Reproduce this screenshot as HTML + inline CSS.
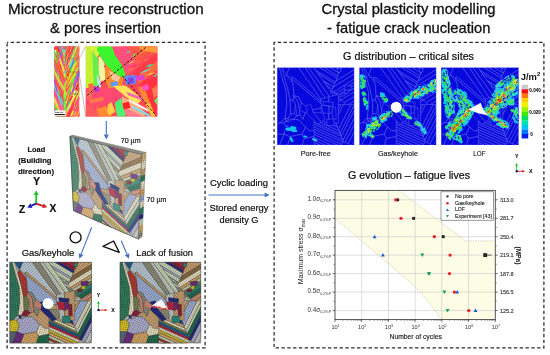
<!DOCTYPE html>
<html lang="en">
<head>
<meta charset="utf-8">
<title>Microstructure reconstruction and crystal plasticity modelling</title>
<style>
html,body{margin:0;padding:0;background:#fff;}
body{width:550px;height:355px;overflow:hidden;}
svg{display:block;font-family:"Liberation Sans", sans-serif;}
</style>
</head>
<body>
<svg width="550" height="355" viewBox="0 0 550 355">
<rect x="0" y="0" width="550" height="355" fill="#ffffff"/>
<text x="8" y="14" font-size="14.3" text-anchor="start" font-weight="normal" fill="#111" stroke="#111" stroke-width="0.31" textLength="195.6" lengthAdjust="spacingAndGlyphs" >Microstructure reconstruction</text>
<text x="50" y="33" font-size="14.3" text-anchor="start" font-weight="normal" fill="#111" stroke="#111" stroke-width="0.31" textLength="111" lengthAdjust="spacingAndGlyphs" >&amp; pores insertion</text>
<text x="321.6" y="14" font-size="14.3" text-anchor="start" font-weight="normal" fill="#111" stroke="#111" stroke-width="0.31" textLength="174" lengthAdjust="spacingAndGlyphs" >Crystal plasticity modelling</text>
<text x="327" y="33" font-size="14.3" text-anchor="start" font-weight="normal" fill="#111" stroke="#111" stroke-width="0.31" textLength="163.4" lengthAdjust="spacingAndGlyphs" >- fatigue crack nucleation</text>
<rect x="7.1" y="42.3" width="198" height="305.6" fill="none" stroke="#2a2a2a" stroke-width="1.25" stroke-dasharray="3.4 2.41" stroke-dashoffset="2.2"/>
<rect x="274.1" y="42.3" width="269.8" height="305.6" fill="none" stroke="#2a2a2a" stroke-width="1.25" stroke-dasharray="3.4 2.41" stroke-dashoffset="2.2"/>
<text x="239" y="185.5" font-size="9.4" text-anchor="middle" font-weight="normal" fill="#111" stroke="#111" stroke-width="0.21" textLength="58" lengthAdjust="spacingAndGlyphs" >Cyclic loading</text>
<text x="239" y="210.5" font-size="9.39" text-anchor="middle" font-weight="normal" fill="#111" stroke="#111" stroke-width="0.21" textLength="59" lengthAdjust="spacingAndGlyphs" >Stored energy</text>
<text x="239" y="223" font-size="9.23" text-anchor="middle" font-weight="normal" fill="#111" stroke="#111" stroke-width="0.20" textLength="39" lengthAdjust="spacingAndGlyphs" >density G</text>
<line x1="208.5" y1="195" x2="266" y2="195" stroke="#4472C4" stroke-width="1.1"/>
<path d="M269.6 195 L264.6 192.4 L264.6 197.6 Z" fill="#4472C4"/>
<defs>
<pattern id="m-63" width="2.1" height="2.1" patternUnits="userSpaceOnUse" patternTransform="rotate(-63)"><path d="M0 0.2 H2.1 M0.2 0 V2.1" stroke="#1a1a1a" stroke-opacity="0.55" stroke-width="0.36" fill="none"/></pattern>
<pattern id="b-63" width="2.1" height="2.1" patternUnits="userSpaceOnUse" patternTransform="matrix(0.839,0.294,0.009,0.974,0,0) rotate(-63)"><path d="M0 0.2 H2.1 M0.2 0 V2.1" stroke="#1a1a1a" stroke-opacity="0.5" stroke-width="0.34" fill="none"/></pattern>
<pattern id="m-40" width="2.1" height="2.1" patternUnits="userSpaceOnUse" patternTransform="rotate(-40)"><path d="M0 0.2 H2.1 M0.2 0 V2.1" stroke="#1a1a1a" stroke-opacity="0.55" stroke-width="0.36" fill="none"/></pattern>
<pattern id="b-40" width="2.1" height="2.1" patternUnits="userSpaceOnUse" patternTransform="matrix(0.839,0.294,0.009,0.974,0,0) rotate(-40)"><path d="M0 0.2 H2.1 M0.2 0 V2.1" stroke="#1a1a1a" stroke-opacity="0.5" stroke-width="0.34" fill="none"/></pattern>
<pattern id="m-32" width="2.1" height="2.1" patternUnits="userSpaceOnUse" patternTransform="rotate(-32)"><path d="M0 0.2 H2.1 M0.2 0 V2.1" stroke="#1a1a1a" stroke-opacity="0.55" stroke-width="0.36" fill="none"/></pattern>
<pattern id="b-32" width="2.1" height="2.1" patternUnits="userSpaceOnUse" patternTransform="matrix(0.839,0.294,0.009,0.974,0,0) rotate(-32)"><path d="M0 0.2 H2.1 M0.2 0 V2.1" stroke="#1a1a1a" stroke-opacity="0.5" stroke-width="0.34" fill="none"/></pattern>
<pattern id="m0" width="2.1" height="2.1" patternUnits="userSpaceOnUse" patternTransform="rotate(0)"><path d="M0 0.2 H2.1 M0.2 0 V2.1" stroke="#1a1a1a" stroke-opacity="0.55" stroke-width="0.36" fill="none"/></pattern>
<pattern id="b0" width="2.1" height="2.1" patternUnits="userSpaceOnUse" patternTransform="matrix(0.839,0.294,0.009,0.974,0,0) rotate(0)"><path d="M0 0.2 H2.1 M0.2 0 V2.1" stroke="#1a1a1a" stroke-opacity="0.5" stroke-width="0.34" fill="none"/></pattern>
<pattern id="m10" width="2.1" height="2.1" patternUnits="userSpaceOnUse" patternTransform="rotate(10)"><path d="M0 0.2 H2.1 M0.2 0 V2.1" stroke="#1a1a1a" stroke-opacity="0.55" stroke-width="0.36" fill="none"/></pattern>
<pattern id="b10" width="2.1" height="2.1" patternUnits="userSpaceOnUse" patternTransform="matrix(0.839,0.294,0.009,0.974,0,0) rotate(10)"><path d="M0 0.2 H2.1 M0.2 0 V2.1" stroke="#1a1a1a" stroke-opacity="0.5" stroke-width="0.34" fill="none"/></pattern>
<pattern id="m15" width="2.1" height="2.1" patternUnits="userSpaceOnUse" patternTransform="rotate(15)"><path d="M0 0.2 H2.1 M0.2 0 V2.1" stroke="#1a1a1a" stroke-opacity="0.55" stroke-width="0.36" fill="none"/></pattern>
<pattern id="b15" width="2.1" height="2.1" patternUnits="userSpaceOnUse" patternTransform="matrix(0.839,0.294,0.009,0.974,0,0) rotate(15)"><path d="M0 0.2 H2.1 M0.2 0 V2.1" stroke="#1a1a1a" stroke-opacity="0.5" stroke-width="0.34" fill="none"/></pattern>
<pattern id="m20" width="2.1" height="2.1" patternUnits="userSpaceOnUse" patternTransform="rotate(20)"><path d="M0 0.2 H2.1 M0.2 0 V2.1" stroke="#1a1a1a" stroke-opacity="0.55" stroke-width="0.36" fill="none"/></pattern>
<pattern id="b20" width="2.1" height="2.1" patternUnits="userSpaceOnUse" patternTransform="matrix(0.839,0.294,0.009,0.974,0,0) rotate(20)"><path d="M0 0.2 H2.1 M0.2 0 V2.1" stroke="#1a1a1a" stroke-opacity="0.5" stroke-width="0.34" fill="none"/></pattern>
<pattern id="m24" width="2.1" height="2.1" patternUnits="userSpaceOnUse" patternTransform="rotate(24)"><path d="M0 0.2 H2.1 M0.2 0 V2.1" stroke="#1a1a1a" stroke-opacity="0.55" stroke-width="0.36" fill="none"/></pattern>
<pattern id="b24" width="2.1" height="2.1" patternUnits="userSpaceOnUse" patternTransform="matrix(0.839,0.294,0.009,0.974,0,0) rotate(24)"><path d="M0 0.2 H2.1 M0.2 0 V2.1" stroke="#1a1a1a" stroke-opacity="0.5" stroke-width="0.34" fill="none"/></pattern>
<pattern id="m25" width="2.1" height="2.1" patternUnits="userSpaceOnUse" patternTransform="rotate(25)"><path d="M0 0.2 H2.1 M0.2 0 V2.1" stroke="#1a1a1a" stroke-opacity="0.55" stroke-width="0.36" fill="none"/></pattern>
<pattern id="b25" width="2.1" height="2.1" patternUnits="userSpaceOnUse" patternTransform="matrix(0.839,0.294,0.009,0.974,0,0) rotate(25)"><path d="M0 0.2 H2.1 M0.2 0 V2.1" stroke="#1a1a1a" stroke-opacity="0.5" stroke-width="0.34" fill="none"/></pattern>
<pattern id="m30" width="2.1" height="2.1" patternUnits="userSpaceOnUse" patternTransform="rotate(30)"><path d="M0 0.2 H2.1 M0.2 0 V2.1" stroke="#1a1a1a" stroke-opacity="0.55" stroke-width="0.36" fill="none"/></pattern>
<pattern id="b30" width="2.1" height="2.1" patternUnits="userSpaceOnUse" patternTransform="matrix(0.839,0.294,0.009,0.974,0,0) rotate(30)"><path d="M0 0.2 H2.1 M0.2 0 V2.1" stroke="#1a1a1a" stroke-opacity="0.5" stroke-width="0.34" fill="none"/></pattern>
<pattern id="m31" width="2.1" height="2.1" patternUnits="userSpaceOnUse" patternTransform="rotate(31)"><path d="M0 0.2 H2.1 M0.2 0 V2.1" stroke="#1a1a1a" stroke-opacity="0.55" stroke-width="0.36" fill="none"/></pattern>
<pattern id="b31" width="2.1" height="2.1" patternUnits="userSpaceOnUse" patternTransform="matrix(0.839,0.294,0.009,0.974,0,0) rotate(31)"><path d="M0 0.2 H2.1 M0.2 0 V2.1" stroke="#1a1a1a" stroke-opacity="0.5" stroke-width="0.34" fill="none"/></pattern>
<pattern id="m40" width="2.1" height="2.1" patternUnits="userSpaceOnUse" patternTransform="rotate(40)"><path d="M0 0.2 H2.1 M0.2 0 V2.1" stroke="#1a1a1a" stroke-opacity="0.55" stroke-width="0.36" fill="none"/></pattern>
<pattern id="b40" width="2.1" height="2.1" patternUnits="userSpaceOnUse" patternTransform="matrix(0.839,0.294,0.009,0.974,0,0) rotate(40)"><path d="M0 0.2 H2.1 M0.2 0 V2.1" stroke="#1a1a1a" stroke-opacity="0.5" stroke-width="0.34" fill="none"/></pattern>
<pattern id="m50" width="2.1" height="2.1" patternUnits="userSpaceOnUse" patternTransform="rotate(50)"><path d="M0 0.2 H2.1 M0.2 0 V2.1" stroke="#1a1a1a" stroke-opacity="0.55" stroke-width="0.36" fill="none"/></pattern>
<pattern id="b50" width="2.1" height="2.1" patternUnits="userSpaceOnUse" patternTransform="matrix(0.839,0.294,0.009,0.974,0,0) rotate(50)"><path d="M0 0.2 H2.1 M0.2 0 V2.1" stroke="#1a1a1a" stroke-opacity="0.5" stroke-width="0.34" fill="none"/></pattern>
<pattern id="m52" width="2.1" height="2.1" patternUnits="userSpaceOnUse" patternTransform="rotate(52)"><path d="M0 0.2 H2.1 M0.2 0 V2.1" stroke="#1a1a1a" stroke-opacity="0.55" stroke-width="0.36" fill="none"/></pattern>
<pattern id="b52" width="2.1" height="2.1" patternUnits="userSpaceOnUse" patternTransform="matrix(0.839,0.294,0.009,0.974,0,0) rotate(52)"><path d="M0 0.2 H2.1 M0.2 0 V2.1" stroke="#1a1a1a" stroke-opacity="0.5" stroke-width="0.34" fill="none"/></pattern>
<pattern id="m55" width="2.1" height="2.1" patternUnits="userSpaceOnUse" patternTransform="rotate(55)"><path d="M0 0.2 H2.1 M0.2 0 V2.1" stroke="#1a1a1a" stroke-opacity="0.55" stroke-width="0.36" fill="none"/></pattern>
<pattern id="b55" width="2.1" height="2.1" patternUnits="userSpaceOnUse" patternTransform="matrix(0.839,0.294,0.009,0.974,0,0) rotate(55)"><path d="M0 0.2 H2.1 M0.2 0 V2.1" stroke="#1a1a1a" stroke-opacity="0.5" stroke-width="0.34" fill="none"/></pattern>
<pattern id="m60" width="2.1" height="2.1" patternUnits="userSpaceOnUse" patternTransform="rotate(60)"><path d="M0 0.2 H2.1 M0.2 0 V2.1" stroke="#1a1a1a" stroke-opacity="0.55" stroke-width="0.36" fill="none"/></pattern>
<pattern id="b60" width="2.1" height="2.1" patternUnits="userSpaceOnUse" patternTransform="matrix(0.839,0.294,0.009,0.974,0,0) rotate(60)"><path d="M0 0.2 H2.1 M0.2 0 V2.1" stroke="#1a1a1a" stroke-opacity="0.5" stroke-width="0.34" fill="none"/></pattern>
<pattern id="m65" width="2.1" height="2.1" patternUnits="userSpaceOnUse" patternTransform="rotate(65)"><path d="M0 0.2 H2.1 M0.2 0 V2.1" stroke="#1a1a1a" stroke-opacity="0.55" stroke-width="0.36" fill="none"/></pattern>
<pattern id="b65" width="2.1" height="2.1" patternUnits="userSpaceOnUse" patternTransform="matrix(0.839,0.294,0.009,0.974,0,0) rotate(65)"><path d="M0 0.2 H2.1 M0.2 0 V2.1" stroke="#1a1a1a" stroke-opacity="0.5" stroke-width="0.34" fill="none"/></pattern>
<pattern id="m70" width="2.1" height="2.1" patternUnits="userSpaceOnUse" patternTransform="rotate(70)"><path d="M0 0.2 H2.1 M0.2 0 V2.1" stroke="#1a1a1a" stroke-opacity="0.55" stroke-width="0.36" fill="none"/></pattern>
<pattern id="b70" width="2.1" height="2.1" patternUnits="userSpaceOnUse" patternTransform="matrix(0.839,0.294,0.009,0.974,0,0) rotate(70)"><path d="M0 0.2 H2.1 M0.2 0 V2.1" stroke="#1a1a1a" stroke-opacity="0.5" stroke-width="0.34" fill="none"/></pattern>
<pattern id="m78" width="2.1" height="2.1" patternUnits="userSpaceOnUse" patternTransform="rotate(78)"><path d="M0 0.2 H2.1 M0.2 0 V2.1" stroke="#1a1a1a" stroke-opacity="0.55" stroke-width="0.36" fill="none"/></pattern>
<pattern id="b78" width="2.1" height="2.1" patternUnits="userSpaceOnUse" patternTransform="matrix(0.839,0.294,0.009,0.974,0,0) rotate(78)"><path d="M0 0.2 H2.1 M0.2 0 V2.1" stroke="#1a1a1a" stroke-opacity="0.5" stroke-width="0.34" fill="none"/></pattern>
<pattern id="m80" width="2.1" height="2.1" patternUnits="userSpaceOnUse" patternTransform="rotate(80)"><path d="M0 0.2 H2.1 M0.2 0 V2.1" stroke="#1a1a1a" stroke-opacity="0.55" stroke-width="0.36" fill="none"/></pattern>
<pattern id="b80" width="2.1" height="2.1" patternUnits="userSpaceOnUse" patternTransform="matrix(0.839,0.294,0.009,0.974,0,0) rotate(80)"><path d="M0 0.2 H2.1 M0.2 0 V2.1" stroke="#1a1a1a" stroke-opacity="0.5" stroke-width="0.34" fill="none"/></pattern>
<pattern id="m85" width="2.1" height="2.1" patternUnits="userSpaceOnUse" patternTransform="rotate(85)"><path d="M0 0.2 H2.1 M0.2 0 V2.1" stroke="#1a1a1a" stroke-opacity="0.55" stroke-width="0.36" fill="none"/></pattern>
<pattern id="b85" width="2.1" height="2.1" patternUnits="userSpaceOnUse" patternTransform="matrix(0.839,0.294,0.009,0.974,0,0) rotate(85)"><path d="M0 0.2 H2.1 M0.2 0 V2.1" stroke="#1a1a1a" stroke-opacity="0.5" stroke-width="0.34" fill="none"/></pattern>
<clipPath id="panel"><rect x="0" y="0" width="81" height="81"/></clipPath>
<filter id="soft" x="-5%" y="-5%" width="110%" height="110%"><feGaussianBlur stdDeviation="0.3"/></filter>
<filter id="soft2" x="-5%" y="-5%" width="110%" height="110%"><feGaussianBlur stdDeviation="0.55"/></filter>
<g id="micro">
<polygon points="0.0,81.0 81.0,81.0 81.0,0.0 0.0,0.0" fill="#b0b3aa" stroke="#2a2a2a" stroke-width="0.32"/>
<polygon points="0.0,81.0 81.0,81.0 81.0,0.0 0.0,0.0" fill="url(#m0)"/>
<polygon points="0.0,58.8 3.6,57.6 8.3,52.9 10.1,38.9 9.5,24.7 5.9,12.9 2.4,0.0 0.0,0.0" fill="#2f7a5c" stroke="#2a2a2a" stroke-width="0.32"/>
<polygon points="0.0,58.8 3.6,57.6 8.3,52.9 10.1,38.9 9.5,24.7 5.9,12.9 2.4,0.0 0.0,0.0" fill="url(#m85)"/>
<polygon points="5.9,12.9 9.5,24.7 10.1,38.9 8.3,52.9 11.2,53.7 14.2,48.4 13.6,34.2 11.2,22.4 7.7,10.5 4.7,0.0 2.4,0.0" fill="#e6dfc0" stroke="#2a2a2a" stroke-width="0.32"/>
<polygon points="5.9,12.9 9.5,24.7 10.1,38.9 8.3,52.9 11.2,53.7 14.2,48.4 13.6,34.2 11.2,22.4 7.7,10.5 4.7,0.0 2.4,0.0" fill="url(#m78)"/>
<polygon points="9.7,7.6 13.0,0.0 4.7,0.0" fill="#1d5c8c" stroke="#2a2a2a" stroke-width="0.32"/>
<polygon points="9.7,7.6 13.0,0.0 4.7,0.0" fill="url(#m60)"/>
<polygon points="11.2,22.4 13.6,34.2 16.6,34.2 17.8,29.5 16.6,16.4 9.7,7.6 7.7,10.5" fill="#b23a32" stroke="#2a2a2a" stroke-width="0.32"/>
<polygon points="11.2,22.4 13.6,34.2 16.6,34.2 17.8,29.5 16.6,16.4 9.7,7.6 7.7,10.5" fill="url(#m70)"/>
<polygon points="9.7,7.6 14.8,11.1 16.6,9.9 42.8,32.4 48.5,36.6 42.8,28.3 22.5,0.0 13.0,0.0" fill="#bccad6" stroke="#2a2a2a" stroke-width="0.32"/>
<polygon points="9.7,7.6 14.8,11.1 16.6,9.9 42.8,32.4 48.5,36.6 42.8,28.3 22.5,0.0 13.0,0.0" fill="url(#m52)"/>
<polygon points="42.8,28.3 50.9,39.5 54.4,37.8 29.6,0.0 22.5,0.0" fill="#8f8d78" stroke="#2a2a2a" stroke-width="0.32"/>
<polygon points="42.8,28.3 50.9,39.5 54.4,37.8 29.6,0.0 22.5,0.0" fill="url(#m55)"/>
<polygon points="54.4,37.8 58.0,34.2 33.1,0.0 29.6,0.0" fill="#c4cac2" stroke="#2a2a2a" stroke-width="0.32"/>
<polygon points="54.4,37.8 58.0,34.2 33.1,0.0 29.6,0.0" fill="url(#m55)"/>
<polygon points="58.0,34.2 61.5,30.7 38.5,0.0 33.1,0.0" fill="#c9d6b8" stroke="#2a2a2a" stroke-width="0.32"/>
<polygon points="58.0,34.2 61.5,30.7 38.5,0.0 33.1,0.0" fill="url(#m55)"/>
<polygon points="17.8,29.5 22.5,30.7 29.8,46.0 34.3,44.9 50.9,41.3 42.8,34.8 14.8,11.1 16.6,16.4" fill="#9dafd6" stroke="#2a2a2a" stroke-width="0.32"/>
<polygon points="17.8,29.5 22.5,30.7 29.8,46.0 34.3,44.9 50.9,41.3 42.8,34.8 14.8,11.1 16.6,16.4" fill="url(#m50)"/>
<polygon points="42.8,34.8 50.9,41.3 48.5,37.8 42.8,32.4 16.6,9.9 14.8,11.1" fill="#d6a565" stroke="#2a2a2a" stroke-width="0.32"/>
<polygon points="42.8,34.8 50.9,41.3 48.5,37.8 42.8,32.4 16.6,9.9 14.8,11.1" fill="url(#m40)"/>
<polygon points="14.2,48.4 18.3,48.4 19.2,37.8 16.6,34.2 13.6,34.2" fill="#74824e" stroke="#2a2a2a" stroke-width="0.32"/>
<polygon points="14.2,48.4 18.3,48.4 19.2,37.8 16.6,34.2 13.6,34.2" fill="url(#m80)"/>
<polygon points="19.2,37.8 20.7,50.8 23.9,49.6 22.5,36.6 17.8,29.5 16.6,34.2" fill="#d08a72" stroke="#2a2a2a" stroke-width="0.32"/>
<polygon points="19.2,37.8 20.7,50.8 23.9,49.6 22.5,36.6 17.8,29.5 16.6,34.2" fill="url(#m70)"/>
<polygon points="22.5,36.6 23.9,49.6 27.2,54.3 29.8,46.0 22.5,30.7 17.8,29.5" fill="#8f8d78" stroke="#2a2a2a" stroke-width="0.32"/>
<polygon points="22.5,36.6 23.9,49.6 27.2,54.3 29.8,46.0 22.5,30.7 17.8,29.5" fill="url(#m65)"/>
<polygon points="11.2,53.7 16.6,54.3 20.7,50.8 18.3,48.4 14.2,48.4" fill="#8c1f3c" stroke="#2a2a2a" stroke-width="0.32"/>
<polygon points="11.2,53.7 16.6,54.3 20.7,50.8 18.3,48.4 14.2,48.4" fill="url(#m60)"/>
<polygon points="8.9,55.5 11.8,56.7 11.2,53.7 8.3,52.9" fill="#1f2a7c" stroke="#2a2a2a" stroke-width="0.32"/>
<polygon points="8.9,55.5 11.8,56.7 11.2,53.7 8.3,52.9" fill="url(#m30)"/>
<polygon points="22.5,54.7 29.8,62.4 34.3,66.2 50.9,66.5 50.9,41.3 34.3,44.9 29.8,46.0 27.2,54.3 23.9,49.6 20.7,50.8 16.6,54.3" fill="#c9a070" stroke="#2a2a2a" stroke-width="0.32"/>
<polygon points="22.5,54.7 29.8,62.4 34.3,66.2 50.9,66.5 50.9,41.3 34.3,44.9 29.8,46.0 27.2,54.3 23.9,49.6 20.7,50.8 16.6,54.3" fill="url(#m30)"/>
<polygon points="7.1,58.2 8.3,56.4 11.8,56.7 8.9,55.5 8.3,52.9 3.6,57.6" fill="#c4cac2" stroke="#2a2a2a" stroke-width="0.32"/>
<polygon points="7.1,58.2 8.3,56.4 11.8,56.7 8.9,55.5 8.3,52.9 3.6,57.6" fill="url(#m20)"/>
<polygon points="0.0,69.7 7.1,69.7 9.5,62.4 7.1,58.2 3.6,57.6 0.0,58.8" fill="#d9c224" stroke="#2a2a2a" stroke-width="0.32"/>
<polygon points="0.0,69.7 7.1,69.7 9.5,62.4 7.1,58.2 3.6,57.6 0.0,58.8" fill="url(#m10)"/>
<polygon points="9.5,62.4 7.1,69.7 13.0,72.1 26.3,69.7 29.8,62.4 22.5,54.7 16.6,54.3 11.8,56.7 8.3,56.4 7.1,58.2" fill="#aeaed0" stroke="#2a2a2a" stroke-width="0.32"/>
<polygon points="9.5,62.4 7.1,69.7 13.0,72.1 26.3,69.7 29.8,62.4 22.5,54.7 16.6,54.3 11.8,56.7 8.3,56.4 7.1,58.2" fill="url(#m25)"/>
<polygon points="0.0,81.0 2.6,81.0 5.9,73.3 7.1,69.7 0.0,69.7" fill="#5d6a78" stroke="#2a2a2a" stroke-width="0.32"/>
<polygon points="0.0,81.0 2.6,81.0 5.9,73.3 7.1,69.7 0.0,69.7" fill="url(#m30)"/>
<polygon points="2.6,81.0 10.9,81.0 14.2,72.1 13.0,72.1 7.1,69.7 5.9,73.3" fill="#6c2c80" stroke="#2a2a2a" stroke-width="0.32"/>
<polygon points="2.6,81.0 10.9,81.0 14.2,72.1 13.0,72.1 7.1,69.7 5.9,73.3" fill="url(#m60)"/>
<polygon points="10.9,81.0 26.4,81.0 28.6,74.2 26.3,69.7 14.2,72.1" fill="#d6a565" stroke="#2a2a2a" stroke-width="0.32"/>
<polygon points="10.9,81.0 26.4,81.0 28.6,74.2 26.3,69.7 14.2,72.1" fill="url(#m20)"/>
<polygon points="28.6,74.2 50.9,69.7 50.9,66.5 34.3,66.2 29.8,62.4 26.3,69.7" fill="#e6dfc0" stroke="#2a2a2a" stroke-width="0.32"/>
<polygon points="28.6,74.2 50.9,69.7 50.9,66.5 34.3,66.2 29.8,62.4 26.3,69.7" fill="url(#m15)"/>
<polygon points="26.4,81.0 50.9,81.0 50.9,69.7 28.6,74.2" fill="#1f6a4c" stroke="#2a2a2a" stroke-width="0.32"/>
<polygon points="26.4,81.0 50.9,81.0 50.9,69.7 28.6,74.2" fill="url(#m15)"/>
<polygon points="61.2,0.0 66.4,3.1 67.8,0.0" fill="#b23a32" stroke="#2a2a2a" stroke-width="0.32"/>
<polygon points="61.2,0.0 66.4,3.1 67.8,0.0" fill="url(#m31)"/>
<polygon points="61.2,0.0 55.4,0.0 65.1,5.8 66.4,3.1" fill="#c0203c" stroke="#2a2a2a" stroke-width="0.32"/>
<polygon points="61.2,0.0 55.4,0.0 65.1,5.8 66.4,3.1" fill="url(#m31)"/>
<polygon points="55.4,0.0 49.2,0.0 63.8,8.8 64.3,7.6 65.1,5.8" fill="#8c1f3c" stroke="#2a2a2a" stroke-width="0.32"/>
<polygon points="55.4,0.0 49.2,0.0 63.8,8.8 64.3,7.6 65.1,5.8" fill="url(#m31)"/>
<polygon points="49.2,0.0 44.5,0.0 63.0,11.1 63.8,8.8" fill="#1f2a7c" stroke="#2a2a2a" stroke-width="0.32"/>
<polygon points="49.2,0.0 44.5,0.0 63.0,11.1 63.8,8.8" fill="url(#m31)"/>
<polygon points="44.5,0.0 38.5,0.0 40.6,3.0 61.3,15.4 61.9,14.1 63.0,11.1" fill="#c9d6b8" stroke="#2a2a2a" stroke-width="0.32"/>
<polygon points="44.5,0.0 38.5,0.0 40.6,3.0 61.3,15.4 61.9,14.1 63.0,11.1" fill="url(#m31)"/>
<polygon points="40.6,3.0 43.1,6.5 60.5,17.0 61.3,15.4" fill="#aeaed0" stroke="#2a2a2a" stroke-width="0.32"/>
<polygon points="40.6,3.0 43.1,6.5 60.5,17.0 61.3,15.4" fill="url(#m31)"/>
<polygon points="43.1,6.5 48.4,13.9 59.0,20.3 60.5,17.0" fill="#c9d6b8" stroke="#2a2a2a" stroke-width="0.32"/>
<polygon points="43.1,6.5 48.4,13.9 59.0,20.3 60.5,17.0" fill="url(#m31)"/>
<polygon points="48.4,13.9 48.5,14.1 52.5,19.6 57.8,22.8 59.0,20.3" fill="#8f8d78" stroke="#2a2a2a" stroke-width="0.32"/>
<polygon points="48.4,13.9 48.5,14.1 52.5,19.6 57.8,22.8 59.0,20.3" fill="url(#m31)"/>
<polygon points="52.5,19.6 55.4,23.7 55.9,24.4 63.5,29.0 57.8,23.0 57.8,22.8" fill="#c4cac2" stroke="#2a2a2a" stroke-width="0.32"/>
<polygon points="52.5,19.6 55.4,23.7 55.9,24.4 63.5,29.0 57.8,23.0 57.8,22.8" fill="url(#m31)"/>
<polygon points="55.9,24.4 58.9,29.5 58.9,29.5 67.3,34.5 68.4,34.2 63.5,29.0" fill="#8f8d78" stroke="#2a2a2a" stroke-width="0.32"/>
<polygon points="55.9,24.4 58.9,29.5 58.9,29.5 67.3,34.5 68.4,34.2 63.5,29.0" fill="url(#m31)"/>
<polygon points="58.9,29.5 58.1,32.5 63.4,35.7 67.3,34.5" fill="#d08a72" stroke="#2a2a2a" stroke-width="0.32"/>
<polygon points="58.9,29.5 58.1,32.5 63.4,35.7 67.3,34.5" fill="url(#m31)"/>
<polygon points="58.1,32.5 56.8,37.0 57.5,37.5 63.4,35.7" fill="#9dafd6" stroke="#2a2a2a" stroke-width="0.32"/>
<polygon points="58.1,32.5 56.8,37.0 57.5,37.5 63.4,35.7" fill="url(#m31)"/>
<polygon points="56.8,37.0 56.6,37.8 57.5,37.5" fill="#bccad6" stroke="#2a2a2a" stroke-width="0.32"/>
<polygon points="56.8,37.0 56.6,37.8 57.5,37.5" fill="url(#m31)"/>
<polygon points="67.8,0.0 67.5,0.6 68.5,0.0" fill="#b23a32" stroke="#2a2a2a" stroke-width="0.32"/>
<polygon points="67.8,0.0 67.5,0.6 68.5,0.0" fill="url(#m-32)"/>
<polygon points="81.0,0.0 68.5,0.0 67.5,0.6 64.3,7.6 61.9,14.1 61.9,14.1 81.0,2.2" fill="#c9a070" stroke="#2a2a2a" stroke-width="0.32"/>
<polygon points="81.0,0.0 68.5,0.0 67.5,0.6 64.3,7.6 61.9,14.1 61.9,14.1 81.0,2.2" fill="url(#m-32)"/>
<polygon points="81.0,2.2 61.9,14.1 58.9,20.5 81.0,6.7" fill="#8a6a40" stroke="#2a2a2a" stroke-width="0.32"/>
<polygon points="81.0,2.2 61.9,14.1 58.9,20.5 81.0,6.7" fill="url(#m-32)"/>
<polygon points="81.0,6.7 58.9,20.5 57.8,23.0 59.9,25.3 81.0,12.1" fill="#e6dfc0" stroke="#2a2a2a" stroke-width="0.32"/>
<polygon points="81.0,6.7 58.9,20.5 57.8,23.0 59.9,25.3 81.0,12.1" fill="url(#m-32)"/>
<polygon points="81.0,12.1 59.9,25.3 61.9,27.3 81.0,15.4" fill="#d6a565" stroke="#2a2a2a" stroke-width="0.32"/>
<polygon points="81.0,12.1 59.9,25.3 61.9,27.3 81.0,15.4" fill="url(#m-32)"/>
<polygon points="81.0,15.4 61.9,27.3 63.7,29.3 81.0,18.5" fill="#c9d6b8" stroke="#2a2a2a" stroke-width="0.32"/>
<polygon points="81.0,15.4 61.9,27.3 63.7,29.3 81.0,18.5" fill="url(#m-32)"/>
<polygon points="81.0,18.5 63.7,29.3 65.5,31.2 81.0,21.5" fill="#74824e" stroke="#2a2a2a" stroke-width="0.32"/>
<polygon points="81.0,18.5 63.7,29.3 65.5,31.2 81.0,21.5" fill="url(#m-32)"/>
<polygon points="81.0,21.5 65.5,31.2 67.9,33.7 81.0,25.5" fill="#2a8a7a" stroke="#2a2a2a" stroke-width="0.32"/>
<polygon points="81.0,21.5 65.5,31.2 67.9,33.7 81.0,25.5" fill="url(#m-32)"/>
<polygon points="81.0,25.5 67.9,33.7 68.4,34.2 70.6,36.8 81.0,30.3" fill="#1f6a4c" stroke="#2a2a2a" stroke-width="0.32"/>
<polygon points="81.0,25.5 67.9,33.7 68.4,34.2 70.6,36.8 81.0,30.3" fill="url(#m-32)"/>
<polygon points="81.0,30.3 70.6,36.8 73.1,39.9 81.0,35.0" fill="#d08a72" stroke="#2a2a2a" stroke-width="0.32"/>
<polygon points="81.0,30.3 70.6,36.8 73.1,39.9 81.0,35.0" fill="url(#m-32)"/>
<polygon points="81.0,35.0 73.1,39.9 74.3,41.3 78.4,41.3 81.0,39.7" fill="#d6a565" stroke="#2a2a2a" stroke-width="0.32"/>
<polygon points="81.0,35.0 73.1,39.9 74.3,41.3 78.4,41.3 81.0,39.7" fill="url(#m-32)"/>
<polygon points="62.1,38.7 61.3,38.7 60.9,41.1" fill="#c0203c" stroke="#2a2a2a" stroke-width="0.32"/>
<polygon points="62.1,38.7 61.3,38.7 60.9,41.1" fill="url(#m-63)"/>
<polygon points="60.9,41.1 59.5,48.6 64.5,38.7 62.1,38.7" fill="#8c1f3c" stroke="#2a2a2a" stroke-width="0.32"/>
<polygon points="60.9,41.1 59.5,48.6 64.5,38.7 62.1,38.7" fill="url(#m-63)"/>
<polygon points="59.5,48.6 58.9,51.7 59.7,53.5 67.2,38.7 64.5,38.7" fill="#e6dfc0" stroke="#2a2a2a" stroke-width="0.32"/>
<polygon points="59.5,48.6 58.9,51.7 59.7,53.5 67.2,38.7 64.5,38.7" fill="url(#m-63)"/>
<polygon points="59.7,53.5 60.9,56.4 69.9,38.7 67.2,38.7" fill="#d6a565" stroke="#2a2a2a" stroke-width="0.32"/>
<polygon points="59.7,53.5 60.9,56.4 69.9,38.7 67.2,38.7" fill="url(#m-63)"/>
<polygon points="60.9,56.4 64.3,64.1 64.5,64.8 77.8,38.7 69.9,38.7" fill="#9dafd6" stroke="#2a2a2a" stroke-width="0.32"/>
<polygon points="60.9,56.4 64.3,64.1 64.5,64.8 77.8,38.7 69.9,38.7" fill="url(#m-63)"/>
<polygon points="81.0,38.7 77.8,38.7 64.5,64.8 66.1,68.8 81.0,39.4" fill="#e6dfc0" stroke="#2a2a2a" stroke-width="0.32"/>
<polygon points="81.0,38.7 77.8,38.7 64.5,64.8 66.1,68.8 81.0,39.4" fill="url(#m-63)"/>
<polygon points="81.0,39.4 66.1,68.8 67.3,72.0 81.0,45.2" fill="#c9d6b8" stroke="#2a2a2a" stroke-width="0.32"/>
<polygon points="81.0,39.4 66.1,68.8 67.3,72.0 81.0,45.2" fill="url(#m-63)"/>
<polygon points="81.0,45.2 67.3,72.0 69.1,76.5 81.0,53.1" fill="#1f6a4c" stroke="#2a2a2a" stroke-width="0.32"/>
<polygon points="81.0,45.2 67.3,72.0 69.1,76.5 81.0,53.1" fill="url(#m-63)"/>
<polygon points="81.0,53.1 69.1,76.5 69.6,77.8 71.4,78.5 81.0,59.7" fill="#1f2a7c" stroke="#2a2a2a" stroke-width="0.32"/>
<polygon points="81.0,53.1 69.1,76.5 69.6,77.8 71.4,78.5 81.0,59.7" fill="url(#m-63)"/>
<polygon points="81.0,59.7 71.4,78.5 74.6,79.9 81.0,67.4" fill="#aeaed0" stroke="#2a2a2a" stroke-width="0.32"/>
<polygon points="81.0,59.7 71.4,78.5 74.6,79.9 81.0,67.4" fill="url(#m-63)"/>
<polygon points="81.0,67.4 74.6,79.9 77.2,81.0 78.2,81.0 79.0,80.2 81.0,76.2" fill="#c4cac2" stroke="#2a2a2a" stroke-width="0.32"/>
<polygon points="81.0,67.4 74.6,79.9 77.2,81.0 78.2,81.0 79.0,80.2 81.0,76.2" fill="url(#m-63)"/>
<polygon points="38.8,47.6 38.8,51.3 63.5,62.3 61.5,57.7" fill="#1f2a7c" stroke="#2a2a2a" stroke-width="0.32"/>
<polygon points="38.8,47.6 38.8,51.3 63.5,62.3 61.5,57.7" fill="url(#m24)"/>
<polygon points="38.8,51.3 38.8,54.6 65.1,66.3 64.3,64.1 63.5,62.3" fill="#c9a070" stroke="#2a2a2a" stroke-width="0.32"/>
<polygon points="38.8,51.3 38.8,54.6 65.1,66.3 64.3,64.1 63.5,62.3" fill="url(#m24)"/>
<polygon points="38.8,54.6 38.8,57.2 66.3,69.5 65.1,66.3" fill="#e6dfc0" stroke="#2a2a2a" stroke-width="0.32"/>
<polygon points="38.8,54.6 38.8,57.2 66.3,69.5 65.1,66.3" fill="url(#m24)"/>
<polygon points="38.8,57.2 38.8,59.4 67.4,72.1 66.3,69.5" fill="#74824e" stroke="#2a2a2a" stroke-width="0.32"/>
<polygon points="38.8,57.2 38.8,59.4 67.4,72.1 66.3,69.5" fill="url(#m24)"/>
<polygon points="38.8,59.4 38.8,62.2 68.7,75.6 67.4,72.1" fill="#1d5c8c" stroke="#2a2a2a" stroke-width="0.32"/>
<polygon points="38.8,59.4 38.8,62.2 68.7,75.6 67.4,72.1" fill="url(#m24)"/>
<polygon points="38.8,62.2 38.8,64.7 69.3,78.2 69.6,77.8 68.7,75.6" fill="#c0203c" stroke="#2a2a2a" stroke-width="0.32"/>
<polygon points="38.8,62.2 38.8,64.7 69.3,78.2 69.6,77.8 68.7,75.6" fill="url(#m24)"/>
<polygon points="38.8,64.7 38.8,67.5 67.8,80.4 69.3,78.2" fill="#e6dfc0" stroke="#2a2a2a" stroke-width="0.32"/>
<polygon points="38.8,64.7 38.8,67.5 67.8,80.4 69.3,78.2" fill="url(#m24)"/>
<polygon points="67.4,81.0 67.8,80.4 38.8,67.5 38.8,70.1 63.2,81.0" fill="#d9c224" stroke="#2a2a2a" stroke-width="0.32"/>
<polygon points="67.4,81.0 67.8,80.4 38.8,67.5 38.8,70.1 63.2,81.0" fill="url(#m24)"/>
<polygon points="63.2,81.0 38.8,70.1 38.8,73.2 56.4,81.0" fill="#d6a565" stroke="#2a2a2a" stroke-width="0.32"/>
<polygon points="63.2,81.0 38.8,70.1 38.8,73.2 56.4,81.0" fill="url(#m24)"/>
<polygon points="56.4,81.0 38.8,73.2 38.8,76.0 50.0,81.0" fill="#c9d6b8" stroke="#2a2a2a" stroke-width="0.32"/>
<polygon points="56.4,81.0 38.8,73.2 38.8,76.0 50.0,81.0" fill="url(#m24)"/>
<polygon points="50.0,81.0 38.8,76.0 38.8,78.4 44.6,81.0" fill="#b23a32" stroke="#2a2a2a" stroke-width="0.32"/>
<polygon points="50.0,81.0 38.8,76.0 38.8,78.4 44.6,81.0" fill="url(#m24)"/>
<polygon points="44.6,81.0 38.8,78.4 38.8,81.0" fill="#e6dfc0" stroke="#2a2a2a" stroke-width="0.32"/>
<polygon points="44.6,81.0 38.8,78.4 38.8,81.0" fill="url(#m24)"/>
<polygon points="46.3,48.3 49.8,57.8 54.3,57.8 54.3,30.5 46.3,32.9" fill="#c4cac2" stroke="#2a2a2a" stroke-width="0.32"/>
<polygon points="46.3,48.3 49.8,57.8 54.3,57.8 54.3,30.5 46.3,32.9" fill="url(#m-40)"/>
<polygon points="54.3,57.8 64.4,58.3 64.4,28.2 54.3,30.5" fill="#c9a070" stroke="#2a2a2a" stroke-width="0.32"/>
<polygon points="54.3,57.8 64.4,58.3 64.4,28.2 54.3,30.5" fill="url(#m-40)"/>
<polygon points="52.5,60.8 60.2,60.4 59.6,53.7 51.9,54.2" fill="#2a8a7a" stroke="#2a2a2a" stroke-width="0.32"/>
<polygon points="52.5,60.8 60.2,60.4 59.6,53.7 51.9,54.2" fill="url(#m-40)"/>
<polygon points="30.6,47.7 42.5,59.2 46.6,57.2 37.7,46.5 35.4,38.6 29.5,40.0" fill="#1f2a7c" stroke="#2a2a2a" stroke-width="0.32"/>
<polygon points="30.6,47.7 42.5,59.2 46.6,57.2 37.7,46.5 35.4,38.6 29.5,40.0" fill="url(#m50)"/>
<polygon points="46.6,57.2 49.8,54.2 48.4,47.7 37.7,46.5" fill="#8f8d78" stroke="#2a2a2a" stroke-width="0.32"/>
<polygon points="46.6,57.2 49.8,54.2 48.4,47.7 37.7,46.5" fill="url(#m50)"/>
<polygon points="49.0,39.4 58.4,40.6 59.0,36.5 48.4,35.3" fill="#1f2a7c" stroke="#2a2a2a" stroke-width="0.32"/>
<polygon points="49.0,39.4 58.4,40.6 59.0,36.5 48.4,35.3" fill="url(#m10)"/>
<polygon points="48.4,47.1 54.9,48.3 54.3,40.6 46.6,39.4" fill="#c0203c" stroke="#2a2a2a" stroke-width="0.32"/>
<polygon points="48.4,47.1 54.9,48.3 54.3,40.6 46.6,39.4" fill="url(#m60)"/>
<polygon points="54.9,48.3 58.1,46.5 58.4,40.6 54.3,40.6" fill="#6c2c80" stroke="#2a2a2a" stroke-width="0.32"/>
<polygon points="54.9,48.3 58.1,46.5 58.4,40.6 54.3,40.6" fill="url(#m60)"/>
<polygon points="58.4,53.0 62.0,54.2 61.6,41.8 57.9,42.4" fill="#8c1f3c" stroke="#2a2a2a" stroke-width="0.32"/>
<polygon points="58.4,53.0 62.0,54.2 61.6,41.8 57.9,42.4" fill="url(#m80)"/>
<polygon points="23.5,44.1 30.6,47.7 31.8,42.4 25.9,36.5" fill="#d08a72" stroke="#2a2a2a" stroke-width="0.32"/>
<polygon points="23.5,44.1 30.6,47.7 31.8,42.4 25.9,36.5" fill="url(#m50)"/>
<polygon points="71.0,26.9 74.3,27.1 75.7,23.0 70.8,23.8" fill="#d9c224" stroke="#2a2a2a" stroke-width="0.32"/>
<polygon points="71.0,26.9 74.3,27.1 75.7,23.0 70.8,23.8" fill="url(#m20)"/>
<polygon points="71.0,23.6 77.3,23.0 77.9,18.8 70.5,19.4" fill="#6c2c80" stroke="#2a2a2a" stroke-width="0.32"/>
<polygon points="71.0,23.6 77.3,23.0 77.9,18.8 70.5,19.4" fill="url(#m20)"/>
<polygon points="67.5,29.7 71.5,29.7 72.0,26.9 67.0,27.1" fill="#8c1f3c" stroke="#2a2a2a" stroke-width="0.32"/>
<polygon points="67.5,29.7 71.5,29.7 72.0,26.9 67.0,27.1" fill="url(#m20)"/>
<polygon points="63.9,5.2 67.0,4.0 66.6,0.5 63.1,1.1" fill="#2a8a7a" stroke="#2a2a2a" stroke-width="0.32"/>
<polygon points="63.9,5.2 67.0,4.0 66.6,0.5 63.1,1.1" fill="url(#m20)"/>
</g>
<g id="block">
<polygon points="73.5,210.6 138.5,239.2 141.8,154.4 69.9,136.3" fill="#b0b3aa" stroke="#2a2a2a" stroke-width="0.3"/>
<polygon points="73.5,210.6 138.5,239.2 141.8,154.4 69.9,136.3" fill="url(#b0)"/>
<polygon points="72.6,191.6 75.0,191.5 78.3,188.6 79.1,176.3 78.1,162.7 74.9,150.4 71.7,136.7 69.9,136.3" fill="#2f7a5c" stroke="#2a2a2a" stroke-width="0.3"/>
<polygon points="72.6,191.6 75.0,191.5 78.3,188.6 79.1,176.3 78.1,162.7 74.9,150.4 71.7,136.7 69.9,136.3" fill="url(#b85)"/>
<polygon points="74.9,150.4 78.1,162.7 79.1,176.3 78.3,188.6 80.5,190.2 82.5,186.2 81.6,172.8 79.4,160.8 76.2,148.4 73.5,137.2 71.7,136.7" fill="#e6dfc0" stroke="#2a2a2a" stroke-width="0.3"/>
<polygon points="74.9,150.4 78.1,162.7 79.1,176.3 78.3,188.6 80.5,190.2 82.5,186.2 81.6,172.8 79.4,160.8 76.2,148.4 73.5,137.2 71.7,136.7" fill="url(#b78)"/>
<polygon points="77.6,145.8 79.9,138.8 73.5,137.2" fill="#1d5c8c" stroke="#2a2a2a" stroke-width="0.3"/>
<polygon points="77.6,145.8 79.9,138.8 73.5,137.2" fill="url(#b60)"/>
<polygon points="79.4,160.8 81.6,172.8 83.8,173.5 84.6,169.3 83.3,156.2 77.6,145.8 76.2,148.4" fill="#b23a32" stroke="#2a2a2a" stroke-width="0.3"/>
<polygon points="79.4,160.8 81.6,172.8 83.8,173.5 84.6,169.3 83.3,156.2 77.6,145.8 76.2,148.4" fill="url(#b70)"/>
<polygon points="77.6,145.8 81.7,150.5 83.0,149.7 105.1,178.9 110.0,184.7 105.1,174.7 87.5,140.7 79.9,138.8" fill="#bccad6" stroke="#2a2a2a" stroke-width="0.3"/>
<polygon points="77.6,145.8 81.7,150.5 83.0,149.7 105.1,178.9 110.0,184.7 105.1,174.7 87.5,140.7 79.9,138.8" fill="url(#b52)"/>
<polygon points="105.1,174.7 112.0,188.3 115.2,187.7 93.4,142.2 87.5,140.7" fill="#8f8d78" stroke="#2a2a2a" stroke-width="0.3"/>
<polygon points="105.1,174.7 112.0,188.3 115.2,187.7 93.4,142.2 87.5,140.7" fill="url(#b55)"/>
<polygon points="115.2,187.7 118.4,185.1 96.4,143.0 93.4,142.2" fill="#c4cac2" stroke="#2a2a2a" stroke-width="0.3"/>
<polygon points="115.2,187.7 118.4,185.1 96.4,143.0 93.4,142.2" fill="url(#b55)"/>
<polygon points="118.4,185.1 121.7,182.6 101.0,144.1 96.4,143.0" fill="#c9d6b8" stroke="#2a2a2a" stroke-width="0.3"/>
<polygon points="118.4,185.1 121.7,182.6 101.0,144.1 96.4,143.0" fill="url(#b55)"/>
<polygon points="84.6,169.3 88.3,171.6 94.5,188.4 98.1,188.6 112.0,190.1 105.1,181.3 81.7,150.5 83.3,156.2" fill="#9dafd6" stroke="#2a2a2a" stroke-width="0.3"/>
<polygon points="84.6,169.3 88.3,171.6 94.5,188.4 98.1,188.6 112.0,190.1 105.1,181.3 81.7,150.5 83.3,156.2" fill="url(#b50)"/>
<polygon points="105.1,181.3 112.0,190.1 110.0,185.9 105.1,178.9 83.0,149.7 81.7,150.5" fill="#d6a565" stroke="#2a2a2a" stroke-width="0.3"/>
<polygon points="105.1,181.3 112.0,190.1 110.0,185.9 105.1,178.9 83.0,149.7 81.7,150.5" fill="url(#b40)"/>
<polygon points="82.5,186.2 85.6,187.3 86.0,177.6 83.8,173.5 81.6,172.8" fill="#74824e" stroke="#2a2a2a" stroke-width="0.3"/>
<polygon points="82.5,186.2 85.6,187.3 86.0,177.6 83.8,173.5 81.6,172.8" fill="url(#b80)"/>
<polygon points="86.0,177.6 87.5,190.2 89.9,190.0 88.5,177.3 84.6,169.3 83.8,173.5" fill="#d08a72" stroke="#2a2a2a" stroke-width="0.3"/>
<polygon points="86.0,177.6 87.5,190.2 89.9,190.0 88.5,177.3 84.6,169.3 83.8,173.5" fill="url(#b70)"/>
<polygon points="88.5,177.3 89.9,190.0 92.6,195.4 94.5,188.4 88.3,171.6 84.6,169.3" fill="#8f8d78" stroke="#2a2a2a" stroke-width="0.3"/>
<polygon points="88.5,177.3 89.9,190.0 92.6,195.4 94.5,188.4 88.3,171.6 84.6,169.3" fill="url(#b65)"/>
<polygon points="80.5,190.2 84.5,192.3 87.5,190.2 85.6,187.3 82.5,186.2" fill="#8c1f3c" stroke="#2a2a2a" stroke-width="0.3"/>
<polygon points="80.5,190.2 84.5,192.3 87.5,190.2 85.6,187.3 82.5,186.2" fill="url(#b60)"/>
<polygon points="78.8,191.1 81.0,193.0 80.5,190.2 78.3,188.6" fill="#1f2a7c" stroke="#2a2a2a" stroke-width="0.3"/>
<polygon points="78.8,191.1 81.0,193.0 80.5,190.2 78.3,188.6" fill="url(#b30)"/>
<polygon points="89.0,194.3 94.8,203.5 98.4,208.4 112.0,214.3 112.0,190.1 98.1,188.6 94.5,188.4 92.6,195.4 89.9,190.0 87.5,190.2 84.5,192.3" fill="#c9a070" stroke="#2a2a2a" stroke-width="0.3"/>
<polygon points="89.0,194.3 94.8,203.5 98.4,208.4 112.0,214.3 112.0,190.1 98.1,188.6 94.5,188.4 92.6,195.4 89.9,190.0 87.5,190.2 84.5,192.3" fill="url(#b30)"/>
<polygon points="77.6,193.1 78.4,191.8 81.0,193.0 78.8,191.1 78.3,188.6 75.0,191.5" fill="#c4cac2" stroke="#2a2a2a" stroke-width="0.3"/>
<polygon points="77.6,193.1 78.4,191.8 81.0,193.0 78.8,191.1 78.3,188.6 75.0,191.5" fill="url(#b20)"/>
<polygon points="73.0,201.0 78.0,203.1 79.5,197.4 77.6,193.1 75.0,191.5 72.6,191.6" fill="#d9c224" stroke="#2a2a2a" stroke-width="0.3"/>
<polygon points="73.0,201.0 78.0,203.1 79.5,197.4 77.6,193.1 75.0,191.5 72.6,191.6" fill="url(#b10)"/>
<polygon points="79.5,197.4 78.0,203.1 82.4,207.0 92.2,209.0 94.8,203.5 89.0,194.3 84.5,192.3 81.0,193.0 78.4,191.8 77.6,193.1" fill="#aeaed0" stroke="#2a2a2a" stroke-width="0.3"/>
<polygon points="79.5,197.4 78.0,203.1 82.4,207.0 92.2,209.0 94.8,203.5 89.0,194.3 84.5,192.3 81.0,193.0 78.4,191.8 77.6,193.1" fill="url(#b25)"/>
<polygon points="73.5,210.6 75.3,211.4 77.3,205.8 78.0,203.1 73.0,201.0" fill="#5d6a78" stroke="#2a2a2a" stroke-width="0.3"/>
<polygon points="73.5,210.6 75.3,211.4 77.3,205.8 78.0,203.1 73.0,201.0" fill="url(#b30)"/>
<polygon points="75.3,211.4 81.1,213.9 83.2,207.3 82.4,207.0 78.0,203.1 77.3,205.8" fill="#6c2c80" stroke="#2a2a2a" stroke-width="0.3"/>
<polygon points="75.3,211.4 81.1,213.9 83.2,207.3 82.4,207.0 78.0,203.1 77.3,205.8" fill="url(#b60)"/>
<polygon points="81.1,213.9 92.6,219.0 94.1,213.8 92.2,209.0 83.2,207.3" fill="#d6a565" stroke="#2a2a2a" stroke-width="0.3"/>
<polygon points="81.1,213.9 92.6,219.0 94.1,213.8 92.2,209.0 83.2,207.3" fill="url(#b20)"/>
<polygon points="94.1,213.8 112.0,217.2 112.0,214.3 98.4,208.4 94.8,203.5 92.2,209.0" fill="#e6dfc0" stroke="#2a2a2a" stroke-width="0.3"/>
<polygon points="94.1,213.8 112.0,217.2 112.0,214.3 98.4,208.4 94.8,203.5 92.2,209.0" fill="url(#b15)"/>
<polygon points="92.6,219.0 112.0,227.5 112.0,217.2 94.1,213.8" fill="#1f6a4c" stroke="#2a2a2a" stroke-width="0.3"/>
<polygon points="92.6,219.0 112.0,227.5 112.0,217.2 94.1,213.8" fill="url(#b15)"/>
<polygon points="121.9,149.4 126.8,154.1 128.3,151.0" fill="#b23a32" stroke="#2a2a2a" stroke-width="0.3"/>
<polygon points="121.9,149.4 126.8,154.1 128.3,151.0" fill="url(#b31)"/>
<polygon points="121.9,149.4 116.3,148.0 125.5,156.9 126.8,154.1" fill="#c0203c" stroke="#2a2a2a" stroke-width="0.3"/>
<polygon points="121.9,149.4 116.3,148.0 125.5,156.9 126.8,154.1" fill="url(#b31)"/>
<polygon points="116.3,148.0 110.6,146.5 124.2,159.8 124.7,158.6 125.5,156.9" fill="#8c1f3c" stroke="#2a2a2a" stroke-width="0.3"/>
<polygon points="116.3,148.0 110.6,146.5 124.2,159.8 124.7,158.6 125.5,156.9" fill="url(#b31)"/>
<polygon points="110.6,146.5 106.4,145.5 123.4,162.1 124.2,159.8" fill="#1f2a7c" stroke="#2a2a2a" stroke-width="0.3"/>
<polygon points="110.6,146.5 106.4,145.5 123.4,162.1 124.2,159.8" fill="url(#b31)"/>
<polygon points="106.4,145.5 101.0,144.1 102.9,147.9 121.7,166.4 122.3,165.1 123.4,162.1" fill="#c9d6b8" stroke="#2a2a2a" stroke-width="0.3"/>
<polygon points="106.4,145.5 101.0,144.1 102.9,147.9 121.7,166.4 122.3,165.1 123.4,162.1" fill="url(#b31)"/>
<polygon points="102.9,147.9 105.1,152.2 121.0,167.9 121.7,166.4" fill="#aeaed0" stroke="#2a2a2a" stroke-width="0.3"/>
<polygon points="102.9,147.9 105.1,152.2 121.0,167.9 121.7,166.4" fill="url(#b31)"/>
<polygon points="105.1,152.2 109.8,161.3 119.5,170.9 121.0,167.9" fill="#c9d6b8" stroke="#2a2a2a" stroke-width="0.3"/>
<polygon points="105.1,152.2 109.8,161.3 119.5,170.9 121.0,167.9" fill="url(#b31)"/>
<polygon points="109.8,161.3 110.0,161.6 113.5,168.4 118.4,173.3 119.5,170.9" fill="#8f8d78" stroke="#2a2a2a" stroke-width="0.3"/>
<polygon points="109.8,161.3 110.0,161.6 113.5,168.4 118.4,173.3 119.5,170.9" fill="url(#b31)"/>
<polygon points="113.5,168.4 116.1,173.5 116.6,174.4 123.5,181.5 118.3,173.4 118.4,173.3" fill="#c4cac2" stroke="#2a2a2a" stroke-width="0.3"/>
<polygon points="113.5,168.4 116.1,173.5 116.6,174.4 123.5,181.5 118.3,173.4 118.4,173.3" fill="url(#b31)"/>
<polygon points="116.6,174.4 119.3,180.6 119.3,180.6 127.0,188.4 128.1,188.4 123.5,181.5" fill="#8f8d78" stroke="#2a2a2a" stroke-width="0.3"/>
<polygon points="116.6,174.4 119.3,180.6 119.3,180.6 127.0,188.4 128.1,188.4 123.5,181.5" fill="url(#b31)"/>
<polygon points="119.3,180.6 118.5,183.4 123.3,188.3 127.0,188.4" fill="#d08a72" stroke="#2a2a2a" stroke-width="0.3"/>
<polygon points="119.3,180.6 118.5,183.4 123.3,188.3 127.0,188.4" fill="url(#b31)"/>
<polygon points="118.5,183.4 117.3,187.6 118.0,188.3 123.3,188.3" fill="#9dafd6" stroke="#2a2a2a" stroke-width="0.3"/>
<polygon points="118.5,183.4 117.3,187.6 118.0,188.3 123.3,188.3" fill="url(#b31)"/>
<polygon points="117.3,187.6 117.1,188.3 118.0,188.3" fill="#bccad6" stroke="#2a2a2a" stroke-width="0.3"/>
<polygon points="117.3,187.6 117.1,188.3 118.0,188.3" fill="url(#b31)"/>
<polygon points="128.3,151.0 128.0,151.6 129.0,151.2" fill="#b23a32" stroke="#2a2a2a" stroke-width="0.3"/>
<polygon points="128.3,151.0 128.0,151.6 129.0,151.2" fill="url(#b-32)"/>
<polygon points="141.8,154.4 129.0,151.2 128.0,151.6 124.7,158.6 122.3,165.1 122.3,165.2 141.7,157.0" fill="#c9a070" stroke="#2a2a2a" stroke-width="0.3"/>
<polygon points="141.8,154.4 129.0,151.2 128.0,151.6 124.7,158.6 122.3,165.1 122.3,165.2 141.7,157.0" fill="url(#b-32)"/>
<polygon points="141.7,157.0 122.3,165.2 119.4,171.1 141.5,162.1" fill="#8a6a40" stroke="#2a2a2a" stroke-width="0.3"/>
<polygon points="141.7,157.0 122.3,165.2 119.4,171.1 141.5,162.1" fill="url(#b-32)"/>
<polygon points="141.5,162.1 119.4,171.1 118.3,173.4 120.3,176.5 141.3,168.3" fill="#e6dfc0" stroke="#2a2a2a" stroke-width="0.3"/>
<polygon points="141.5,162.1 119.4,171.1 118.3,173.4 120.3,176.5 141.3,168.3" fill="url(#b-32)"/>
<polygon points="141.3,168.3 120.3,176.5 122.1,179.2 141.1,172.0" fill="#d6a565" stroke="#2a2a2a" stroke-width="0.3"/>
<polygon points="141.3,168.3 120.3,176.5 122.1,179.2 141.1,172.0" fill="url(#b-32)"/>
<polygon points="141.1,172.0 122.1,179.2 123.8,181.8 141.0,175.4" fill="#c9d6b8" stroke="#2a2a2a" stroke-width="0.3"/>
<polygon points="141.1,172.0 122.1,179.2 123.8,181.8 141.0,175.4" fill="url(#b-32)"/>
<polygon points="141.0,175.4 123.8,181.8 125.4,184.3 140.9,178.8" fill="#74824e" stroke="#2a2a2a" stroke-width="0.3"/>
<polygon points="141.0,175.4 123.8,181.8 125.4,184.3 140.9,178.8" fill="url(#b-32)"/>
<polygon points="140.9,178.8 125.4,184.3 127.6,187.7 140.7,183.2" fill="#2a8a7a" stroke="#2a2a2a" stroke-width="0.3"/>
<polygon points="140.9,178.8 125.4,184.3 127.6,187.7 140.7,183.2" fill="url(#b-32)"/>
<polygon points="140.7,183.2 127.6,187.7 128.1,188.4 130.0,191.8 140.5,188.3" fill="#1f6a4c" stroke="#2a2a2a" stroke-width="0.3"/>
<polygon points="140.7,183.2 127.6,187.7 128.1,188.4 130.0,191.8 140.5,188.3" fill="url(#b-32)"/>
<polygon points="140.5,188.3 130.0,191.8 132.4,195.8 140.3,193.3" fill="#d08a72" stroke="#2a2a2a" stroke-width="0.3"/>
<polygon points="140.5,188.3 130.0,191.8 132.4,195.8 140.3,193.3" fill="url(#b-32)"/>
<polygon points="140.3,193.3 132.4,195.8 133.5,197.7 137.5,199.1 140.1,198.3" fill="#d6a565" stroke="#2a2a2a" stroke-width="0.3"/>
<polygon points="140.3,193.3 132.4,195.8 133.5,197.7 137.5,199.1 140.1,198.3" fill="url(#b-32)"/>
<polygon points="122.1,191.0 121.4,190.7 120.9,193.0" fill="#c0203c" stroke="#2a2a2a" stroke-width="0.3"/>
<polygon points="122.1,191.0 121.4,190.7 120.9,193.0" fill="url(#b-63)"/>
<polygon points="120.9,193.0 119.6,200.1 124.3,191.8 122.1,191.0" fill="#8c1f3c" stroke="#2a2a2a" stroke-width="0.3"/>
<polygon points="120.9,193.0 119.6,200.1 124.3,191.8 122.1,191.0" fill="url(#b-63)"/>
<polygon points="119.6,200.1 119.1,202.9 119.7,204.9 126.9,192.6 124.3,191.8" fill="#e6dfc0" stroke="#2a2a2a" stroke-width="0.3"/>
<polygon points="119.6,200.1 119.1,202.9 119.7,204.9 126.9,192.6 124.3,191.8" fill="url(#b-63)"/>
<polygon points="119.7,204.9 120.8,208.1 129.4,193.5 126.9,192.6" fill="#d6a565" stroke="#2a2a2a" stroke-width="0.3"/>
<polygon points="119.7,204.9 120.8,208.1 129.4,193.5 126.9,192.6" fill="url(#b-63)"/>
<polygon points="120.8,208.1 123.6,216.8 123.8,217.5 137.0,196.2 129.4,193.5" fill="#9dafd6" stroke="#2a2a2a" stroke-width="0.3"/>
<polygon points="120.8,208.1 123.6,216.8 123.8,217.5 137.0,196.2 129.4,193.5" fill="url(#b-63)"/>
<polygon points="140.1,197.2 137.0,196.2 123.8,217.5 125.2,221.8 140.1,198.0" fill="#e6dfc0" stroke="#2a2a2a" stroke-width="0.3"/>
<polygon points="140.1,197.2 137.0,196.2 123.8,217.5 125.2,221.8 140.1,198.0" fill="url(#b-63)"/>
<polygon points="140.1,198.0 125.2,221.8 126.2,225.4 139.9,204.0" fill="#c9d6b8" stroke="#2a2a2a" stroke-width="0.3"/>
<polygon points="140.1,198.0 125.2,221.8 126.2,225.4 139.9,204.0" fill="url(#b-63)"/>
<polygon points="139.9,204.0 126.2,225.4 127.7,230.2 139.6,212.1" fill="#1f6a4c" stroke="#2a2a2a" stroke-width="0.3"/>
<polygon points="139.9,204.0 126.2,225.4 127.7,230.2 139.6,212.1" fill="url(#b-63)"/>
<polygon points="139.6,212.1 127.7,230.2 128.1,231.6 129.8,233.0 139.3,218.7" fill="#1f2a7c" stroke="#2a2a2a" stroke-width="0.3"/>
<polygon points="139.6,212.1 127.7,230.2 128.1,231.6 129.8,233.0 139.3,218.7" fill="url(#b-63)"/>
<polygon points="139.3,218.7 129.8,233.0 132.6,235.6 139.0,226.2" fill="#aeaed0" stroke="#2a2a2a" stroke-width="0.3"/>
<polygon points="139.3,218.7 129.8,233.0 132.6,235.6 139.0,226.2" fill="url(#b-63)"/>
<polygon points="139.0,226.2 132.6,235.6 134.9,237.6 135.9,238.0 136.6,237.6 138.7,234.7" fill="#c4cac2" stroke="#2a2a2a" stroke-width="0.3"/>
<polygon points="139.0,226.2 132.6,235.6 134.9,237.6 135.9,238.0 136.6,237.6 138.7,234.7" fill="url(#b-63)"/>
<polygon points="101.8,192.5 101.9,196.1 122.9,214.7 121.3,209.6" fill="#1f2a7c" stroke="#2a2a2a" stroke-width="0.3"/>
<polygon points="101.8,192.5 101.9,196.1 122.9,214.7 121.3,209.6" fill="url(#b24)"/>
<polygon points="101.9,196.1 101.9,199.2 124.3,219.1 123.6,216.8 122.9,214.7" fill="#c9a070" stroke="#2a2a2a" stroke-width="0.3"/>
<polygon points="101.9,196.1 101.9,199.2 124.3,219.1 123.6,216.8 122.9,214.7" fill="url(#b24)"/>
<polygon points="101.9,199.2 101.9,201.6 125.4,222.6 124.3,219.1" fill="#e6dfc0" stroke="#2a2a2a" stroke-width="0.3"/>
<polygon points="101.9,199.2 101.9,201.6 125.4,222.6 124.3,219.1" fill="url(#b24)"/>
<polygon points="101.9,201.6 102.0,203.7 126.3,225.5 125.4,222.6" fill="#74824e" stroke="#2a2a2a" stroke-width="0.3"/>
<polygon points="101.9,201.6 102.0,203.7 126.3,225.5 125.4,222.6" fill="url(#b24)"/>
<polygon points="102.0,203.7 102.0,206.3 127.4,229.2 126.3,225.5" fill="#1d5c8c" stroke="#2a2a2a" stroke-width="0.3"/>
<polygon points="102.0,203.7 102.0,206.3 127.4,229.2 126.3,225.5" fill="url(#b24)"/>
<polygon points="102.0,206.3 102.0,208.5 127.8,231.9 128.1,231.6 127.4,229.2" fill="#c0203c" stroke="#2a2a2a" stroke-width="0.3"/>
<polygon points="102.0,206.3 102.0,208.5 127.8,231.9 128.1,231.6 127.4,229.2" fill="url(#b24)"/>
<polygon points="102.0,208.5 102.0,211.1 126.5,233.4 127.8,231.9" fill="#e6dfc0" stroke="#2a2a2a" stroke-width="0.3"/>
<polygon points="102.0,208.5 102.0,211.1 126.5,233.4 127.8,231.9" fill="url(#b24)"/>
<polygon points="126.1,233.8 126.5,233.4 102.0,211.1 102.1,213.5 122.5,232.1" fill="#d9c224" stroke="#2a2a2a" stroke-width="0.3"/>
<polygon points="126.1,233.8 126.5,233.4 102.0,211.1 102.1,213.5 122.5,232.1" fill="url(#b24)"/>
<polygon points="122.5,232.1 102.1,213.5 102.1,216.3 116.5,229.5" fill="#d6a565" stroke="#2a2a2a" stroke-width="0.3"/>
<polygon points="122.5,232.1 102.1,213.5 102.1,216.3 116.5,229.5" fill="url(#b24)"/>
<polygon points="116.5,229.5 102.1,216.3 102.1,218.8 111.2,227.2" fill="#c9d6b8" stroke="#2a2a2a" stroke-width="0.3"/>
<polygon points="116.5,229.5 102.1,216.3 102.1,218.8 111.2,227.2" fill="url(#b24)"/>
<polygon points="111.2,227.2 102.1,218.8 102.1,220.9 106.8,225.2" fill="#b23a32" stroke="#2a2a2a" stroke-width="0.3"/>
<polygon points="111.2,227.2 102.1,218.8 102.1,220.9 106.8,225.2" fill="url(#b24)"/>
<polygon points="106.8,225.2 102.1,220.9 102.2,223.2" fill="#e6dfc0" stroke="#2a2a2a" stroke-width="0.3"/>
<polygon points="106.8,225.2 102.1,220.9 102.2,223.2" fill="url(#b24)"/>
<polygon points="108.1,195.5 111.1,205.7 114.9,207.2 115.1,180.3 108.0,180.3" fill="#c4cac2" stroke="#2a2a2a" stroke-width="0.3"/>
<polygon points="108.1,195.5 111.1,205.7 114.9,207.2 115.1,180.3 108.0,180.3" fill="url(#b-40)"/>
<polygon points="114.9,207.2 123.8,211.2 124.4,180.8 115.1,180.3" fill="#c9a070" stroke="#2a2a2a" stroke-width="0.3"/>
<polygon points="114.9,207.2 123.8,211.2 124.4,180.8 115.1,180.3" fill="url(#b-40)"/>
<polygon points="113.4,209.5 120.1,211.7 119.7,205.1 112.9,203.0" fill="#2a8a7a" stroke="#2a2a2a" stroke-width="0.3"/>
<polygon points="113.4,209.5 120.1,211.7 119.7,205.1 112.9,203.0" fill="url(#b-40)"/>
<polygon points="95.2,190.2 104.9,204.6 108.4,204.1 100.9,191.2 98.9,182.8 94.1,182.5" fill="#1f2a7c" stroke="#2a2a2a" stroke-width="0.3"/>
<polygon points="95.2,190.2 104.9,204.6 108.4,204.1 100.9,191.2 98.9,182.8 94.1,182.5" fill="url(#b50)"/>
<polygon points="108.4,204.1 111.1,202.3 109.9,195.6 100.9,191.2" fill="#8f8d78" stroke="#2a2a2a" stroke-width="0.3"/>
<polygon points="108.4,204.1 111.1,202.3 109.9,195.6 100.9,191.2" fill="url(#b50)"/>
<polygon points="110.4,187.6 118.7,191.8 119.3,187.8 109.9,183.3" fill="#1f2a7c" stroke="#2a2a2a" stroke-width="0.3"/>
<polygon points="110.4,187.6 118.7,191.8 119.3,187.8 109.9,183.3" fill="url(#b10)"/>
<polygon points="109.9,195.0 115.5,198.2 115.0,190.5 108.3,186.9" fill="#c0203c" stroke="#2a2a2a" stroke-width="0.3"/>
<polygon points="109.9,195.0 115.5,198.2 115.0,190.5 108.3,186.9" fill="url(#b60)"/>
<polygon points="115.5,198.2 118.4,197.5 118.7,191.8 115.0,190.5" fill="#6c2c80" stroke="#2a2a2a" stroke-width="0.3"/>
<polygon points="115.5,198.2 118.4,197.5 118.7,191.8 115.0,190.5" fill="url(#b60)"/>
<polygon points="118.6,204.0 121.8,206.4 121.6,194.0 118.2,193.3" fill="#8c1f3c" stroke="#2a2a2a" stroke-width="0.3"/>
<polygon points="118.6,204.0 121.8,206.4 121.6,194.0 118.2,193.3" fill="url(#b80)"/>
<polygon points="89.5,184.8 95.2,190.2 96.0,185.5 91.2,178.1" fill="#d08a72" stroke="#2a2a2a" stroke-width="0.3"/>
<polygon points="89.5,184.8 95.2,190.2 96.0,185.5 91.2,178.1" fill="url(#b50)"/>
<polygon points="130.7,181.5 134.0,182.8 135.5,178.7 130.6,178.1" fill="#d9c224" stroke="#2a2a2a" stroke-width="0.3"/>
<polygon points="130.7,181.5 134.0,182.8 135.5,178.7 130.6,178.1" fill="url(#b20)"/>
<polygon points="130.8,177.9 137.0,179.2 137.8,174.9 130.5,173.3" fill="#6c2c80" stroke="#2a2a2a" stroke-width="0.3"/>
<polygon points="130.8,177.9 137.0,179.2 137.8,174.9 130.5,173.3" fill="url(#b20)"/>
<polygon points="127.3,183.4 131.1,184.6 131.7,181.8 126.9,180.5" fill="#8c1f3c" stroke="#2a2a2a" stroke-width="0.3"/>
<polygon points="127.3,183.4 131.1,184.6 131.7,181.8 126.9,180.5" fill="url(#b20)"/>
<polygon points="124.4,155.9 127.4,155.4 127.1,151.2 123.7,151.0" fill="#2a8a7a" stroke="#2a2a2a" stroke-width="0.3"/>
<polygon points="124.4,155.9 127.4,155.4 127.1,151.2 123.7,151.0" fill="url(#b20)"/>
</g>
<mask id="lm" maskUnits="userSpaceOnUse" x="0" y="0" width="81" height="81"><g fill="#000" stroke="#fff" stroke-width="0.36">
<rect x="0" y="0" width="81" height="81" stroke="none"/>
<polygon points="0.0,58.8 3.6,57.6 8.3,52.9 10.1,38.9 9.5,24.7 5.9,12.9 2.4,0.0 0.0,0.0"/>
<polygon points="5.9,12.9 9.5,24.7 10.1,38.9 8.3,52.9 11.2,53.7 14.2,48.4 13.6,34.2 11.2,22.4 7.7,10.5 4.7,0.0 2.4,0.0"/>
<polygon points="9.7,7.6 13.0,0.0 4.7,0.0"/>
<polygon points="11.2,22.4 13.6,34.2 16.6,34.2 17.8,29.5 16.6,16.4 9.7,7.6 7.7,10.5"/>
<polygon points="9.7,7.6 14.8,11.1 16.6,9.9 42.8,32.4 48.5,36.6 42.8,28.3 22.5,0.0 13.0,0.0"/>
<polygon points="42.8,28.3 50.9,39.5 54.4,37.8 29.6,0.0 22.5,0.0"/>
<polygon points="54.4,37.8 58.0,34.2 33.1,0.0 29.6,0.0"/>
<polygon points="58.0,34.2 61.5,30.7 38.5,0.0 33.1,0.0"/>
<polygon points="17.8,29.5 22.5,30.7 29.8,46.0 34.3,44.9 50.9,41.3 42.8,34.8 14.8,11.1 16.6,16.4"/>
<polygon points="42.8,34.8 50.9,41.3 48.5,37.8 42.8,32.4 16.6,9.9 14.8,11.1"/>
<polygon points="14.2,48.4 18.3,48.4 19.2,37.8 16.6,34.2 13.6,34.2"/>
<polygon points="19.2,37.8 20.7,50.8 23.9,49.6 22.5,36.6 17.8,29.5 16.6,34.2"/>
<polygon points="22.5,36.6 23.9,49.6 27.2,54.3 29.8,46.0 22.5,30.7 17.8,29.5"/>
<polygon points="11.2,53.7 16.6,54.3 20.7,50.8 18.3,48.4 14.2,48.4"/>
<polygon points="8.9,55.5 11.8,56.7 11.2,53.7 8.3,52.9"/>
<polygon points="22.5,54.7 29.8,62.4 34.3,66.2 50.9,66.5 50.9,41.3 34.3,44.9 29.8,46.0 27.2,54.3 23.9,49.6 20.7,50.8 16.6,54.3"/>
<polygon points="7.1,58.2 8.3,56.4 11.8,56.7 8.9,55.5 8.3,52.9 3.6,57.6"/>
<polygon points="0.0,69.7 7.1,69.7 9.5,62.4 7.1,58.2 3.6,57.6 0.0,58.8"/>
<polygon points="9.5,62.4 7.1,69.7 13.0,72.1 26.3,69.7 29.8,62.4 22.5,54.7 16.6,54.3 11.8,56.7 8.3,56.4 7.1,58.2"/>
<polygon points="0.0,81.0 2.6,81.0 5.9,73.3 7.1,69.7 0.0,69.7"/>
<polygon points="2.6,81.0 10.9,81.0 14.2,72.1 13.0,72.1 7.1,69.7 5.9,73.3"/>
<polygon points="10.9,81.0 26.4,81.0 28.6,74.2 26.3,69.7 14.2,72.1"/>
<polygon points="28.6,74.2 50.9,69.7 50.9,66.5 34.3,66.2 29.8,62.4 26.3,69.7"/>
<polygon points="26.4,81.0 50.9,81.0 50.9,69.7 28.6,74.2"/>
<polygon points="61.2,0.0 66.4,3.1 67.8,0.0"/>
<polygon points="61.2,0.0 55.4,0.0 65.1,5.8 66.4,3.1"/>
<polygon points="55.4,0.0 49.2,0.0 63.8,8.8 64.3,7.6 65.1,5.8"/>
<polygon points="49.2,0.0 44.5,0.0 63.0,11.1 63.8,8.8"/>
<polygon points="44.5,0.0 38.5,0.0 40.6,3.0 61.3,15.4 61.9,14.1 63.0,11.1"/>
<polygon points="40.6,3.0 43.1,6.5 60.5,17.0 61.3,15.4"/>
<polygon points="43.1,6.5 48.4,13.9 59.0,20.3 60.5,17.0"/>
<polygon points="48.4,13.9 48.5,14.1 52.5,19.6 57.8,22.8 59.0,20.3"/>
<polygon points="52.5,19.6 55.4,23.7 55.9,24.4 63.5,29.0 57.8,23.0 57.8,22.8"/>
<polygon points="55.9,24.4 58.9,29.5 58.9,29.5 67.3,34.5 68.4,34.2 63.5,29.0"/>
<polygon points="58.9,29.5 58.1,32.5 63.4,35.7 67.3,34.5"/>
<polygon points="58.1,32.5 56.8,37.0 57.5,37.5 63.4,35.7"/>
<polygon points="56.8,37.0 56.6,37.8 57.5,37.5"/>
<polygon points="67.8,0.0 67.5,0.6 68.5,0.0"/>
<polygon points="81.0,0.0 68.5,0.0 67.5,0.6 64.3,7.6 61.9,14.1 61.9,14.1 81.0,2.2"/>
<polygon points="81.0,2.2 61.9,14.1 58.9,20.5 81.0,6.7"/>
<polygon points="81.0,6.7 58.9,20.5 57.8,23.0 59.9,25.3 81.0,12.1"/>
<polygon points="81.0,12.1 59.9,25.3 61.9,27.3 81.0,15.4"/>
<polygon points="81.0,15.4 61.9,27.3 63.7,29.3 81.0,18.5"/>
<polygon points="81.0,18.5 63.7,29.3 65.5,31.2 81.0,21.5"/>
<polygon points="81.0,21.5 65.5,31.2 67.9,33.7 81.0,25.5"/>
<polygon points="81.0,25.5 67.9,33.7 68.4,34.2 70.6,36.8 81.0,30.3"/>
<polygon points="81.0,30.3 70.6,36.8 73.1,39.9 81.0,35.0"/>
<polygon points="81.0,35.0 73.1,39.9 74.3,41.3 78.4,41.3 81.0,39.7"/>
<polygon points="62.1,38.7 61.3,38.7 60.9,41.1"/>
<polygon points="60.9,41.1 59.5,48.6 64.5,38.7 62.1,38.7"/>
<polygon points="59.5,48.6 58.9,51.7 59.7,53.5 67.2,38.7 64.5,38.7"/>
<polygon points="59.7,53.5 60.9,56.4 69.9,38.7 67.2,38.7"/>
<polygon points="60.9,56.4 64.3,64.1 64.5,64.8 77.8,38.7 69.9,38.7"/>
<polygon points="81.0,38.7 77.8,38.7 64.5,64.8 66.1,68.8 81.0,39.4"/>
<polygon points="81.0,39.4 66.1,68.8 67.3,72.0 81.0,45.2"/>
<polygon points="81.0,45.2 67.3,72.0 69.1,76.5 81.0,53.1"/>
<polygon points="81.0,53.1 69.1,76.5 69.6,77.8 71.4,78.5 81.0,59.7"/>
<polygon points="81.0,59.7 71.4,78.5 74.6,79.9 81.0,67.4"/>
<polygon points="81.0,67.4 74.6,79.9 77.2,81.0 78.2,81.0 79.0,80.2 81.0,76.2"/>
<polygon points="38.8,47.6 38.8,51.3 63.5,62.3 61.5,57.7"/>
<polygon points="38.8,51.3 38.8,54.6 65.1,66.3 64.3,64.1 63.5,62.3"/>
<polygon points="38.8,54.6 38.8,57.2 66.3,69.5 65.1,66.3"/>
<polygon points="38.8,57.2 38.8,59.4 67.4,72.1 66.3,69.5"/>
<polygon points="38.8,59.4 38.8,62.2 68.7,75.6 67.4,72.1"/>
<polygon points="38.8,62.2 38.8,64.7 69.3,78.2 69.6,77.8 68.7,75.6"/>
<polygon points="38.8,64.7 38.8,67.5 67.8,80.4 69.3,78.2"/>
<polygon points="67.4,81.0 67.8,80.4 38.8,67.5 38.8,70.1 63.2,81.0"/>
<polygon points="63.2,81.0 38.8,70.1 38.8,73.2 56.4,81.0"/>
<polygon points="56.4,81.0 38.8,73.2 38.8,76.0 50.0,81.0"/>
<polygon points="50.0,81.0 38.8,76.0 38.8,78.4 44.6,81.0"/>
<polygon points="44.6,81.0 38.8,78.4 38.8,81.0"/>
<polygon points="46.3,48.3 49.8,57.8 54.3,57.8 54.3,30.5 46.3,32.9"/>
<polygon points="54.3,57.8 64.4,58.3 64.4,28.2 54.3,30.5"/>
<polygon points="52.5,60.8 60.2,60.4 59.6,53.7 51.9,54.2"/>
<polygon points="30.6,47.7 42.5,59.2 46.6,57.2 37.7,46.5 35.4,38.6 29.5,40.0"/>
<polygon points="46.6,57.2 49.8,54.2 48.4,47.7 37.7,46.5"/>
<polygon points="49.0,39.4 58.4,40.6 59.0,36.5 48.4,35.3"/>
<polygon points="48.4,47.1 54.9,48.3 54.3,40.6 46.6,39.4"/>
<polygon points="54.9,48.3 58.1,46.5 58.4,40.6 54.3,40.6"/>
<polygon points="58.4,53.0 62.0,54.2 61.6,41.8 57.9,42.4"/>
<polygon points="23.5,44.1 30.6,47.7 31.8,42.4 25.9,36.5"/>
<polygon points="71.0,26.9 74.3,27.1 75.7,23.0 70.8,23.8"/>
<polygon points="71.0,23.6 77.3,23.0 77.9,18.8 70.5,19.4"/>
<polygon points="67.5,29.7 71.5,29.7 72.0,26.9 67.0,27.1"/>
<polygon points="63.9,5.2 67.0,4.0 66.6,0.5 63.1,1.1"/>
</g></mask>
<rect id="microl" x="0" y="0" width="81" height="81" fill="#c4ccff" fill-opacity="0.7" mask="url(#lm)"/>
</defs>
<g transform="translate(54.2,46.3)" filter="url(#soft)"><clipPath id="cs"><rect x="0" y="0" width="25.3" height="70.2"/></clipPath><g clip-path="url(#cs)">
<rect x="0" y="0" width="25.3" height="70.2" fill="#ff5a5a"/>
<polygon points="9.4,30.4 1.1,16.7 -0.0,18.0 8.7,33.9" fill="#ff3040"/>
<polygon points="11.6,6.6 15.9,-0.8 16.7,0.1 12.1,9.0" fill="#ff4a55"/>
<polygon points="9.2,60.9 1.2,42.2 -0.1,43.8 8.5,64.7" fill="#3cf52e"/>
<polygon points="9.4,12.5 2.6,-6.5 1.6,-5.3 8.8,15.5" fill="#5af04a"/>
<polygon points="6.0,7.8 -0.3,-11.2 -1.1,-10.2 5.5,10.4" fill="#50e0e0"/>
<polygon points="13.3,90.5 16.8,77.1 17.8,78.3 13.9,93.7" fill="#ffffff"/>
<polygon points="10.4,32.4 12.8,19.0 13.4,19.7 10.7,34.1" fill="#ff4f9a"/>
<polygon points="5.9,40.3 -2.3,17.1 -3.5,18.5 5.2,43.8" fill="#50e0e0"/>
<polygon points="11.1,77.8 6.0,52.0 5.1,53.1 10.6,80.4" fill="#ff4a55"/>
<polygon points="9.2,55.9 14.6,43.5 15.6,44.7 9.8,59.0" fill="#c8f032"/>
<polygon points="4.8,9.7 -0.4,-1.1 -1.5,0.2 4.1,13.0" fill="#ff3040"/>
<polygon points="13.4,14.7 17.6,-4.5 18.8,-3.1 14.1,18.1" fill="#5af04a"/>
<polygon points="11.2,66.4 25.1,40.9 25.7,41.7 11.6,68.2" fill="#40e090"/>
<polygon points="10.9,57.0 17.4,45.2 18.3,46.3 11.5,59.7" fill="#ff2a2a"/>
<polygon points="7.8,84.1 3.9,67.0 2.6,68.5 7.0,87.9" fill="#3cf52e"/>
<polygon points="9.7,37.5 20.7,18.9 21.2,19.5 10.0,39.0" fill="#c8f032"/>
<polygon points="10.9,3.3 4.0,-15.5 2.8,-14.0 10.2,7.0" fill="#c8f032"/>
<polygon points="12.4,35.7 21.7,8.3 22.5,9.3 12.9,38.3" fill="#ff4f9a"/>
<polygon points="10.5,46.5 7.8,36.5 6.7,37.8 9.9,49.7" fill="#ff8a2c"/>
<polygon points="10.7,93.3 14.2,83.5 14.7,84.1 11.0,94.7" fill="#ff2a2a"/>
<polygon points="10.7,82.7 22.1,57.3 22.8,58.0 11.1,84.6" fill="#c8f032"/>
<polygon points="9.8,79.3 3.6,54.5 2.5,55.8 9.1,82.6" fill="#ffa060"/>
<polygon points="10.9,0.9 1.6,-22.5 1.0,-21.8 10.5,2.7" fill="#5af04a"/>
<polygon points="11.0,6.1 5.3,-4.8 4.7,-4.0 10.6,7.9" fill="#ff4f9a"/>
<polygon points="11.8,89.1 24.6,67.1 25.6,68.4 12.4,92.1" fill="#ff4f9a"/>
<polygon points="14.4,87.1 24.9,64.2 26.0,65.6 15.1,90.5" fill="#ffa060"/>
<polygon points="11.8,92.9 6.5,83.3 5.9,84.0 11.5,94.6" fill="#c8f032"/>
<polygon points="9.5,80.8 18.6,60.7 19.5,61.8 10.0,83.6" fill="#ff60c0"/>
<polygon points="9.7,73.1 6.0,56.5 4.8,57.9 9.0,76.6" fill="#ff60c0"/>
<polygon points="14.0,22.1 19.0,10.1 19.5,10.8 14.3,23.8" fill="#ff4a55"/>
<polygon points="12.6,56.5 18.3,31.1 18.9,31.7 13.0,58.1" fill="#7a60ff"/>
<polygon points="11.0,16.3 -1.0,-5.4 -1.5,-4.8 10.6,18.1" fill="#5af04a"/>
<polygon points="9.8,66.4 22.2,44.6 23.2,45.7 10.4,69.1" fill="#ff60c0"/>
<polygon points="10.9,43.3 5.9,19.4 5.1,20.3 10.4,45.8" fill="#ff2a2a"/>
<polygon points="11.7,25.8 20.1,9.1 21.0,10.1 12.3,28.5" fill="#40e090"/>
<polygon points="9.8,42.8 13.5,33.8 14.0,34.4 10.1,44.4" fill="#ff7a7a"/>
<polygon points="9.0,10.3 0.3,-17.0 -0.5,-16.1 8.6,12.5" fill="#ff8a2c"/>
<polygon points="10.6,72.8 4.8,57.8 3.5,59.3 9.9,76.7" fill="#ff60c0"/>
<polygon points="12.5,38.5 17.3,28.0 18.4,29.3 13.1,41.7" fill="#ff2a2a"/>
<polygon points="9.4,-0.2 17.6,-17.2 18.8,-15.7 10.2,3.6" fill="#ffffff"/>
<polygon points="11.4,8.5 14.1,-4.5 14.7,-3.7 11.7,10.3" fill="#3cf52e"/>
<polygon points="11.2,13.0 22.7,-7.0 23.2,-6.4 11.5,14.5" fill="#ffe040"/>
<polygon points="4.1,92.0 -8.7,70.0 -9.8,71.4 3.4,95.6" fill="#ff3040"/>
<polygon points="10.7,32.0 23.1,6.6 23.7,7.2 11.0,33.7" fill="#ff5a30"/>
<polygon points="11.4,24.2 6.4,13.7 5.7,14.6 11.0,26.4" fill="#ffe040"/>
<polygon points="4.7,32.8 -10.7,7.2 -11.2,7.8 4.5,34.2" fill="#ff8a2c"/>
<polygon points="10.7,91.7 4.0,70.6 3.0,71.8 10.1,94.7" fill="#ff2a2a"/>
<polygon points="11.0,19.6 7.5,5.1 6.4,6.4 10.4,22.7" fill="#ff3040"/>
<polygon points="9.1,81.9 6.7,73.6 6.1,74.4 8.7,83.9" fill="#d040e0"/>
<polygon points="9.7,48.7 15.6,28.8 16.1,29.4 9.9,50.2" fill="#ffe040"/>
<polygon points="12.0,34.5 22.0,6.9 22.7,7.7 12.4,36.5" fill="#ff5a30"/>
<polygon points="9.8,-1.9 13.7,-9.9 14.7,-8.7 10.4,1.1" fill="#ffe040"/>
<polygon points="10.0,79.9 1.7,66.0 1.2,66.6 9.7,81.3" fill="#ff4a55"/>
<polygon points="10.0,87.5 16.8,63.8 17.7,64.9 10.5,90.1" fill="#ff3040"/>
<polygon points="10.7,80.7 16.5,57.5 17.1,58.2 11.0,82.4" fill="#40e090"/>
<polygon points="9.7,66.8 5.1,59.1 4.1,60.3 9.1,69.8" fill="#50e0e0"/>
<polygon points="9.1,3.1 2.8,-17.4 2.0,-16.3 8.6,5.7" fill="#ff4a55"/>
<polygon points="12.5,50.7 19.0,39.7 19.7,40.5 12.9,52.7" fill="#ff4f9a"/>
<polygon points="11.0,82.7 5.7,65.5 4.6,66.8 10.3,86.0" fill="#c8f032"/>
<polygon points="12.4,12.8 18.7,-8.3 19.7,-7.1 13.0,15.7" fill="#ffe040"/>
<polygon points="7.9,95.4 1.1,73.5 0.4,74.4 7.4,97.5" fill="#7a60ff"/>
<polygon points="9.5,9.9 2.4,-2.4 1.5,-1.4 9.0,12.4" fill="#ffe040"/>
<polygon points="9.9,36.8 5.5,29.2 4.4,30.5 9.2,40.0" fill="#ffffff"/>
<polygon points="9.2,9.3 11.8,-2.8 12.7,-1.7 9.7,11.9" fill="#ff4a55"/>
<polygon points="9.5,43.2 18.7,21.3 19.4,22.2 9.9,45.5" fill="#7a60ff"/>
<polygon points="11.8,31.9 13.8,22.3 14.8,23.6 12.4,35.1" fill="#ff3040"/>
<polygon points="9.2,37.4 3.4,23.2 2.7,24.1 8.8,39.4" fill="#ff4a55"/>
<polygon points="6.7,91.7 -4.5,64.6 -5.2,65.5 6.3,93.9" fill="#ffffff"/>
<polygon points="11.6,0.9 17.0,-26.6 18.0,-25.5 12.1,3.7" fill="#ff4f9a"/>
<polygon points="11.1,59.6 1.7,40.0 1.2,40.5 10.8,61.1" fill="#3cf52e"/>
<polygon points="11.8,32.4 15.2,20.0 16.3,21.2 12.4,35.4" fill="#50e0e0"/>
<polygon points="11.8,65.0 6.7,55.5 6.0,56.2 11.4,66.9" fill="#ff4f9a"/>
<polygon points="9.6,88.8 15.4,73.0 16.0,73.8 10.0,90.8" fill="#ff8a2c"/>
<polygon points="7.2,34.9 -0.1,8.5 -0.9,9.5 6.7,37.3" fill="#ffe040"/>
<polygon points="11.2,31.9 5.0,14.5 4.3,15.4 10.7,34.2" fill="#ff3040"/>
<polygon points="10.0,25.2 5.2,10.1 4.4,11.0 9.5,27.6" fill="#ff5a30"/>
<polygon points="17.5,1.2 28.1,-26.1 28.6,-25.4 17.8,2.8" fill="#ff4f9a"/>
<polygon points="4.5,22.9 -1.4,12.2 -2.6,13.8 3.7,26.7" fill="#ff3040"/>
<polygon points="9.2,53.3 5.8,47.1 4.8,48.2 8.7,56.1" fill="#ff4a55"/>
<polygon points="14.2,23.2 25.5,3.2 26.1,3.8 14.5,24.8" fill="#ffe040"/>
<polygon points="12.0,20.4 8.9,13.9 8.0,14.9 11.5,22.9" fill="#ff4f9a"/>
<polygon points="8.1,50.7 5.1,43.7 4.1,44.9 7.5,53.7" fill="#ff3040"/>
<polygon points="12.6,23.8 25.5,-1.4 26.0,-0.8 12.9,25.2" fill="#ff8a2c"/>
<polygon points="12.0,-1.3 20.6,-23.7 21.2,-23.0 12.4,0.6" fill="#ff8a2c"/>
<polygon points="10.6,44.6 21.1,22.5 22.4,24.0 11.3,48.4" fill="#ff4f9a"/>
<polygon points="9.7,39.8 -4.1,14.5 -4.9,15.5 9.3,42.1" fill="#3cf52e"/>
<polygon points="10.0,3.2 5.8,-7.2 4.8,-5.9 9.4,6.4" fill="#ff5a30"/>
<polygon points="10.0,31.0 2.3,10.4 1.5,11.4 9.5,33.5" fill="#5af04a"/>
<polygon points="12.0,42.3 8.9,36.0 8.1,36.9 11.5,44.6" fill="#3cf52e"/>
<polygon points="12.8,33.7 22.7,9.8 23.2,10.4 13.1,35.2" fill="#ff8a2c"/>
<polygon points="11.4,30.4 14.4,23.3 15.5,24.7 12.1,33.8" fill="#ff4f9a"/>
<polygon points="10.1,4.3 6.7,-8.2 5.4,-6.7 9.4,7.9" fill="#ffe040"/>
<polygon points="10.9,72.8 23.0,47.3 24.1,48.6 11.5,76.0" fill="#ff3040"/>
<polygon points="8.8,80.8 5.3,63.2 4.1,64.7 8.0,84.5" fill="#40e090"/>
<polygon points="11.6,47.4 14.3,36.6 15.4,37.9 12.2,50.7" fill="#5af04a"/>
<polygon points="9.7,84.3 13.6,69.5 14.1,70.1 10.0,85.8" fill="#3cf52e"/>
<polygon points="10.4,4.5 4.2,-12.5 3.6,-11.8 10.0,6.2" fill="#ffe040"/>
<polygon points="9.0,60.6 5.7,52.0 4.7,53.2 8.4,63.7" fill="#ff4f9a"/>
<polygon points="9.5,60.2 3.9,36.6 2.9,37.8 8.9,63.2" fill="#ffe040"/>
<polygon points="9.7,54.8 15.3,43.3 16.2,44.3 10.2,57.3" fill="#ffffff"/>
<polygon points="10.6,88.9 4.9,75.6 3.6,77.2 9.8,92.8" fill="#ff4a55"/>
<polygon points="11.6,44.5 8.2,35.8 7.0,37.2 10.9,47.9" fill="#ffffff"/>
<polygon points="9.7,27.4 7.1,19.7 5.9,21.1 9.0,30.9" fill="#ff4f9a"/>
<polygon points="9.8,58.4 6.7,49.5 5.7,50.7 9.2,61.4" fill="#ff3040"/>
<polygon points="16.5,18.4 18.6,10.9 19.8,12.3 17.2,22.1" fill="#ff4a55"/>
<polygon points="13.0,35.3 17.6,27.7 18.4,28.8 13.5,37.9" fill="#ff4a55"/>
<polygon points="8.1,53.1 -0.6,32.9 -1.3,33.7 7.6,55.2" fill="#ff3040"/>
<polygon points="15.4,29.3 24.0,15.2 25.1,16.5 16.0,32.6" fill="#ffa060"/>
<polygon points="9.4,38.6 1.3,23.7 0.7,24.3 9.0,40.2" fill="#ff4f9a"/>
<polygon points="11.8,75.5 9.3,68.6 8.3,69.7 11.2,78.4" fill="#ffa060"/>
<polygon points="9.3,48.5 2.2,35.4 1.6,36.1 8.9,50.3" fill="#ffe040"/>
<polygon points="11.9,10.7 1.1,-16.7 0.7,-16.1 11.6,12.2" fill="#ff4a55"/>
<polygon points="10.5,76.7 3.8,56.6 3.2,57.3 10.1,78.6" fill="#3cf52e"/>
<polygon points="11.3,92.0 3.5,78.2 2.9,79.0 10.9,94.0" fill="#ffffff"/>
<polygon points="10.5,54.3 1.1,34.1 0.3,35.0 10.0,56.7" fill="#ff4a55"/>
<polygon points="10.3,40.1 5.2,24.1 4.4,25.1 9.8,42.6" fill="#ff4f9a"/>
<polygon points="9.3,21.6 15.7,-3.9 16.5,-2.9 9.8,23.9" fill="#ff3040"/>
<polygon points="10.0,78.4 6.2,71.5 4.9,72.9 9.3,82.1" fill="#ff3040"/>
<polygon points="9.3,73.4 14.9,52.1 15.4,52.6 9.6,74.8" fill="#ff8a2c"/>
<polygon points="11.2,11.2 14.5,-2.0 15.6,-0.7 11.8,14.6" fill="#ff3040"/>
<polygon points="12.4,81.5 14.7,71.1 15.4,71.9 12.8,83.5" fill="#ff8a2c"/>
<polygon points="9.6,57.3 2.2,45.0 1.6,45.8 9.2,59.1" fill="#ffffff"/>
<polygon points="10.2,35.8 13.5,26.7 14.5,27.9 10.8,38.7" fill="#ffe040"/>
<polygon points="10.2,97.5 19.9,75.6 20.7,76.5 10.7,99.8" fill="#7a60ff"/>
<polygon points="11.6,6.2 8.6,-4.5 8.1,-3.9 11.3,7.6" fill="#ffa060"/>
<polygon points="10.4,-1.8 5.1,-12.7 4.1,-11.6 9.8,1.1" fill="#ff5a30"/>
<polygon points="9.4,46.9 5.4,40.6 4.7,41.5 9.0,49.2" fill="#3cf52e"/>
<polygon points="9.5,56.5 5.8,45.4 5.0,46.4 9.0,59.0" fill="#ff2a2a"/>
<polygon points="9.9,13.0 5.8,5.5 4.8,6.8 9.3,16.0" fill="#ff3040"/>
<polygon points="10.7,62.6 17.5,43.1 18.4,44.3 11.2,65.5" fill="#ffffff"/>
<polygon points="9.3,-2.0 1.7,-19.6 1.1,-18.9 8.9,-0.0" fill="#c8f032"/>
<polygon points="10.6,53.2 5.9,44.1 4.9,45.3 10.0,56.1" fill="#ff60c0"/>
<polygon points="13.8,29.0 17.5,7.9 18.6,9.2 14.4,32.2" fill="#d040e0"/>
<polygon points="12.1,41.8 14.8,33.3 15.4,34.0 12.4,43.5" fill="#ff3040"/>
<polygon points="10.4,31.6 20.7,10.6 21.6,11.7 11.0,34.4" fill="#ffe040"/>
<polygon points="11.8,62.3 8.6,54.0 8.0,54.7 11.5,64.1" fill="#ff5a30"/>
<polygon points="15.3,72.8 19.9,62.3 20.9,63.4 15.9,75.6" fill="#ff4f9a"/>
<polygon points="10.8,82.1 0.6,57.4 -0.4,58.7 10.2,85.3" fill="#3cf52e"/>
<polygon points="9.4,60.4 -0.0,42.8 -0.5,43.3 9.1,61.8" fill="#5af04a"/>
<polygon points="9.2,95.9 5.5,89.2 4.5,90.4 8.6,98.9" fill="#ff3040"/>
<polygon points="16.4,83.8 18.6,72.4 19.5,73.5 16.9,86.5" fill="#ff3040"/>
<polygon points="11.5,22.7 6.6,14.5 5.4,15.9 10.8,26.2" fill="#ff4f9a"/>
<polygon points="10.1,8.0 2.4,-16.0 1.7,-15.2 9.7,10.1" fill="#ffe040"/>
<polygon points="12.0,91.2 2.5,69.7 1.8,70.6 11.6,93.4" fill="#c8f032"/>
<polygon points="10.5,72.7 13.2,65.5 13.8,66.1 10.8,74.3" fill="#ff2a2a"/>
<polygon points="10.7,84.4 1.9,66.2 1.1,67.2 10.2,86.9" fill="#ff3040"/>
<polygon points="10.6,32.8 6.0,15.1 5.4,15.9 10.2,34.7" fill="#50e0e0"/>
<polygon points="9.6,92.6 14.7,67.3 15.3,68.1 10.0,94.5" fill="#ff4f9a"/>
<polygon points="10.3,76.9 1.5,57.4 0.7,58.3 9.8,79.3" fill="#3cf52e"/>
<polygon points="10.7,87.0 4.1,73.0 3.3,73.9 10.2,89.5" fill="#ff4f9a"/>
<polygon points="11.6,10.7 5.3,-2.9 4.7,-2.2 11.3,12.5" fill="#ff5a30"/>
<polygon points="11.8,44.4 21.7,26.7 22.5,27.7 12.3,46.9" fill="#ffe040"/>
<polygon points="10.9,28.2 6.6,5.0 5.5,6.3 10.3,31.4" fill="#5af04a"/>
<polygon points="12.6,93.8 20.7,65.5 21.2,66.1 12.9,95.4" fill="#ff5a30"/>
<polygon points="11.0,96.6 20.1,74.5 20.7,75.3 11.4,98.4" fill="#ffffff"/>
<polygon points="9.8,36.9 8.1,29.8 7.3,30.8 9.3,39.4" fill="#ff4f9a"/>
<polygon points="14.4,0.2 22.6,-19.0 23.7,-17.7 15.1,3.5" fill="#d040e0"/>
<polygon points="10.0,20.9 3.1,-0.6 2.3,0.4 9.5,23.4" fill="#ffffff"/>
<polygon points="13.1,40.0 20.4,17.8 21.1,18.6 13.5,42.0" fill="#ff60c0"/>
<polygon points="11.6,65.7 0.0,40.6 -0.4,41.2 11.3,67.0" fill="#ff3040"/>
<polygon points="10.1,23.2 7.3,12.8 6.1,14.3 9.3,26.9" fill="#50e0e0"/>
<polygon points="13.1,18.5 18.9,0.7 20.1,2.1 13.8,22.0" fill="#ff8a2c"/>
<polygon points="12.1,97.2 7.8,81.8 7.3,82.4 11.7,98.9" fill="#ffe040"/>
<polygon points="11.0,25.5 15.2,18.2 16.5,19.7 11.7,29.2" fill="#ff3040"/>
<polygon points="11.5,20.5 21.5,-6.3 22.1,-5.6 11.9,22.4" fill="#ff5a30"/>
<polygon points="10.8,11.0 2.8,-13.4 2.0,-12.4 10.3,13.5" fill="#5af04a"/>
<polygon points="9.5,64.7 17.1,48.7 18.0,49.8 10.0,67.5" fill="#ff7a7a"/>
<polygon points="11.1,83.2 17.9,61.0 19.2,62.6 11.9,87.1" fill="#5af04a"/>
<polygon points="9.4,22.5 14.6,9.2 15.6,10.3 9.9,25.5" fill="#ffe040"/>
<polygon points="11.9,83.6 8.9,75.2 8.2,76.0 11.5,85.8" fill="#ff4a55"/>
<polygon points="10.9,56.4 4.9,46.2 4.2,47.0 10.5,58.5" fill="#ff5a30"/>
<polygon points="10.7,75.8 22.2,53.5 23.0,54.5 11.2,78.2" fill="#ff4a55"/>
<polygon points="11.3,88.3 14.7,77.3 15.6,78.4 11.9,91.0" fill="#50e0e0"/>
<polygon points="9.3,9.9 15.3,-1.0 16.1,0.1 9.8,12.5" fill="#ff2a2a"/>
<polygon points="11.5,47.2 15.0,37.0 16.1,38.3 12.1,50.5" fill="#ff4a55"/>
<polygon points="9.3,27.7 15.4,13.3 16.6,14.9 10.1,31.5" fill="#ff3040"/>
<polygon points="11.4,59.1 24.1,36.9 25.0,37.9 11.9,61.7" fill="#ff2a2a"/>
<polygon points="10.5,39.6 7.2,25.2 6.4,26.1 10.1,41.9" fill="#ffe040"/>
<polygon points="10.2,41.6 16.7,30.6 17.4,31.5 10.6,43.7" fill="#ff60c0"/>
<polygon points="10.1,96.6 19.0,68.6 20.1,69.9 10.8,100.0" fill="#ff5a30"/>
<polygon points="11.8,56.8 -1.2,35.3 -2.2,36.6 11.1,60.0" fill="#3cf52e"/>
<polygon points="11.0,28.1 9.1,20.3 8.2,21.3 10.5,30.7" fill="#c8f032"/>
<polygon points="11.4,12.7 7.8,1.4 7.0,2.4 10.9,15.3" fill="#d040e0"/>
<polygon points="11.6,1.7 3.1,-25.0 2.3,-24.1 11.1,4.0" fill="#d040e0"/>
<polygon points="16.3,28.3 20.4,21.6 21.3,22.7 16.9,31.1" fill="#50e0e0"/>
<polygon points="9.9,50.3 0.3,27.4 -0.7,28.7 9.3,53.4" fill="#c8f032"/>
<polygon points="11.0,57.3 4.0,40.8 3.5,41.4 10.7,58.9" fill="#ff4a55"/>
<polygon points="11.7,-0.4 9.5,-7.3 8.2,-5.8 10.9,3.4" fill="#ff5a30"/>
<polygon points="9.7,45.3 20.2,24.3 21.3,25.6 10.3,48.5" fill="#ffa060"/>
<polygon points="11.9,74.1 18.0,53.5 18.8,54.5 12.4,76.6" fill="#ff2a2a"/>
<polygon points="9.3,1.2 7.1,-5.8 6.0,-4.4 8.7,4.6" fill="#d040e0"/>
<polygon points="10.5,81.7 7.8,67.7 6.7,68.9 9.9,84.9" fill="#5af04a"/>
<polygon points="11.5,93.6 3.1,73.8 2.4,74.7 11.0,95.9" fill="#ffe040"/>
<polygon points="14.5,26.0 22.0,0.1 22.5,0.7 14.8,27.4" fill="#ffffff"/>
<polygon points="11.5,22.7 18.8,1.1 20.1,2.6 12.2,26.3" fill="#5af04a"/>
<polygon points="11.4,24.4 13.6,14.0 14.7,15.3 12.1,27.7" fill="#ff7a7a"/>
<polygon points="11.2,87.2 8.1,74.3 7.0,75.7 10.5,90.6" fill="#50e0e0"/>
<polygon points="11.9,6.5 23.6,-15.9 24.7,-14.6 12.5,9.8" fill="#ff4a55"/>
<polygon points="10.3,37.6 1.0,10.9 0.5,11.4 10.0,39.0" fill="#7a60ff"/>
<polygon points="10.7,4.3 15.0,-15.6 16.2,-14.1 11.4,7.9" fill="#ff8a2c"/>
<polygon points="10.8,19.3 7.6,8.6 6.9,9.5 10.3,21.6" fill="#ff8a2c"/>
<polygon points="11.5,2.5 19.2,-11.1 20.2,-9.9 12.1,5.4" fill="#5af04a"/>
<polygon points="10.8,26.1 6.6,18.0 5.4,19.4 10.1,29.7" fill="#ffe040"/>
<polygon points="11.6,90.7 14.8,74.3 15.9,75.6 12.2,94.0" fill="#40e090"/>
<polygon points="7.0,1.8 -5.0,-25.6 -5.5,-25.0 6.7,3.2" fill="#ff4f9a"/>
<polygon points="11.2,92.9 3.0,67.4 1.7,68.8 10.5,96.6" fill="#50e0e0"/>
<polygon points="10.4,21.4 1.8,-6.3 1.1,-5.4 10.0,23.7" fill="#ffa060"/>
<polygon points="10.8,20.2 5.1,-7.9 4.6,-7.3 10.5,21.7" fill="#ffe040"/>
<polygon points="11.9,76.8 15.9,69.5 17.0,70.8 12.6,80.1" fill="#50e0e0"/>
<polygon points="7.9,57.3 0.7,41.0 -0.0,41.9 7.5,59.6" fill="#ff8a2c"/>
<polygon points="9.6,78.9 5.9,61.5 4.8,62.9 8.9,82.3" fill="#c8f032"/>
<polygon points="10.3,84.8 5.5,60.4 4.3,61.9 9.5,88.6" fill="#ff4f9a"/>
<polygon points="9.5,95.4 19.0,71.3 20.0,72.5 10.1,98.4" fill="#ff5a30"/>
<polygon points="9.8,69.5 1.6,54.5 0.8,55.5 9.4,71.9" fill="#5af04a"/>
<polygon points="9.4,78.6 17.2,62.0 18.4,63.5 10.2,82.2" fill="#ff4a55"/>
<polygon points="5.5,87.7 0.9,68.4 0.3,69.0 5.2,89.3" fill="#ffe040"/>
<polygon points="9.3,98.0 5.3,89.7 4.1,91.1 8.5,101.6" fill="#ff5a30"/>
<polygon points="10.4,96.1 4.3,80.0 3.4,81.1 9.9,98.7" fill="#ff5a30"/>
<polygon points="9.5,34.1 -3.3,9.2 -4.2,10.3 9.0,36.9" fill="#ff2a2a"/>
<polygon points="11.4,15.6 5.8,-9.9 4.7,-8.6 10.7,18.8" fill="#c8f032"/>
<polygon points="11.3,65.1 1.9,47.0 1.4,47.6 11.0,66.6" fill="#ff60c0"/>
<polygon points="11.8,79.2 16.0,66.4 17.2,67.9 12.6,83.0" fill="#ff5a30"/>
<polygon points="9.2,85.4 13.5,73.4 14.8,74.9 10.0,89.2" fill="#5af04a"/>
<polygon points="9.8,50.1 24.7,24.8 25.4,25.7 10.3,52.3" fill="#7a60ff"/>
<polygon points="13.8,69.3 18.1,49.5 18.8,50.3 14.2,71.4" fill="#ff60c0"/>
<polygon points="9.6,0.6 8.3,-6.8 7.6,-6.0 9.3,2.5" fill="#50e0e0"/>
<polygon points="4.9,79.9 3.4,72.6 2.3,73.9 4.2,83.1" fill="#ff60c0"/>
<polygon points="10.0,21.9 12.1,12.8 13.1,14.0 10.6,25.1" fill="#50e0e0"/>
<polygon points="10.7,48.2 15.4,39.9 16.6,41.3 11.4,51.8" fill="#ff5a30"/>
<polygon points="14.2,65.0 25.7,43.7 26.9,45.1 14.9,68.5" fill="#c8f032"/>
<polygon points="10.1,82.1 7.0,66.4 5.9,67.7 9.4,85.5" fill="#ff2a2a"/>
<polygon points="10.7,41.6 16.6,16.6 17.1,17.2 10.9,43.1" fill="#ff8a2c"/>
<polygon points="10.4,85.2 5.1,70.8 4.5,71.4 10.1,86.8" fill="#ff8a2c"/>
<polygon points="11.5,12.0 16.4,-12.4 17.4,-11.2 12.1,14.9" fill="#ff3040"/>
<polygon points="11.5,84.7 20.3,58.0 21.3,59.2 12.1,87.7" fill="#ffe040"/>
<polygon points="10.0,10.2 6.8,-6.5 6.1,-5.6 9.6,12.3" fill="#ff3040"/>
<polygon points="10.4,57.5 13.3,49.1 14.6,50.6 11.2,61.3" fill="#3cf52e"/>
<polygon points="11.6,55.8 17.9,44.9 18.8,46.0 12.2,58.6" fill="#ff4a55"/>
<polygon points="10.5,36.7 16.5,20.2 17.5,21.4 11.1,39.7" fill="#5af04a"/>
<polygon points="9.6,20.2 21.2,-6.7 22.4,-5.2 10.3,23.9" fill="#50e0e0"/>
<polygon points="11.4,30.6 13.8,17.3 14.5,18.1 11.8,32.7" fill="#c8f032"/>
<polygon points="10.2,85.3 18.0,64.6 19.1,66.0 10.9,88.8" fill="#ff4a55"/>
<polygon points="9.7,72.0 4.8,56.2 4.2,56.9 9.4,73.7" fill="#40e090"/>
<polygon points="10.5,82.1 4.1,59.0 3.0,60.3 9.9,85.4" fill="#3cf52e"/>
<polygon points="10.3,85.3 4.7,69.8 4.1,70.5 10.0,86.9" fill="#3cf52e"/>
<polygon points="10.5,83.2 19.1,57.5 19.9,58.4 10.9,85.5" fill="#ffe040"/>
<polygon points="12.1,33.4 23.6,14.8 24.7,16.1 12.7,36.6" fill="#ff5a30"/>
<polygon points="11.6,51.8 4.7,36.2 4.1,37.0 11.2,53.7" fill="#5af04a"/>
<polygon points="9.9,18.5 15.1,-8.5 15.6,-8.0 10.2,19.9" fill="#50e0e0"/>
<polygon points="10.3,75.5 16.9,57.8 18.0,59.1 10.9,78.6" fill="#ff4f9a"/>
<polygon points="10.3,93.0 0.8,76.4 0.0,77.3 9.8,95.3" fill="#ffffff"/>
<polygon points="12.1,16.9 19.0,0.0 20.0,1.2 12.7,19.8" fill="#ff5a30"/>
<polygon points="9.4,34.3 16.5,5.7 17.4,6.8 10.0,37.0" fill="#40e090"/>
<polygon points="15.1,91.7 22.6,71.6 23.8,72.9 15.8,95.2" fill="#ff5a30"/>
<polygon points="9.2,4.0 6.6,-10.9 5.6,-9.7 8.6,7.0" fill="#ffe040"/>
<polygon points="9.1,69.2 -1.9,43.4 -2.5,44.0 8.8,70.8" fill="#ff4f9a"/>
<polygon points="9.5,75.1 15.3,48.6 16.2,49.7 10.1,77.7" fill="#ff5a30"/>
<polygon points="7.8,13.7 3.9,7.1 2.6,8.6 7.0,17.5" fill="#ff7a7a"/>
<polygon points="9.8,78.2 2.3,56.7 1.7,57.4 9.5,79.9" fill="#ffe040"/>
<polygon points="9.3,61.0 3.6,47.1 2.8,48.0 8.8,63.3" fill="#ff4f9a"/>
<polygon points="9.8,3.5 3.2,-7.4 2.0,-6.0 9.0,7.2" fill="#ffe040"/>
<polygon points="9.8,39.9 20.3,12.8 21.6,14.3 10.6,43.7" fill="#3cf52e"/>
<polygon points="9.6,29.0 11.3,21.7 11.8,22.3 9.9,30.6" fill="#ffffff"/>
<polygon points="10.3,27.1 13.6,18.1 14.4,19.0 10.8,29.5" fill="#3cf52e"/>
<polygon points="10.1,80.7 18.0,62.6 18.8,63.7 10.6,83.3" fill="#ff4a55"/>
<polygon points="6.0,0.5 -0.1,-10.4 -0.7,-9.7 5.6,2.4" fill="#ff4f9a"/>
<polygon points="10.2,81.8 5.9,72.1 4.8,73.4 9.6,85.0" fill="#ffe040"/>
<polygon points="9.7,93.3 5.1,82.0 4.5,82.6 9.3,95.0" fill="#50e0e0"/>
<polygon points="11.4,97.2 5.6,82.0 5.0,82.6 11.0,98.9" fill="#50e0e0"/>
<polygon points="9.1,83.4 11.3,76.0 11.9,76.7 9.5,85.1" fill="#7a60ff"/>
<polygon points="11.8,83.3 14.3,72.2 14.8,72.8 12.1,84.8" fill="#ff8a2c"/>
<polygon points="12.4,4.6 16.3,-3.5 17.5,-2.2 13.1,8.0" fill="#7a60ff"/>
<polygon points="7.4,60.9 -6.1,35.8 -6.9,36.7 6.9,63.2" fill="#ff3040"/>
<polygon points="11.0,64.0 13.9,51.7 14.7,52.6 11.4,66.3" fill="#ffe040"/>
<polygon points="9.6,89.5 -2.5,69.4 -3.0,70.0 9.3,90.9" fill="#ff5a30"/>
<polygon points="9.4,36.2 3.3,17.4 2.0,18.9 8.7,39.9" fill="#ff2a2a"/>
<polygon points="9.4,50.2 16.9,29.0 18.1,30.5 10.2,53.9" fill="#ffffff"/>
<polygon points="10.1,2.3 1.5,-25.8 1.0,-25.2 9.8,3.7" fill="#ffa060"/>
<polygon points="11.6,89.5 20.7,68.5 21.8,69.8 12.2,92.8" fill="#5af04a"/>
<polygon points="16.2,92.8 23.3,77.2 24.2,78.2 16.7,95.5" fill="#ff60c0"/>
<polygon points="9.5,3.4 3.5,-12.3 2.3,-10.8 8.7,7.2" fill="#ff2a2a"/>
<polygon points="9.8,80.7 15.0,71.0 16.2,72.3 10.5,84.0" fill="#ff5a30"/>
<polygon points="14.1,33.9 16.9,25.2 17.5,25.9 14.4,35.6" fill="#ff8a2c"/>
<polygon points="10.2,68.7 3.0,51.2 1.8,52.7 9.4,72.4" fill="#50e0e0"/>
<polygon points="11.9,54.4 22.5,35.7 23.3,36.7 12.4,56.9" fill="#c8f032"/>
<polygon points="10.2,96.1 23.0,73.4 23.7,74.2 10.6,98.2" fill="#ffffff"/>
<polygon points="9.6,26.1 5.5,17.5 4.3,19.0 8.8,29.9" fill="#ffe040"/>
<polygon points="10.6,14.8 7.6,7.4 6.3,8.9 9.8,18.7" fill="#ffa060"/>
<polygon points="11.5,54.5 7.3,33.0 6.4,34.1 10.9,57.1" fill="#ff3040"/>
<polygon points="9.2,62.6 20.3,43.6 21.4,44.9 9.8,65.8" fill="#ffe040"/>
<polygon points="11.0,34.9 8.3,25.9 7.6,26.7 10.5,37.0" fill="#5af04a"/>
<polygon points="9.6,21.1 1.6,3.1 0.4,4.5 8.9,24.5" fill="#ffffff"/>
<polygon points="10.0,3.1 3.4,-14.1 2.8,-13.4 9.6,4.8" fill="#ff5a30"/>
<polygon points="6.9,66.9 3.8,57.3 3.0,58.2 6.5,69.3" fill="#ff8a2c"/>
<polygon points="11.5,19.9 13.1,13.0 14.3,14.4 12.2,23.4" fill="#ff3040"/>
<polygon points="12.0,64.3 26.0,40.6 26.4,41.2 12.2,65.7" fill="#3cf52e"/>
<polygon points="13.8,27.6 21.3,3.3 22.2,4.4 14.3,30.4" fill="#3cf52e"/>
<polygon points="11.5,95.3 6.0,66.4 5.0,67.6 10.9,98.3" fill="#c8f032"/>
<polygon points="10.0,64.0 20.6,37.1 21.6,38.3 10.6,67.0" fill="#d040e0"/>
<polygon points="10.8,16.9 21.8,-3.2 22.7,-2.0 11.3,19.7" fill="#ff60c0"/>
<polygon points="11.8,22.1 19.7,8.0 20.3,8.8 12.1,23.9" fill="#ff8a2c"/>
<polygon points="12.6,84.4 22.8,65.0 23.9,66.2 13.2,87.4" fill="#ff8a2c"/>
<polygon points="7.6,52.2 2.6,28.8 1.7,30.0 7.0,55.0" fill="#ff5a30"/>
<polygon points="10.5,84.5 6.4,63.5 5.6,64.6 9.9,87.2" fill="#ff8a2c"/>
<polygon points="9.8,54.4 7.2,44.6 6.7,45.2 9.5,55.9" fill="#ff2a2a"/>
<polygon points="11.8,57.5 3.2,42.2 2.6,42.9 11.5,59.2" fill="#50e0e0"/>
<polygon points="11.4,9.5 14.3,-1.0 15.1,-0.1 11.8,11.7" fill="#ff3040"/>
<polygon points="9.4,22.0 21.6,1.8 22.5,2.9 10.0,24.9" fill="#ff3040"/>
<polygon points="11.6,90.7 5.6,79.3 4.8,80.3 11.1,93.2" fill="#ff7a7a"/>
<polygon points="6.7,0.1 2.8,-7.7 2.2,-7.0 6.3,1.8" fill="#40e090"/>
<polygon points="11.9,12.5 17.6,-6.1 18.7,-4.7 12.6,15.9" fill="#ff5a30"/>
<polygon points="14.6,46.8 21.3,20.6 21.8,21.2 14.8,48.3" fill="#40e090"/>
<polygon points="12.0,45.7 3.3,24.4 2.7,25.2 11.6,47.6" fill="#5af04a"/>
<polygon points="11.8,50.9 20.8,24.9 21.3,25.5 12.1,52.4" fill="#5af04a"/>
<polygon points="10.6,55.8 22.7,30.0 23.4,30.8 11.0,58.0" fill="#ff4f9a"/>
<polygon points="10.3,85.8 4.3,65.1 3.7,65.8 9.9,87.5" fill="#5af04a"/>
<polygon points="6.2,55.0 -9.3,29.5 -10.2,30.6 5.6,57.8" fill="#ff4a55"/>
<polygon points="11.7,55.3 5.0,41.5 3.9,42.8 11.0,58.7" fill="#ffe040"/>
<polygon points="13.5,94.5 22.0,72.0 23.0,73.2 14.0,97.5" fill="#5af04a"/>
<polygon points="10.6,4.1 15.5,-17.9 16.6,-16.5 11.3,7.4" fill="#5af04a"/>
<polygon points="10.4,13.1 8.8,6.1 8.0,7.1 9.9,15.6" fill="#ff5a30"/>
<polygon points="10.8,56.8 4.8,44.2 3.8,45.5 10.1,60.0" fill="#ff3040"/>
<polygon points="4.7,90.3 -4.1,71.8 -4.8,72.7 4.2,92.6" fill="#ffa060"/>
<polygon points="11.8,85.0 0.7,61.2 0.1,61.9 11.4,86.8" fill="#ff4a55"/>
<polygon points="10.9,24.9 6.2,13.8 5.6,14.6 10.5,26.7" fill="#ff8a2c"/>
<polygon points="11.5,22.2 2.1,-5.4 1.6,-4.8 11.2,23.8" fill="#ffa060"/>
<polygon points="10.1,11.7 6.0,-0.9 5.5,-0.3 9.8,13.1" fill="#5af04a"/>
<polygon points="9.8,84.9 1.2,64.8 0.1,66.0 9.2,88.0" fill="#ff7a7a"/>
<polygon points="11.9,2.6 16.3,-21.9 17.1,-20.9 12.4,4.9" fill="#5af04a"/>
<polygon points="10.1,54.5 12.7,46.7 13.8,47.9 10.7,57.7" fill="#ff8a2c"/>
<polygon points="11.1,12.3 4.9,-1.6 4.2,-0.7 10.7,14.5" fill="#ff4a55"/>
<polygon points="10.5,96.3 14.4,84.7 15.6,86.0 11.2,99.8" fill="#ff4a55"/>
<polygon points="11.4,75.4 19.5,57.3 20.4,58.4 12.0,78.1" fill="#ff3040"/>
<polygon points="12.0,63.7 15.3,53.7 16.1,54.7 12.5,66.0" fill="#ff3040"/>
<polygon points="10.2,4.0 0.9,-13.4 -0.3,-11.9 9.4,7.8" fill="#d040e0"/>
<polygon points="10.4,71.9 2.5,54.5 1.5,55.7 9.8,75.1" fill="#ff4a55"/>
<polygon points="9.4,89.4 16.8,73.5 18.0,74.9 10.2,93.1" fill="#ff7a7a"/>
<polygon points="15.7,62.7 24.9,42.2 25.6,42.9 16.1,64.6" fill="#ff4a55"/>
<polygon points="9.8,60.8 5.8,54.3 4.7,55.5 9.2,64.0" fill="#7a60ff"/>
<polygon points="10.8,40.6 13.2,27.0 13.9,27.8 11.2,42.5" fill="#7a60ff"/>
<polygon points="12.7,11.7 18.4,-0.6 19.2,0.5 13.3,14.3" fill="#ff8a2c"/>
<polygon points="8.8,56.0 1.5,30.5 1.1,31.1 8.5,57.5" fill="#d040e0"/>
<polygon points="11.8,12.0 17.5,-10.0 18.0,-9.4 12.2,13.7" fill="#ff5a30"/>
<polygon points="11.4,48.4 15.8,40.2 16.8,41.5 12.0,51.5" fill="#ffffff"/>
<polygon points="9.1,31.6 -0.3,13.5 -1.3,14.7 8.6,34.6" fill="#50e0e0"/>
<polygon points="8.6,41.1 -3.6,20.8 -4.8,22.2 7.9,44.8" fill="#ff5a30"/>
<polygon points="11.3,50.6 8.1,40.0 7.5,40.7 11.0,52.4" fill="#ff60c0"/>
<polygon points="11.7,33.4 26.3,8.4 27.6,9.9 12.4,37.3" fill="#ffa060"/>
<polygon points="9.7,5.3 6.5,-1.3 5.2,0.2 8.9,9.1" fill="#ffe040"/>
<polygon points="11.2,-0.9 3.6,-21.6 2.7,-20.5 10.6,1.8" fill="#3cf52e"/>
<polygon points="11.7,40.3 19.3,26.4 20.4,27.7 12.4,43.6" fill="#ff8a2c"/>
<polygon points="11.6,58.9 17.9,36.8 19.2,38.4 12.4,62.8" fill="#40e090"/>
<polygon points="10.1,60.2 -4.3,36.3 -5.3,37.5 9.4,63.3" fill="#ff4f9a"/>
<polygon points="6.8,95.4 1.4,78.3 0.5,79.3 6.3,97.9" fill="#ff8a2c"/>
<polygon points="9.9,80.7 17.6,67.6 18.9,69.1 10.7,84.5" fill="#ff3040"/>
<polygon points="11.6,61.0 4.2,33.7 3.6,34.6 11.2,63.0" fill="#ff60c0"/>
<polygon points="10.2,57.1 -5.1,31.2 -6.1,32.6 9.5,60.3" fill="#40e090"/>
<polygon points="11.9,34.7 8.8,24.6 8.2,25.4 11.6,36.5" fill="#5af04a"/>
<polygon points="9.4,36.2 14.1,27.6 14.8,28.4 9.8,38.2" fill="#ff4f9a"/>
<polygon points="10.4,64.4 13.3,48.5 14.3,49.8 11.1,67.5" fill="#7a60ff"/>
<polygon points="9.8,49.8 0.6,29.1 -0.3,30.2 9.3,52.5" fill="#ff7a7a"/>
<polygon points="10.9,36.2 0.4,19.4 -0.3,20.2 10.5,38.2" fill="#5af04a"/>
<polygon points="12.9,23.6 26.0,0.9 27.0,2.1 13.5,26.6" fill="#ff7a7a"/>
<polygon points="13.7,27.1 21.6,0.1 22.4,1.0 14.2,29.4" fill="#3cf52e"/>
<polygon points="11.9,62.9 17.9,49.1 18.8,50.2 12.4,65.8" fill="#ff3040"/>
<polygon points="10.3,64.7 23.8,41.6 24.6,42.5 10.8,67.2" fill="#ff3040"/>
<polygon points="12.1,57.4 20.2,30.1 21.0,31.1 12.6,59.9" fill="#ff4f9a"/>
<polygon points="11.3,37.8 6.8,19.6 5.8,20.8 10.7,40.9" fill="#ff4a55"/>
<polygon points="9.8,27.5 16.2,3.6 16.7,4.3 10.1,29.1" fill="#ff3040"/>
<polygon points="11.2,47.8 1.0,30.6 -0.0,31.9 10.6,50.9" fill="#50e0e0"/>
<polygon points="9.3,67.2 22.0,44.1 22.8,45.1 9.7,69.6" fill="#5af04a"/>
<polygon points="9.4,17.1 5.5,6.5 4.6,7.5 8.8,19.7" fill="#50e0e0"/>
<polygon points="10.2,37.6 19.9,17.1 20.6,17.9 10.6,39.5" fill="#ffe040"/>
<polygon points="11.1,18.2 7.5,7.0 6.3,8.5 10.3,22.0" fill="#5af04a"/>
<polygon points="9.3,91.2 11.6,79.9 12.5,81.0 9.8,94.0" fill="#3cf52e"/>
<polygon points="11.0,93.3 14.5,86.4 15.3,87.4 11.5,95.8" fill="#3cf52e"/>
<polygon points="11.7,91.7 17.1,81.3 17.7,82.0 12.0,93.5" fill="#d040e0"/>
<polygon points="11.5,86.2 13.8,75.3 14.7,76.4 12.1,89.0" fill="#ff7a7a"/>
<polygon points="9.4,19.1 7.3,9.0 6.7,9.8 9.0,21.0" fill="#ff3040"/>
<polygon points="11.7,39.6 20.5,18.0 21.3,19.0 12.2,42.0" fill="#ff3040"/>
<polygon points="10.1,14.0 16.3,1.8 17.2,2.9 10.6,16.9" fill="#ffe040"/>
<polygon points="11.1,89.4 20.1,71.9 21.3,73.4 11.8,93.1" fill="#5af04a"/>
<polygon points="14.9,36.1 19.0,24.7 19.5,25.3 15.2,37.7" fill="#5af04a"/>
<polygon points="9.7,66.0 6.5,58.8 5.5,60.0 9.1,69.1" fill="#ffe040"/>
<polygon points="9.4,47.1 0.7,24.5 -0.6,25.9 8.6,50.8" fill="#c8f032"/>
<polygon points="11.4,56.5 7.1,45.7 6.0,47.0 10.7,59.8" fill="#ff3040"/>
<polygon points="11.1,56.1 -1.0,29.5 -2.3,31.0 10.3,59.9" fill="#5af04a"/>
<polygon points="6.7,43.1 0.8,29.7 0.3,30.4 6.4,44.7" fill="#ff3040"/>
<polygon points="9.2,72.8 1.1,49.1 0.2,50.1 8.7,75.4" fill="#3cf52e"/>
<polygon points="11.3,62.8 7.4,46.7 6.9,47.3 11.0,64.4" fill="#ff5a30"/>
<polygon points="10.5,64.4 7.1,50.2 5.9,51.6 9.8,68.0" fill="#ff3040"/>
<polygon points="10.1,86.1 5.5,76.6 4.5,77.7 9.5,88.8" fill="#ff60c0"/>
<polygon points="11.8,23.7 7.2,11.0 6.0,12.5 11.1,27.5" fill="#ffffff"/>
<polygon points="10.8,7.5 0.4,-19.2 -0.7,-17.9 10.1,10.9" fill="#ff3040"/>
<polygon points="11.0,73.2 6.4,47.2 5.6,48.2 10.5,75.6" fill="#ff3040"/>
<polygon points="11.2,64.5 7.2,52.8 6.1,54.1 10.6,67.9" fill="#ff3040"/>
<polygon points="9.5,58.0 7.0,50.5 5.9,51.7 8.9,61.2" fill="#50e0e0"/>
<polygon points="9.2,90.3 6.3,76.3 5.2,77.6 8.5,93.6" fill="#ffa060"/>
<polygon points="9.7,49.2 5.4,39.7 4.8,40.4 9.4,51.0" fill="#ff2a2a"/>
<polygon points="11.4,95.8 2.2,72.3 1.3,73.4 10.9,98.4" fill="#ff8a2c"/>
<polygon points="11.3,84.8 4.5,59.3 4.0,59.9 10.9,86.4" fill="#ff7a7a"/>
<polygon points="11.8,94.8 14.2,85.0 15.5,86.5 12.6,98.5" fill="#3cf52e"/>
<polygon points="11.0,36.7 18.9,13.8 19.9,15.0 11.6,39.7" fill="#7a60ff"/>
<polygon points="11.7,82.0 7.6,70.2 6.7,71.3 11.2,84.8" fill="#3cf52e"/>
<polygon points="11.6,64.5 19.0,40.3 20.2,41.8 12.3,68.2" fill="#ff8a2c"/>
<polygon points="10.0,63.4 14.7,41.6 15.5,42.6 10.5,65.8" fill="#ff3040"/>
<polygon points="10.1,86.0 15.4,70.2 16.3,71.3 10.6,88.5" fill="#3cf52e"/>
<polygon points="11.2,82.6 4.3,70.7 3.7,71.6 10.8,84.7" fill="#ff3040"/>
<polygon points="10.1,19.7 6.8,4.4 6.0,5.3 9.6,22.0" fill="#ff8a2c"/>
<polygon points="11.5,33.2 17.4,20.4 18.6,21.9 12.2,36.8" fill="#3cf52e"/>
<polygon points="10.8,50.8 -2.4,27.7 -3.1,28.5 10.4,52.8" fill="#ff4a55"/>
<polygon points="10.3,8.1 13.0,-1.6 13.7,-0.8 10.7,10.1" fill="#ff4f9a"/>
<polygon points="10.2,24.7 14.8,10.1 15.8,11.3 10.8,27.6" fill="#ff4a55"/>
<polygon points="12.5,47.9 24.5,28.4 25.7,29.8 13.2,51.5" fill="#ff4f9a"/>
<polygon points="10.1,29.2 3.7,6.3 3.2,6.9 9.8,30.6" fill="#ff5a30"/>
<polygon points="12.0,16.8 -2.1,-9.6 -3.0,-8.5 11.5,19.7" fill="#ffe040"/>
<polygon points="7.5,75.4 4.4,59.0 3.4,60.2 6.9,78.4" fill="#ff4f9a"/>
<polygon points="10.8,94.5 20.8,73.9 21.4,74.6 11.2,96.3" fill="#ffffff"/>
<polygon points="10.0,12.0 7.1,1.7 6.5,2.4 9.7,13.8" fill="#3cf52e"/>
<polygon points="11.9,75.9 25.6,50.1 26.3,51.0 12.4,78.0" fill="#ff4f9a"/>
<polygon points="11.2,38.4 17.7,24.5 18.8,25.8 11.9,41.8" fill="#ff60c0"/>
<polygon points="8.5,81.9 -2.0,59.3 -2.6,60.0 8.2,83.6" fill="#7a60ff"/>
<polygon points="10.0,5.7 13.1,-9.4 14.0,-8.3 10.5,8.4" fill="#ff4f9a"/>
<polygon points="10.9,75.3 5.4,56.9 4.7,57.7 10.5,77.4" fill="#ffffff"/>
<polygon points="11.5,5.0 4.4,-18.3 3.6,-17.3 11.0,7.4" fill="#ff5a30"/>
<polygon points="9.3,62.6 -0.5,39.8 -1.8,41.3 8.5,66.4" fill="#ff4f9a"/>
<polygon points="11.3,78.7 18.9,52.9 19.4,53.6 11.7,80.5" fill="#ff5a30"/>
<polygon points="9.4,19.3 -5.0,-5.0 -5.4,-4.5 9.1,20.7" fill="#3cf52e"/>
<polygon points="9.5,19.4 16.8,-4.5 18.0,-3.1 10.2,23.0" fill="#ff60c0"/>
<polygon points="11.0,10.5 18.5,-16.1 19.7,-14.7 11.7,14.0" fill="#ff4a55"/>
<polygon points="10.9,68.6 20.1,49.6 20.6,50.2 11.2,70.1" fill="#c8f032"/>
<polygon points="11.8,19.4 6.0,6.5 5.1,7.6 11.2,22.2" fill="#ff2a2a"/>
<polygon points="11.0,49.8 -0.1,26.0 -0.5,26.5 10.7,51.2" fill="#ff60c0"/>
<polygon points="13.5,3.9 20.2,-15.5 20.7,-15.0 13.8,5.4" fill="#ff8a2c"/>
<polygon points="10.8,27.5 20.9,0.1 21.6,0.9 11.2,29.4" fill="#40e090"/>
<polygon points="9.9,95.6 4.2,84.9 3.0,86.3 9.2,99.0" fill="#ffa060"/>
<polygon points="9.8,7.0 4.0,-8.2 3.1,-7.0 9.2,9.8" fill="#ff7a7a"/>
<polygon points="13.4,35.2 23.3,15.4 24.3,16.6 14.0,38.2" fill="#ff8a2c"/>
<polygon points="9.3,32.2 4.8,23.8 3.7,25.1 8.7,35.5" fill="#ff4f9a"/>
<polygon points="11.6,75.9 0.1,53.9 -1.0,55.2 11.0,79.2" fill="#ffa060"/>
<polygon points="11.7,70.4 7.8,62.9 7.3,63.5 11.4,71.8" fill="#50e0e0"/>
<polygon points="9.4,33.6 0.9,15.5 0.2,16.4 9.0,35.9" fill="#3cf52e"/>
<polygon points="15.5,88.1 25.8,65.5 26.9,66.9 16.2,91.6" fill="#ff3040"/>
<polygon points="12.8,89.4 17.1,71.9 17.7,72.6 13.1,91.0" fill="#ff8a2c"/>
<polygon points="8.4,33.5 -4.9,8.2 -5.6,9.0 8.0,35.5" fill="#ff5a30"/>
<polygon points="10.9,79.3 16.2,70.8 16.8,71.5 11.2,81.2" fill="#40e090"/>
<polygon points="10.7,81.2 1.6,66.1 0.4,67.5 10.0,84.8" fill="#5af04a"/>
<polygon points="15.3,60.6 20.9,43.3 21.5,44.1 15.6,62.5" fill="#ffffff"/>
<polygon points="7.7,8.4 -3.2,-18.2 -4.1,-17.0 7.2,11.2" fill="#7a60ff"/>
<polygon points="5.7,4.8 -7.0,-18.8 -8.0,-17.6 5.1,7.8" fill="#ff2a2a"/>
<polygon points="11.2,86.2 7.7,77.2 6.9,78.1 10.7,88.6" fill="#ff3040"/>
<polygon points="9.4,37.3 3.5,16.5 3.1,17.1 9.1,38.8" fill="#ff3040"/>
<polygon points="16.7,44.7 19.2,32.5 19.8,33.2 17.1,46.7" fill="#ffe040"/>
<polygon points="12.0,2.1 14.0,-5.0 14.5,-4.4 12.3,3.8" fill="#ff5a30"/>
<polygon points="12.0,78.9 3.1,59.7 2.2,60.7 11.4,81.5" fill="#ff3040"/>
<polygon points="11.5,83.3 5.7,65.7 4.7,66.8 10.9,86.2" fill="#ff4a55"/>
<polygon points="10.8,52.7 16.0,35.9 17.0,37.0 11.4,55.4" fill="#ff8a2c"/>
<polygon points="9.4,10.2 5.3,-11.8 4.3,-10.7 8.8,13.2" fill="#ff3040"/>
<polygon points="10.0,71.2 6.0,63.0 5.3,63.9 9.6,73.3" fill="#7a60ff"/>
<polygon points="7.8,17.2 3.5,9.6 2.4,10.9 7.2,20.4" fill="#3cf52e"/>
<polygon points="11.8,90.6 4.2,63.6 3.0,64.9 11.2,93.9" fill="#ff4a55"/>
<polygon points="10.0,66.2 23.0,44.4 24.0,45.6 10.6,69.2" fill="#ffe040"/>
<polygon points="15.3,76.9 18.3,69.9 18.9,70.6 15.6,78.7" fill="#7a60ff"/>
<polygon points="9.2,60.4 15.1,48.5 15.9,49.5 9.6,62.8" fill="#40e090"/>
<polygon points="9.4,30.9 2.5,4.3 1.6,5.4 8.9,33.6" fill="#3cf52e"/>
<polygon points="9.7,60.8 13.9,53.4 14.7,54.4 10.2,63.3" fill="#3cf52e"/>
<polygon points="7.5,91.3 -2.5,71.8 -3.6,73.2 6.8,94.6" fill="#ff2a2a"/>
<polygon points="10.2,9.9 3.6,-10.1 3.0,-9.4 9.9,11.6" fill="#ff8a2c"/>
<polygon points="11.0,32.2 8.9,23.4 7.9,24.6 10.4,35.2" fill="#ff4a55"/>
<polygon points="9.3,5.0 -0.5,-15.8 -1.0,-15.2 9.0,6.5" fill="#ff3040"/>
<polygon points="6.2,12.3 -1.0,-10.2 -1.9,-9.2 5.7,14.9" fill="#ff5a30"/>
<polygon points="10.4,88.2 15.9,75.3 16.9,76.6 11.1,91.3" fill="#d040e0"/>
<polygon points="11.5,91.4 18.1,78.6 18.9,79.6 11.9,93.8" fill="#ff7a7a"/>
<polygon points="11.8,33.1 18.9,21.8 19.5,22.5 12.2,35.0" fill="#ff4a55"/>
<polygon points="10.2,24.4 5.1,15.4 3.8,17.0 9.5,28.2" fill="#ff3040"/>
<polygon points="10.2,4.5 7.5,-8.4 6.3,-6.9 9.4,8.2" fill="#ff5a30"/>
<polygon points="11.7,35.0 19.1,21.4 20.1,22.6 12.3,38.1" fill="#ffe040"/>
<polygon points="8.1,74.2 2.4,63.5 1.8,64.2 7.7,76.1" fill="#ffe040"/>
<polygon points="7.1,85.1 3.4,76.6 2.6,77.5 6.7,87.4" fill="#ff3040"/>
<polygon points="11.0,9.0 15.5,1.0 16.4,2.1 11.5,11.6" fill="#ff3040"/>
<polygon points="10.1,9.9 5.2,-2.3 4.5,-1.5 9.7,11.8" fill="#ff4f9a"/>
<polygon points="9.8,72.6 11.7,63.2 12.6,64.3 10.4,75.3" fill="#ff8a2c"/>
<polygon points="11.7,8.2 14.4,-4.7 15.2,-3.7 12.2,10.7" fill="#ff4a55"/>
<polygon points="11.2,29.8 7.8,16.8 7.3,17.4 10.9,31.4" fill="#ff5a30"/>
<polygon points="11.0,49.1 4.7,28.2 4.2,28.8 10.8,50.5" fill="#ff4a55"/>
<polygon points="11.7,34.5 16.6,9.5 17.7,10.8 12.3,37.8" fill="#ff2a2a"/>
<polygon points="9.2,20.7 23.2,-3.2 23.8,-2.5 9.6,22.6" fill="#40e090"/>
<polygon points="11.2,17.2 15.2,-2.8 16.0,-1.9 11.7,19.6" fill="#ff8a2c"/>
<polygon points="12.1,4.6 15.7,-13.8 16.6,-12.8 12.6,7.2" fill="#ff8a2c"/>
<polygon points="12.0,81.6 8.4,67.9 7.7,68.7 11.6,83.6" fill="#3cf52e"/>
<polygon points="9.6,15.8 21.3,-3.3 22.0,-2.4 10.0,18.1" fill="#ff5a30"/>
<polygon points="10.3,58.9 18.0,39.4 18.9,40.5 10.8,61.6" fill="#ffe040"/>
<polygon points="10.1,94.2 5.2,66.7 4.6,67.4 9.7,95.9" fill="#ff8a2c"/>
<polygon points="11.8,40.4 4.1,21.4 3.3,22.4 11.3,42.8" fill="#ffa060"/>
<polygon points="12.0,24.9 15.5,16.5 16.7,17.8 12.7,28.4" fill="#ffe040"/>
<polygon points="11.6,73.5 1.2,48.6 0.3,49.7 11.1,76.2" fill="#ff4f9a"/>
<polygon points="14.7,22.4 19.9,-4.8 20.5,-4.0 15.1,24.3" fill="#ff5a30"/>
<polygon points="9.9,84.1 18.4,64.0 19.6,65.6 10.6,87.9" fill="#c8f032"/>
<polygon points="10.5,66.4 4.9,44.6 4.5,45.2 10.3,67.7" fill="#ff4f9a"/>
<polygon points="10.7,94.0 -4.0,68.5 -5.3,70.0 10.0,97.9" fill="#ffffff"/>
<polygon points="11.4,72.9 21.2,51.0 22.2,52.3 12.0,75.9" fill="#ff4a55"/>
<polygon points="14.8,19.5 18.2,10.6 19.4,12.0 15.5,23.1" fill="#50e0e0"/>
<polygon points="11.5,43.5 19.8,25.0 20.8,26.3 12.1,46.6" fill="#ff2a2a"/>
<polygon points="10.0,-0.2 2.1,-14.2 1.1,-13.0 9.4,2.7" fill="#ff4a55"/>
<polygon points="9.2,22.9 5.6,7.8 4.6,9.0 8.6,25.9" fill="#d040e0"/>
<polygon points="11.3,64.7 5.2,54.9 4.3,56.0 10.7,67.4" fill="#ff7a7a"/>
<polygon points="9.6,-1.5 5.6,-9.6 5.0,-8.8 9.3,0.3" fill="#ff3040"/>
<polygon points="10.1,0.4 4.8,-27.6 4.3,-26.9 9.8,2.1" fill="#ffe040"/>
<polygon points="9.9,39.8 21.2,15.2 22.5,16.7 10.6,43.5" fill="#c8f032"/>
<polygon points="10.6,3.2 12.8,-6.5 13.6,-5.7 11.0,5.4" fill="#7a60ff"/>
<polygon points="11.5,13.4 15.9,-1.8 16.6,-1.0 11.9,15.4" fill="#ff3040"/>
<polygon points="7.8,56.7 -1.7,33.3 -2.5,34.3 7.3,59.3" fill="#50e0e0"/>
<polygon points="11.0,41.6 7.2,30.8 6.7,31.5 10.7,43.3" fill="#ff60c0"/>
<polygon points="11.5,40.4 23.8,20.2 24.9,21.5 12.1,43.6" fill="#c8f032"/>
<polygon points="9.9,17.3 4.9,6.7 3.9,7.9 9.3,20.3" fill="#ff4f9a"/>
<polygon points="11.4,75.3 17.1,60.2 17.8,61.0 11.9,77.4" fill="#ff3040"/>
<polygon points="10.5,30.6 8.4,20.3 7.2,21.7 9.8,34.2" fill="#ff7a7a"/>
<polygon points="13.3,48.8 21.6,27.6 22.3,28.5 13.7,50.9" fill="#3cf52e"/>
<polygon points="17.3,46.4 26.3,22.6 27.1,23.6 17.8,48.9" fill="#7a60ff"/>
<polygon points="9.3,68.7 16.1,44.7 16.9,45.6 9.7,70.8" fill="#ff4a55"/>
<polygon points="9.5,90.4 8.1,82.7 6.8,84.2 8.8,94.1" fill="#ffe040"/>
<polygon points="9.4,63.9 17.9,49.1 18.7,50.1 9.9,66.2" fill="#ff3040"/>
<polygon points="7.9,26.9 2.5,8.5 1.7,9.3 7.5,29.0" fill="#ff5a30"/>
<polygon points="9.5,22.0 18.9,-0.7 19.7,0.2 9.9,24.2" fill="#ff3040"/>
<polygon points="10.0,24.0 13.4,6.5 14.3,7.6 10.5,26.9" fill="#ffa060"/>
<polygon points="10.6,76.9 0.5,50.7 -0.7,52.2 9.9,80.5" fill="#ffe040"/>
<polygon points="11.3,49.4 2.0,21.4 1.2,22.3 10.9,51.5" fill="#ff4a55"/>
<polygon points="11.4,39.9 2.5,14.6 2.0,15.1 11.1,41.3" fill="#5af04a"/>
<polygon points="12.3,20.8 23.7,-2.4 24.5,-1.4 12.8,23.1" fill="#ffe040"/>
<polygon points="11.4,9.0 9.3,2.1 8.2,3.4 10.8,12.3" fill="#40e090"/>
<polygon points="11.5,90.1 3.3,61.5 2.2,62.8 10.9,93.4" fill="#3cf52e"/>
<polygon points="11.6,41.8 15.0,32.3 15.8,33.2 12.0,44.0" fill="#d040e0"/>
<polygon points="5.3,30.0 0.2,3.8 -1.0,5.2 4.5,33.6" fill="#5af04a"/>
<polygon points="10.1,45.1 15.7,20.8 16.3,21.5 10.5,47.0" fill="#ff3040"/>
<polygon points="10.9,30.8 -3.5,7.1 -4.3,8.0 10.5,33.1" fill="#ff8a2c"/>
<polygon points="16.3,84.2 21.5,71.0 22.3,71.9 16.8,86.5" fill="#5af04a"/>
<polygon points="10.9,88.1 20.8,66.3 22.0,67.7 11.6,91.8" fill="#ff4f9a"/>
<polygon points="10.2,42.7 2.1,16.7 1.4,17.4 9.8,44.6" fill="#ff4a55"/>
<polygon points="9.5,89.6 3.6,73.0 3.1,73.6 9.2,91.0" fill="#ff60c0"/>
<polygon points="11.5,27.2 13.8,18.1 14.8,19.3 12.1,30.0" fill="#ff5a30"/>
<polygon points="10.1,36.1 -3.0,11.0 -3.8,11.8 9.7,38.3" fill="#ff4f9a"/>
<polygon points="12.1,52.8 1.3,33.2 0.0,34.7 11.3,56.6" fill="#ff5a30"/>
<polygon points="9.7,-0.2 -1.3,-24.9 -2.5,-23.4 9.0,3.5" fill="#ff60c0"/>
<polygon points="11.5,44.3 1.9,26.9 0.9,28.1 10.9,47.3" fill="#c8f032"/>
<polygon points="11.4,25.7 15.2,14.3 15.7,14.9 11.7,27.1" fill="#ffa060"/>
<polygon points="9.6,76.4 12.6,64.5 13.2,65.2 10.0,78.4" fill="#ffa060"/>
<polygon points="3.6,44.3 0.5,31.4 -0.8,32.9 2.9,48.0" fill="#d040e0"/>
<polygon points="10.1,6.7 0.7,-19.4 -0.1,-18.4 9.6,9.1" fill="#50e0e0"/>
<polygon points="10.2,31.7 -3.4,5.0 -4.6,6.4 9.5,35.2" fill="#ff5a30"/>
<polygon points="11.7,61.6 15.9,53.7 16.6,54.6 12.1,63.8" fill="#40e090"/>
<polygon points="10.5,42.1 18.3,26.0 19.2,27.1 11.0,44.7" fill="#ff8a2c"/>
<polygon points="12.5,5.3 24.0,-21.5 24.7,-20.6 12.9,7.6" fill="#ff4a55"/>
<polygon points="6.4,13.3 4.3,5.6 3.5,6.6 5.8,15.8" fill="#3cf52e"/>
<polygon points="11.9,60.1 6.0,41.3 5.0,42.5 11.3,63.3" fill="#ff4a55"/>
<polygon points="15.2,83.3 21.3,63.7 22.0,64.6 15.7,85.5" fill="#ff4a55"/>
<polygon points="6.1,16.3 4.0,6.4 2.7,7.9 5.3,20.1" fill="#ff4f9a"/>
<polygon points="11.0,25.5 5.8,11.4 4.6,12.9 10.3,29.2" fill="#ffe040"/>
<polygon points="11.5,36.8 13.4,29.6 13.9,30.2 11.8,38.3" fill="#ffe040"/>
<polygon points="9.2,87.3 21.5,64.5 22.5,65.8 9.8,90.4" fill="#ffa060"/>
<polygon points="9.5,78.7 3.0,66.1 2.2,67.1 9.0,81.2" fill="#ff5a30"/>
<rect x="10.1" y="38.7" width="1.1" height="7.2" fill="#a8f032"/>
<rect x="10.2" y="2.8" width="1.4" height="3.5" fill="#50e0c0"/>
<rect x="9.9" y="61.3" width="2.0" height="3.2" fill="#5af04a"/>
<rect x="9.2" y="3.9" width="1.3" height="6.5" fill="#a8f032"/>
<rect x="9.4" y="11.8" width="1.2" height="6.0" fill="#50e0c0"/>
<rect x="9.6" y="47.2" width="2.0" height="5.2" fill="#5af04a"/>
<rect x="9.7" y="27.4" width="1.5" height="3.1" fill="#e0f040"/>
<rect x="9.4" y="47.3" width="1.9" height="7.0" fill="#5af04a"/>
<rect x="9.7" y="43.9" width="1.6" height="7.5" fill="#a8f032"/>
<rect x="9.7" y="55.0" width="1.9" height="6.0" fill="#a8f032"/>
<rect x="9.8" y="23.7" width="1.1" height="3.2" fill="#50e0c0"/>
<rect x="9.8" y="55.2" width="1.7" height="3.8" fill="#5af04a"/>
</g></g>
<rect x="54.4" y="110.3" width="11.2" height="5.8" fill="#f4f4f4"/>
<rect x="55" y="114" width="9.8" height="1.1" fill="#222"/>
<text x="55.3" y="113.2" font-size="2.4" text-anchor="start" font-weight="normal" fill="#333" stroke="#333" stroke-width="0.05" >200 µm</text>
<line x1="73.3" y1="94" x2="78.4" y2="94" stroke="#222" stroke-width="0.6"/>
<rect x="67.1" y="58.9" width="11.9" height="13.1" fill="none" stroke="#666" stroke-width="0.45"/>
<path d="M79 58.9 L85.7 46.4 M79 72 L85.7 116.4" stroke="#777" stroke-width="0.45" fill="none"/>
<g transform="translate(85.7,46.4)" filter="url(#soft2)"><clipPath id="cb"><rect x="0" y="0" width="71.6" height="70"/></clipPath><g clip-path="url(#cb)">
<rect x="0" y="0" width="72" height="71" fill="#ff4a55"/>
<polygon points="37.4,-1.4 72.3,-1.4 72.3,41.7 39.4,39.7" fill="#ff4652"/>
<polygon points="31.2,12.9 51.8,-1.4 60.0,-1.4 37.4,21.2" fill="#ff7a2c"/>
<polygon points="34.3,21.2 60.0,-1.4 68.2,-1.4 42.5,29.4 36.4,29.4" fill="#ff5a3a"/>
<polygon points="49.7,-1.4 72.3,-1.4 72.3,6.8 57.9,4.7" fill="#ff9a3c"/>
<polygon points="46.6,25.3 72.3,6.8 72.3,14.0 49.7,31.4" fill="#ff3a4a"/>
<polygon points="49.7,31.4 72.3,14.0 72.3,23.2 53.8,36.6" fill="#ff6a40"/>
<polygon points="54.9,36.6 72.3,23.2 72.3,29.4 57.9,39.7" fill="#ff4060"/>
<polygon points="-1.6,-1.4 7.6,-1.4 8.6,39.7 -1.6,42.7" fill="#c6f032"/>
<polygon points="6.6,4.7 11.1,2.7 13.8,27.3 12.7,40.7 8.2,40.7" fill="#62f048"/>
<polygon points="0.0,-1.4 23.0,-1.4 11.1,10.9 6.6,4.7" fill="#d6f23c"/>
<polygon points="11.1,2.7 13.8,-1.4 25.9,-1.4 29.6,8.8 36.6,19.1 39.9,27.3 37.8,31.8 29.2,27.3 21.0,19.1 14.4,9.9" fill="#3cf52e"/>
<polygon points="25.9,-1.4 40.5,-1.4 52.2,20.1 46.6,26.3 39.9,27.3 36.6,19.1 29.6,8.8" fill="#ff4f7a"/>
<polygon points="40.5,-1.4 52.2,-1.4 57.9,10.9 52.2,20.1" fill="#ff5a48"/>
<polygon points="12.7,10.9 14.4,9.9 18.9,17.1 19.7,33.5 14.8,35.1 13.1,27.3" fill="#f1f4a6"/>
<polygon points="11.1,27.3 14.8,35.1 15.6,42.7 11.9,42.7" fill="#b4f0e6"/>
<polygon points="18.9,17.1 21.0,19.1 29.2,27.3 37.8,31.8 36.4,38.6 23.0,42.7 19.7,33.5" fill="#ff8a2c"/>
<polygon points="23.4,24.2 29.2,27.3 34.5,30.6 32.3,35.5 26.1,33.1" fill="#ffc59a"/>
<circle cx="18.9" cy="20.1" r="0.8" fill="#9a20c0"/>
<polygon points="46.0,11.3 49.1,9.7 51.0,6.8 47.9,8.4" fill="#50f060"/>
<polygon points="59.2,20.8 64.2,20.0 68.6,17.5 63.6,18.2" fill="#40e0a0"/>
<polygon points="53.4,27.3 60.1,25.2 66.2,21.6 59.5,23.7" fill="#5fe0cf"/>
<polygon points="42.5,17.5 46.4,16.7 49.7,14.6 45.9,15.4" fill="#ffd040"/>
<polygon points="60.0,29.4 65.4,28.2 70.3,25.7 64.9,26.9" fill="#ffd23a"/>
<polygon points="39.4,6.8 42.7,6.3 45.6,4.7 42.3,5.2" fill="#5fe0cf"/>
<polygon points="66.2,35.5 70.0,30.9 72.3,25.3 68.4,29.9" fill="#50f060"/>
<polygon points="52.2,9.2 56.5,6.7 60.0,3.1 55.6,5.6" fill="#ff8a30"/>
<polygon points="40.5,26.3 45.6,23.4 49.7,19.1 44.6,22.1" fill="#ff7a2c"/>
<polygon points="60.0,10.9 65.6,8.5 70.3,4.7 64.7,7.1" fill="#ff6a3a"/>
<polygon points="62.1,34.5 67.0,33.6 71.5,31.4 66.6,32.4" fill="#ff9a9a"/>
<polygon points="44.6,21.6 48.6,20.0 52.2,17.5 48.1,19.1" fill="#ff2a2a"/>
<polygon points="56.3,15.4 60.2,14.2 63.7,12.1 59.8,13.3" fill="#ffb060"/>
<polygon points="38.6,29.4 49.7,28.6 50.7,37.2 40.5,38.4" fill="#5a8aff"/>
<polygon points="42.3,31.4 47.7,31.0 48.1,36.4 43.1,36.8" fill="#8a3ae0"/>
<polygon points="49.7,29.4 58.4,28.6 59.2,33.5 50.7,33.9" fill="#e040d0"/>
<polygon points="24.7,36.0 31.6,34.7 32.5,39.2 25.5,40.5" fill="#5a9aff"/>
<polygon points="-1.6,42.7 8.6,39.7 23.0,42.7 36.4,38.6 39.4,45.8 36.4,58.1 -1.6,59.4" fill="#ff4a70"/>
<polygon points="2.5,37.6 7.6,36.8 8.2,45.8 3.3,46.6" fill="#ff6a4a"/>
<polygon points="8.2,40.7 12.7,40.7 13.6,44.8 9.0,45.4" fill="#b030e0"/>
<polygon points="27.1,39.7 39.4,38.8 56.9,52.4 51.8,58.1 39.4,49.9" fill="#ffe25a"/>
<polygon points="36.4,49.9 51.8,58.1 60.0,66.4 57.9,71.3 35.3,60.2" fill="#ffb08a"/>
<polygon points="31.2,57.1 60.0,71.3 47.7,71.3 29.2,64.3" fill="#ff7a8a"/>
<polygon points="40.5,45.4 57.9,51.6 60.0,55.1 42.5,48.9" fill="#ff60b0"/>
<polygon points="42.5,52.4 62.1,62.7 63.1,65.5 43.6,55.3" fill="#fff0f0"/>
<polygon points="46.6,59.4 64.1,68.4 64.5,70.9 47.3,61.8" fill="#70e0f0"/>
<polygon points="52.2,40.7 60.0,33.5 72.3,29.4 72.3,71.3 69.2,71.3" fill="#ff3040"/>
<polygon points="52.2,40.7 57.9,39.7 64.1,56.1 60.0,58.1" fill="#ff8a30"/>
<polygon points="60.0,58.1 64.1,56.1 70.3,71.3 66.2,71.3" fill="#ffc040"/>
<polygon points="66.2,42.7 72.3,37.6 72.3,47.9 68.2,52.0" fill="#ff7a50"/>
<polygon points="68.2,54.0 72.3,49.9 72.3,60.2" fill="#60f060"/>
<polygon points="55.9,39.7 62.1,37.6 63.7,42.7 57.9,44.8" fill="#ff50c0"/>
<polygon points="-1.6,59.4 12.7,57.7 15.6,71.3 -1.6,71.3" fill="#ff5a5a"/>
<polygon points="11.1,62.7 22.6,58.6 26.7,71.3 13.6,71.3" fill="#ff8a30"/>
<polygon points="18.9,60.6 25.9,55.7 29.6,65.5 23.4,68.8" fill="#ffd040"/>
<polygon points="29.2,56.5 35.3,51.6 40.3,71.3 31.6,71.3" fill="#50f070"/>
<polygon points="36.6,56.9 43.1,55.3 44.8,61.4 38.2,63.1" fill="#ff2020"/>
<polygon points="3.7,53.2 17.3,50.3 18.1,54.4 4.5,57.3" fill="#ff7a4a"/>
<polygon points="6.6,58.1 10.3,57.7 9.0,67.6" fill="#ff4a70"/>
<polygon points="18.9,57.3 22.2,56.9 21.4,64.7" fill="#ff4a70"/>
<polygon points="0.4,45.8 6.6,44.2 5.8,52.4 1.2,53.6" fill="#ff6a5a"/>
<path d="M60.0 1.0 L1.4 48.9" stroke="#101010" stroke-width="0.9" stroke-dasharray="2.6 1.7" fill="none"/>
<path d="M36.6 29.4 L69.4 68.0" stroke="#101010" stroke-width="0.9" stroke-dasharray="2.6 1.7" fill="none"/>
</g></g>
<line x1="106.3" y1="120.9" x2="106.3" y2="134.5" stroke="#4472C4" stroke-width="1.1"/>
<polygon points="106.3,139.5 103.7,134.5 108.9,134.5" fill="#4472C4"/>
<use href="#block"/>
<polygon points="69.9,136.3 141.8,154.4 138.5,239.2 73.5,210.6" fill="#ffffff" fill-opacity="0.2" stroke="#444" stroke-width="0.4"/>
<polygon points="69.9,136.3 72.4,135.0 146.1,152.4 141.8,154.4" fill="#8d8f86" stroke="#555" stroke-width="0.3"/>
<polygon points="141.8,154.4 146.1,152.4 145.7,160.8 141.5,162.9" fill="#d9b77e"/>
<polygon points="141.5,162.9 145.7,160.8 145.4,167.6 141.2,169.7" fill="#e6dfc0"/>
<polygon points="141.2,169.7 145.4,167.6 145.1,174.3 140.9,176.4" fill="#c9a070"/>
<polygon points="140.9,176.4 145.1,174.3 144.8,180.2 140.7,182.4" fill="#2f7a5c"/>
<polygon points="140.7,182.4 144.8,180.2 144.5,187.8 140.4,190.0" fill="#e6dfc0"/>
<polygon points="140.4,190.0 144.5,187.8 144.1,194.5 140.2,196.8" fill="#d6a565"/>
<polygon points="140.2,196.8 144.1,194.5 143.9,200.4 139.9,202.7" fill="#93a6d6"/>
<polygon points="139.9,202.7 143.9,200.4 143.6,206.3 139.7,208.7" fill="#e6dfc0"/>
<polygon points="139.7,208.7 143.6,206.3 143.3,213.0 139.4,215.5" fill="#2f7a5c"/>
<polygon points="139.4,215.5 143.3,213.0 143.1,218.1 139.2,220.5" fill="#1f2a7c"/>
<polygon points="139.2,220.5 143.1,218.1 142.8,224.0 139.0,226.5" fill="#c9d6b8"/>
<polygon points="139.0,226.5 142.8,224.0 142.5,230.7 138.7,233.3" fill="#d6a565"/>
<polygon points="138.7,233.3 142.5,230.7 142.2,236.6 138.5,239.2" fill="#8c8a72"/>
<polygon points="141.8,154.4 146.1,152.4 142.2,236.6 138.5,239.2" fill="url(#m80)" stroke="#555" stroke-width="0.3"/>
<text x="120.7" y="143.2" font-size="7.14" text-anchor="start" font-weight="normal" fill="#111" stroke="#111" stroke-width="0.16" textLength="20" lengthAdjust="spacingAndGlyphs" >70 µm</text>
<text x="146.5" y="202.2" font-size="7.14" text-anchor="start" font-weight="normal" fill="#111" stroke="#111" stroke-width="0.16" textLength="20" lengthAdjust="spacingAndGlyphs" >70 µm</text>
<text x="36.4" y="152.4" font-size="7.9" text-anchor="middle" font-weight="bold" fill="#111" stroke="#111" stroke-width="0.17" textLength="17.6" lengthAdjust="spacingAndGlyphs" >Load</text>
<text x="34.9" y="163.4" font-size="7.9" text-anchor="middle" font-weight="bold" fill="#111" stroke="#111" stroke-width="0.17" textLength="33.2" lengthAdjust="spacingAndGlyphs" >(Building</text>
<text x="36.05" y="174.1" font-size="7.9" text-anchor="middle" font-weight="bold" fill="#111" stroke="#111" stroke-width="0.17" textLength="36.1" lengthAdjust="spacingAndGlyphs" >direction)</text>
<text x="36.6" y="185.3" font-size="10.2" text-anchor="middle" font-weight="bold" fill="#111" stroke="#111" stroke-width="0.22" >Y</text>
<text x="22.2" y="212.9" font-size="10.2" text-anchor="middle" font-weight="bold" fill="#111" stroke="#111" stroke-width="0.22" >Z</text>
<text x="52.8" y="212.0" font-size="10.2" text-anchor="middle" font-weight="bold" fill="#111" stroke="#111" stroke-width="0.22" >X</text>
<line x1="36.2" y1="203.6" x2="36.2" y2="195.0" stroke="#1cc428" stroke-width="1.8"/>
<polygon points="36.2,190.4 38.7,195.0 33.7,195.0" fill="#1cc428"/>
<line x1="36.2" y1="203.6" x2="42.8" y2="205.8" stroke="#cc1a20" stroke-width="1.8"/>
<polygon points="47.2,207.2 42.1,208.1 43.6,203.4" fill="#cc1a20"/>
<line x1="36.2" y1="203.6" x2="31.4" y2="205.6" stroke="#1a1ab8" stroke-width="1.8"/>
<polygon points="27.2,207.4 30.5,203.3 32.4,207.9" fill="#1a1ab8"/>
<circle cx="75.6" cy="237.4" r="5.5" fill="#fff" stroke="#111" stroke-width="1.35"/>
<polygon points="103.0,246.4 113.6,241.0 119.2,252.3" fill="#fff" stroke="#111" stroke-width="1.4" stroke-linejoin="round"/>
<line x1="91.7" y1="227.2" x2="81.1" y2="254.1" stroke="#4472C4" stroke-width="1.1"/>
<polygon points="79.3,258.8 78.7,253.2 83.5,255.1" fill="#4472C4"/>
<line x1="121.2" y1="240.7" x2="127.0" y2="254.2" stroke="#4472C4" stroke-width="1.1"/>
<polygon points="129.0,258.8 124.6,255.2 129.4,253.2" fill="#4472C4"/>
<text x="21.7" y="256" font-size="9.48" text-anchor="start" font-weight="normal" fill="#111" stroke="#111" stroke-width="0.21" textLength="52.7" lengthAdjust="spacingAndGlyphs" >Gas/keyhole</text>
<text x="136.3" y="256" font-size="9.19" text-anchor="start" font-weight="normal" fill="#111" stroke="#111" stroke-width="0.20" textLength="56.7" lengthAdjust="spacingAndGlyphs" >Lack of fusion</text>
<g transform="translate(9.8,262.3) scale(1.0086,0.9975)"><use href="#micro"/>
<circle cx="37.9" cy="41.3" r="5.3" fill="#fff" stroke="#eee" stroke-width="0.4"/></g>
<g transform="translate(120,262.3) scale(0.9963,0.9975)"><use href="#micro"/>
<polygon points="31.2,44.1 41.5,37.4 48.2,47.2" fill="#fff" stroke="#f2f2f2" stroke-width="0.5" stroke-linejoin="round"/>
<rect x="31.8" y="43.5" width="1.2" height="1.6" fill="#e8202a"/>
<rect x="32.9" y="44.0" width="1.2" height="1.6" fill="#e8202a"/>
<rect x="34.0" y="43.3" width="1.1" height="1.7" fill="#e8202a"/>
<rect x="35.1" y="44.1" width="1.3" height="1.1" fill="#e8202a"/>
<rect x="36.1" y="44.2" width="0.9" height="1.4" fill="#e8202a"/>
<rect x="37.2" y="44.5" width="0.8" height="1.2" fill="#e8202a"/>
<rect x="38.3" y="44.4" width="1.3" height="1.5" fill="#e8202a"/>
<rect x="39.4" y="44.5" width="1.3" height="1.1" fill="#e8202a"/>
<rect x="40.5" y="45.1" width="0.9" height="1.0" fill="#e8202a"/>
<rect x="41.6" y="45.5" width="0.9" height="1.2" fill="#e8202a"/>
<rect x="42.7" y="45.9" width="1.3" height="1.2" fill="#e8202a"/>
<rect x="43.7" y="46.0" width="1.1" height="1.5" fill="#e8202a"/>
<rect x="44.8" y="45.6" width="1.4" height="1.5" fill="#e8202a"/>
<rect x="45.9" y="46.5" width="1.3" height="1.2" fill="#e8202a"/>
<rect x="47.0" y="46.1" width="0.9" height="1.1" fill="#e8202a"/>
</g>
<line x1="98.4" y1="310.1" x2="98.4" y2="302.8" stroke="#10c020" stroke-width="0.9"/>
<polygon points="98.4,300.8 97.10000000000001,303.8 99.7,303.8" fill="#10c020"/>
<line x1="98.4" y1="310.1" x2="105.7" y2="310.1" stroke="#e01818" stroke-width="0.9"/>
<polygon points="107.7,310.1 104.7,308.90000000000003 104.7,311.3" fill="#e01818"/>
<rect x="97.4" y="309.1" width="2.2" height="2" fill="#101070"/>
<text x="98.60000000000001" y="296.7" font-size="5.2" text-anchor="middle" font-weight="bold" fill="#111" stroke="#111" stroke-width="0.11" >Y</text>
<text x="112.9" y="311.8" font-size="5.2" text-anchor="middle" font-weight="bold" fill="#111" stroke="#111" stroke-width="0.11" >X</text>
<text x="343.1" y="59.5" font-size="10.75" text-anchor="start" font-weight="normal" fill="#111" stroke="#111" stroke-width="0.24" textLength="130.9" lengthAdjust="spacingAndGlyphs" >G distribution – critical sites</text>
<g transform="translate(277.2,67.6) scale(1.0000,1.0052)">
<clipPath id="cppf"><rect x="0" y="0" width="77" height="77"/></clipPath>
<rect x="0" y="0" width="77" height="77" fill="#0608dc"/>
<g clip-path="url(#cppf)" filter="url(#soft)">
<path d="M9.6 57.9l1.6 1.6" stroke="#1048ff" stroke-width="2.0" stroke-linecap="round" fill="none"/>
<path d="M13.1 62.2l3.1 -0.0" stroke="#1048ff" stroke-width="2.4" stroke-linecap="round" fill="none"/>
<path d="M14.6 61.5l1.3 1.5M26.9 68.4l2.2 0.3" stroke="#18c4f0" stroke-width="1.6" stroke-linecap="round" fill="none"/>
<path d="M14.5 61.3l1.7 2.1M12.7 61.8l2.6 -0.4M15.1 61.0l2.2 1.2" stroke="#18c4f0" stroke-width="2.0" stroke-linecap="round" fill="none"/>
<path d="M16.1 62.6l2.7 0.3M13.6 70.3l1.4 2.8M36.1 71.1l2.8 1.2" stroke="#18c4f0" stroke-width="2.4" stroke-linecap="round" fill="none"/>
<path d="M14.4 59.6l3.5 0.6M10.0 61.3l3.3 0.0" stroke="#18c4f0" stroke-width="2.8" stroke-linecap="round" fill="none"/>
</g>
<use href="#microl" transform="scale(0.9506)"/>
</g>
<g transform="translate(359.4,67.6) scale(0.9974,1.0052)">
<clipPath id="cpgas"><rect x="0" y="0" width="77" height="77"/></clipPath>
<rect x="0" y="0" width="77" height="77" fill="#0608dc"/>
<g clip-path="url(#cpgas)" filter="url(#soft)">
<path d="M48.2 32.0l1.6 -1.1M57.0 25.3l2.2 0.0M56.1 24.8l1.5 -1.4M58.2 22.9l1.7 -0.9M54.7 28.8l1.9 -0.1M74.0 17.3l1.3 -1.4M13.8 60.4l-2.1 -0.0M13.0 51.9l-0.7 2.0M16.2 56.6l-2.0 0.3M13.6 54.5l-1.5 1.4M12.0 59.7l-1.3 1.4M44.3 44.9l1.7 1.2M26.4 31.2l-1.8 -0.7M4.8 10.4l-0.6 1.8M7.2 64.0l0.9 1.9M64.5 63.1l0.9 1.7" stroke="#1048ff" stroke-width="1.6" stroke-linecap="round" fill="none"/>
<path d="M47.8 31.8l1.7 -1.5M59.2 24.1l2.2 -0.4M25.2 48.5l-1.4 2.2M31.3 44.2l-1.6 1.6M26.4 49.1l-1.3 2.2M20.7 55.5l-1.7 1.5M15.2 54.1l-0.8 2.4M10.7 62.1l-1.1 2.4M24.5 30.2l-0.6 -2.3M4.7 16.8l-0.4 2.5M5.8 16.6l-0.6 2.4M7.5 38.1l-0.1 2.6M6.4 32.9l-0.2 2.4" stroke="#1048ff" stroke-width="2.0" stroke-linecap="round" fill="none"/>
<path d="M48.3 29.8l0.9 -3.0M44.2 30.4l2.9 -0.8M63.4 18.4l2.7 -1.4M54.7 26.4l2.8 -0.6M65.4 21.0l2.7 0.1M71.8 17.1l1.6 -2.4M64.9 24.4l2.9 -0.7M23.6 46.5l-2.2 1.9M42.8 43.8l0.8 3.0M56.5 54.6l2.3 1.8M8.9 61.6l0.6 2.7" stroke="#1048ff" stroke-width="2.4" stroke-linecap="round" fill="none"/>
<path d="M55.6 27.8l3.6 -0.6M72.0 16.7l3.3 -0.0M63.1 24.4l3.2 0.3M25.3 48.4l-2.9 1.3M17.0 55.1l-1.6 3.1M17.5 56.5l-3.5 0.1M8.4 67.0l-3.4 0.5M45.2 44.4l2.6 2.3M2.9 10.1l1.4 3.2" stroke="#1048ff" stroke-width="2.8" stroke-linecap="round" fill="none"/>
<path d="M46.0 31.8l1.9 -0.5M46.2 32.5l0.5 -1.9M47.7 33.2l2.1 0.1M54.2 25.8l2.0 0.2M55.2 26.7l1.8 -0.8M61.5 19.9l1.9 -1.0M51.1 25.5l1.1 -1.9M53.8 28.1l1.2 -1.7M63.7 23.5l2.1 0.1M73.7 15.1l2.1 -0.6M75.6 16.0l1.8 -1.2M71.6 20.9l2.1 -0.5M71.3 15.2l1.9 -0.4M73.4 22.9l2.1 0.3M24.3 48.7l-1.8 0.5M29.9 47.4l-1.5 1.4M18.4 55.1l-2.1 0.3M16.3 57.6l-2.1 0.3M19.7 56.4l-0.4 1.9M14.7 60.9l-1.8 0.5M14.7 54.2l-1.5 1.3M17.3 56.0l-0.8 1.9M18.1 57.9l-0.7 2.0M14.8 54.3l-1.8 1.2M10.5 62.6l-1.4 1.7M11.0 60.5l-1.4 1.7M9.1 61.9l-0.9 1.7M46.6 45.2l0.4 2.0M55.7 55.5l1.7 1.0M57.9 53.4l1.1 1.7M56.8 56.4l2.1 -0.3M27.7 31.3l-1.9 -1.1M25.7 30.9l-1.0 -1.7M24.8 28.4l-2.0 -0.0M27.5 30.7l-2.1 0.1M2.0 12.6l0.5 2.1M2.7 11.4l-0.3 2.1M1.4 17.1l-0.4 2.0M7.4 39.4l0.0 2.1" stroke="#18c4f0" stroke-width="1.6" stroke-linecap="round" fill="none"/>
<path d="M49.9 32.0l0.8 -2.3M48.6 29.9l2.7 0.1M56.2 28.1l2.1 -1.0M52.7 27.5l2.4 -0.5M61.0 25.4l2.5 0.3M60.0 23.9l2.0 -1.0M72.6 16.2l1.9 -1.2M27.4 44.1l-1.0 2.4M26.4 51.1l-2.4 0.9M23.0 49.6l-2.4 0.4M29.8 44.6l-1.8 2.0M28.4 46.7l-2.6 0.2M28.4 45.5l-1.2 2.1M22.4 47.6l-1.7 1.9M19.2 58.1l-2.2 1.2M19.0 57.8l-1.9 1.2M17.5 56.5l-1.6 1.8M13.7 58.5l-2.4 1.0M17.2 54.4l-2.2 1.4M12.9 60.6l-2.0 1.2M10.3 60.6l-1.9 1.7M11.8 61.5l-2.1 1.0M11.1 62.5l-1.7 2.0M46.2 44.6l0.4 2.2M43.1 41.9l1.3 2.1M42.4 45.0l2.2 0.8M42.7 46.6l2.6 0.1M58.2 55.7l1.8 1.9M5.2 10.0l-0.5 2.2M5.0 32.8l1.7 1.9M4.1 31.5l1.7 2.0M6.8 33.6l0.2 2.3M6.0 36.6l1.9 1.7M7.7 64.2l1.5 1.8M8.1 61.0l2.1 1.4M64.9 63.5l2.3 1.1" stroke="#18c4f0" stroke-width="2.0" stroke-linecap="round" fill="none"/>
<path d="M50.8 29.4l2.6 -1.2M47.1 32.1l3.0 -0.1M47.1 33.5l2.3 -2.0M48.0 30.8l3.1 -0.6M47.1 33.1l2.1 -2.3M53.2 28.3l2.6 -1.4M63.5 27.1l1.8 -2.0M64.8 25.6l2.1 -1.9M58.9 25.5l3.2 -0.1M52.2 26.4l3.0 -0.9M60.3 19.6l2.7 -0.2M53.0 29.6l2.4 -1.9M54.0 26.5l2.5 -1.6M52.9 26.1l2.1 -1.7M73.8 16.9l2.7 -1.5M73.0 18.9l1.2 -2.8M66.1 22.7l2.6 -0.8M74.8 22.0l2.7 0.1M26.9 51.6l-2.8 -0.0M26.0 49.9l-1.8 2.3M24.1 49.3l-3.0 0.5M16.2 58.6l-2.4 1.4M16.5 50.3l-3.0 -0.0M16.2 54.1l-1.0 2.5M18.2 57.2l-2.2 1.9M16.0 52.3l-2.5 1.6M19.2 58.5l-3.0 0.1M17.1 56.8l-2.8 0.5M16.2 49.6l-0.6 2.7M6.5 66.3l-2.7 1.4M11.0 62.2l-1.3 2.8M10.2 61.3l-1.2 2.7M48.4 48.1l1.9 2.0M49.5 48.7l2.3 1.4M60.5 56.0l1.5 2.3M26.2 33.8l-0.7 -2.9M2.9 8.3l-0.4 2.7M1.8 11.6l1.5 2.7M2.1 11.1l0.4 2.8M4.5 11.3l-1.0 2.6M3.1 25.4l1.6 2.4M5.0 31.6l1.9 2.0M5.3 36.2l2.0 2.2M8.6 61.6l2.5 1.4M9.5 64.2l-0.2 2.8M62.5 59.4l0.5 3.1M64.8 62.5l1.0 2.9" stroke="#18c4f0" stroke-width="2.4" stroke-linecap="round" fill="none"/>
<path d="M45.8 31.7l2.4 -2.3M54.3 29.6l0.8 -3.2M45.6 32.5l2.1 -2.8M46.2 32.2l1.4 -3.3M54.1 25.4l2.2 -2.5M58.7 22.2l3.0 -1.6M56.4 25.9l3.3 -1.1M60.3 26.9l3.4 -0.4M74.3 17.5l1.7 -3.0M64.2 23.6l3.2 -0.3M64.2 25.4l3.1 -0.7M70.9 21.9l3.2 0.8M24.5 46.7l-1.7 2.9M29.5 45.1l-3.3 0.4M25.0 48.9l-3.1 1.6M25.4 51.0l-3.1 1.3M19.1 57.8l-3.3 0.5M15.5 53.2l-2.9 1.7M11.2 57.3l-3.2 0.1M17.8 56.4l-3.6 0.2M11.6 59.1l-3.3 0.7M13.5 61.9l-3.3 0.9M45.7 45.4l2.1 2.5M41.3 43.8l3.5 1.0M57.0 54.6l3.0 1.7M24.9 30.1l-0.8 -3.5M23.1 28.9l-1.2 -3.2M4.7 9.1l-0.9 3.5M4.1 10.8l-1.2 3.0M1.6 10.2l1.8 3.1M3.8 15.7l0.6 3.4M3.9 17.3l-1.6 2.8M1.9 9.6l0.9 3.1M5.5 32.6l0.7 3.4M10.8 66.6l2.8 2.1M64.9 61.0l0.2 3.4" stroke="#18c4f0" stroke-width="2.8" stroke-linecap="round" fill="none"/>
<path d="M58.5 23.4l2.5 -2.7M54.5 26.8l2.3 -2.9M54.4 27.3l3.6 -1.1M53.1 26.5l3.3 -2.0M55.2 29.2l3.7 0.5M54.5 27.1l3.9 -0.2M59.6 26.8l2.1 -3.2M73.2 17.8l2.7 -2.6M69.6 17.7l3.7 0.4M72.5 19.2l2.2 -3.0M72.9 13.8l3.7 -0.0M73.3 16.7l3.9 -0.4M69.2 22.7l3.3 -1.7M73.4 23.4l2.5 -2.9M25.7 51.5l-3.1 2.0M15.0 51.9l-1.1 3.6M18.7 56.7l-3.3 1.9M12.4 59.2l-3.7 0.2M8.2 59.4l-0.8 3.7M10.6 60.9l-0.9 3.7M43.9 43.5l2.7 2.6M25.1 30.8l-2.6 -2.6M26.9 33.3l-2.3 -2.9M1.9 8.2l-2.0 3.1M10.8 62.0l-0.5 3.8M7.6 61.5l-0.5 3.8" stroke="#18c4f0" stroke-width="3.2" stroke-linecap="round" fill="none"/>
<path d="M3.1 16.5l0.2 1.7" stroke="#20e0a0" stroke-width="1.2" stroke-linecap="round" fill="none"/>
<path d="M48.5 34.2l1.0 -1.8M48.1 33.8l1.0 -1.9M48.1 32.9l0.9 -1.6M57.3 26.4l2.1 0.3M53.6 26.8l1.1 -1.4M61.1 21.8l1.6 -1.4M56.6 27.0l1.7 -0.2M61.2 27.7l1.8 0.2M53.3 24.8l1.9 0.0M72.3 14.5l1.9 -1.1M73.8 17.3l1.7 -0.5M64.6 23.6l1.8 -0.7M28.4 46.0l-0.6 1.7M16.8 56.5l-1.6 1.2M18.5 52.8l-0.9 1.6M6.8 67.5l-0.3 2.1M42.4 44.6l1.9 0.6M58.9 56.7l2.0 -0.3M59.4 56.7l1.9 0.1M28.3 32.4l-1.9 -0.7M24.8 29.3l-1.9 -0.6M5.4 25.2l0.9 1.9M7.5 61.5l-0.1 2.0" stroke="#20e0a0" stroke-width="1.6" stroke-linecap="round" fill="none"/>
<path d="M49.1 32.0l1.2 -1.9M46.9 32.1l2.2 -0.2M58.6 24.7l2.2 0.5M56.9 24.8l2.1 -0.8M52.4 28.4l2.6 -0.1M65.1 22.0l2.1 -1.1M61.1 24.4l1.6 -1.6M74.0 17.7l1.0 -2.4M72.9 16.3l1.3 -1.8M64.7 23.9l2.2 0.9M24.6 48.6l-1.7 1.9M29.8 46.8l-2.2 1.0M25.6 50.6l-2.3 1.0M26.0 51.0l-2.4 0.6M24.8 51.3l-2.1 0.9M24.4 47.0l-1.8 1.7M10.9 57.9l-1.4 2.2M13.0 59.2l-1.6 1.6M17.0 57.4l-1.0 2.3M18.0 55.7l-1.3 1.8M15.4 53.4l-2.3 0.9M14.9 53.0l-1.7 2.0M13.0 60.8l-1.5 2.1M10.8 61.9l-2.5 0.8M11.7 61.9l-2.3 0.6M48.8 48.8l1.9 1.4M47.8 48.3l0.7 2.1M42.8 44.9l2.5 0.8M25.9 32.5l-1.6 -2.1M4.4 11.7l1.5 1.9M3.4 10.4l-0.9 2.4M2.0 16.9l0.8 2.5M4.1 14.3l0.8 2.4M5.9 34.2l-0.5 2.3" stroke="#20e0a0" stroke-width="2.0" stroke-linecap="round" fill="none"/>
<path d="M46.4 30.8l2.6 -1.4M47.1 32.7l1.9 -2.0M54.6 27.8l2.5 -1.9M56.0 24.9l2.3 -1.7M63.4 24.5l1.2 -2.5M55.7 26.1l2.7 -1.0M70.0 18.7l3.0 0.2M71.4 21.0l2.2 -2.1M64.0 24.1l3.1 0.1M65.0 24.2l2.5 -1.8M23.5 48.6l-1.1 2.7M17.4 53.4l-1.8 2.1M18.8 57.1l-2.8 1.4M16.7 54.1l-2.6 1.7M20.8 56.7l-2.0 2.4M14.2 54.8l-0.8 2.7M19.3 58.6l-1.8 2.3M9.6 63.2l-2.7 1.4M11.1 61.3l-2.2 2.0M44.7 44.5l1.9 2.3M56.6 55.1l2.7 -0.3M26.6 31.1l-1.9 -2.3M1.0 12.6l1.3 2.9M2.2 16.7l1.1 2.6M7.8 34.6l-0.7 2.9M5.6 36.3l2.0 2.1M9.1 61.1l1.1 2.9M11.7 66.8l1.8 2.1" stroke="#20e0a0" stroke-width="2.4" stroke-linecap="round" fill="none"/>
<path d="M47.4 31.6l1.3 -0.8M73.8 17.2l0.6 -1.5M75.5 15.0l0.5 -1.5M74.1 17.9l1.1 -1.2M32.0 43.0l-0.9 1.3M15.2 60.8l-1.0 1.3M16.8 52.9l-1.1 1.1M14.4 59.9l-0.9 1.3M3.3 11.0l1.0 1.4M2.7 17.4l0.6 1.6M2.1 10.8l-0.5 1.6M6.1 38.0l1.1 1.1M9.5 62.7l0.6 1.4M12.9 67.5l1.3 1.1M11.1 68.4l1.4 0.6" stroke="#3ce040" stroke-width="1.2" stroke-linecap="round" fill="none"/>
<path d="M46.2 32.3l1.9 0.1M47.1 32.8l2.0 -0.4M58.9 25.0l1.4 -1.5M55.6 26.9l1.8 0.3M65.0 20.5l1.5 -1.0M53.0 29.1l1.3 -1.6M59.8 26.6l2.1 -0.1M52.6 28.4l1.1 -1.7M57.3 26.1l1.8 -0.8M66.0 21.5l2.1 -0.2M59.2 24.4l1.0 -1.7M57.4 24.2l2.0 0.3M55.2 25.9l1.5 -1.2M74.7 14.3l1.8 -1.1M73.6 19.5l1.2 -1.8M74.3 21.8l1.7 -0.3M24.8 48.6l-2.0 0.8M25.8 49.8l-1.7 0.7M24.2 47.6l-1.3 1.3M23.7 48.6l-1.9 0.7M25.3 49.6l-1.5 1.0M16.2 57.4l-1.0 1.6M18.2 57.0l-1.9 0.1M18.4 57.0l-1.5 1.5M16.8 56.6l-1.7 1.0M17.9 56.0l-1.0 1.5M19.5 58.3l-1.9 0.7M16.0 54.5l-1.2 1.2M13.2 60.9l-1.7 1.3M13.2 62.2l-1.7 0.7M11.8 61.7l-1.3 1.8M48.5 48.3l1.1 1.6M49.5 48.6l0.7 1.9M45.8 46.7l1.0 1.5M55.7 55.5l2.1 0.6M59.1 55.8l1.3 1.8M28.0 32.3l-1.9 -1.0M26.2 30.1l-1.8 0.0M1.9 10.4l0.6 1.8M2.5 10.6l0.5 1.9M4.1 11.7l0.4 1.8M10.0 62.6l-0.2 1.9" stroke="#3ce040" stroke-width="1.6" stroke-linecap="round" fill="none"/>
<path d="M53.9 28.7l0.9 -2.1M45.2 32.2l1.0 -2.3M51.9 27.3l2.7 -0.3M47.1 32.7l1.6 -1.7M46.5 32.2l2.3 0.1M54.9 27.3l2.5 -0.1M53.0 26.6l2.7 -0.2M54.9 28.1l2.3 -0.4M62.6 24.6l1.2 -2.2M56.3 25.6l2.6 -0.6M72.6 17.5l1.9 -1.1M74.0 21.0l2.3 0.7M65.3 24.2l2.4 1.0M68.7 23.4l2.4 -0.6M25.0 50.7l-2.6 0.4M25.2 48.8l-1.5 2.2M32.6 45.6l-0.5 2.3M15.0 55.7l-0.5 2.3M18.2 54.1l-1.7 1.8M16.1 55.8l-2.3 1.0M16.8 57.0l-2.4 0.5M17.3 54.4l-1.5 2.0M12.4 57.8l-1.0 2.3M20.5 57.0l-1.8 1.3M11.0 60.7l-1.7 1.9M4.7 64.8l-1.4 1.9M7.4 63.3l-2.3 1.1M10.5 62.3l-0.2 2.4M43.5 41.7l1.0 2.0M56.9 55.8l2.4 0.8M26.3 31.4l-1.9 -1.1M26.3 32.1l-0.6 -2.1M24.4 30.7l-1.8 -1.9M5.1 13.1l-1.1 2.1M1.0 11.9l1.4 1.7M4.1 24.5l1.0 2.3M5.1 33.0l1.5 1.6M5.2 32.8l0.7 2.3" stroke="#3ce040" stroke-width="2.0" stroke-linecap="round" fill="none"/>
<path d="M55.0 26.1l1.6 -2.2M57.0 26.4l2.3 -1.5M74.9 15.0l0.8 -2.6M29.1 46.5l-1.5 2.3M44.1 46.9l2.7 0.2M42.9 43.5l1.5 2.3M2.9 16.5l1.9 2.1M5.3 30.5l-0.6 2.7" stroke="#3ce040" stroke-width="2.4" stroke-linecap="round" fill="none"/>
<path d="M74.9 13.5l0.4 -0.9M65.4 24.2l0.8 -0.6M31.8 45.7l-0.3 1.0M44.3 45.4l0.8 0.6M56.7 54.6l0.9 0.4M22.9 30.0l-1.1 -0.2M1.6 16.0l0.2 1.1M0.6 10.9l0.1 1.0M5.3 27.9l-0.5 0.8" stroke="#0608dc" stroke-width="0.8" stroke-linecap="round" fill="none"/>
<path d="M46.7 33.3l0.4 -1.2M47.9 31.5l1.3 -0.9M53.3 29.8l0.8 -1.5M62.7 24.8l0.8 -1.1M59.4 23.1l0.5 -1.2M55.1 26.8l0.8 -1.4M56.6 25.0l1.5 0.1M58.8 23.2l1.5 -0.8M55.1 28.7l0.7 -1.5M56.3 25.7l1.3 -0.6M72.7 15.8l1.3 0.1M74.9 23.2l0.9 -1.0M31.8 46.7l-1.1 1.0M24.5 49.8l-1.6 0.3M27.2 44.4l-1.4 0.3M15.1 52.8l-0.7 1.1M19.3 55.7l-1.3 0.8M18.2 59.4l-0.8 1.1M13.1 53.5l-1.2 0.2M18.2 58.9l-0.9 1.4M13.6 61.7l-0.7 1.0M16.6 56.8l-0.6 1.4M16.1 55.9l-1.4 0.7M10.5 61.2l-0.9 1.4M9.6 59.2l-0.5 1.1M42.3 44.7l1.2 1.1M42.0 43.7l0.4 1.4M26.2 29.8l-1.6 -0.3M1.4 12.6l0.6 1.4M8.9 65.0l1.0 1.1" stroke="#0608dc" stroke-width="1.2" stroke-linecap="round" fill="none"/>
<path d="M47.2 32.8l1.1 -1.6M54.2 27.2l1.8 0.1M61.4 20.8l0.9 -1.6M73.5 16.6l0.9 -1.7M28.9 48.4l-0.6 1.8M9.3 60.6l-1.6 1.3M4.6 9.9l0.6 1.7M7.5 37.1l-0.9 1.6M9.5 62.7l-0.1 1.9" stroke="#0608dc" stroke-width="1.6" stroke-linecap="round" fill="none"/>
<path d="M47.6 34.0l0.6 -1.0M47.6 33.6l0.8 -0.7M55.1 28.0l0.5 -0.8M75.4 14.8l1.2 -0.2M72.3 17.0l1.2 0.0M64.5 25.1l0.7 -0.8M24.3 50.8l-1.2 0.1M29.2 45.2l-1.2 -0.0M22.9 29.2l-0.7 -0.8M0.8 14.6l0.8 0.9" stroke="#18c4f0" stroke-width="0.8" stroke-linecap="round" fill="none"/>
<path d="M55.3 27.1l1.4 -0.9M62.8 20.6l1.2 -1.1M61.4 23.0l1.3 0.1M63.1 19.9l1.1 -0.5M74.1 13.0l1.2 -0.7M30.1 48.7l-1.6 0.4M15.3 63.1l-1.2 0.4M18.7 54.0l-0.6 1.1M11.7 58.0l-1.2 0.8M16.5 53.6l-0.4 1.5M12.9 58.1l-1.4 0.8M8.2 61.4l-0.8 1.1M9.4 61.6l-1.0 1.2M42.7 45.7l1.6 0.2M45.8 46.7l1.2 0.4M25.0 28.2l-1.4 -0.4M1.6 11.3l0.5 1.5M4.7 17.2l0.7 1.3M5.7 31.8l0.5 1.4M9.8 63.8l0.1 1.4" stroke="#18c4f0" stroke-width="1.2" stroke-linecap="round" fill="none"/>
<path d="M46.7 30.6l1.7 -0.3M62.9 23.0l0.8 -1.6M57.9 21.8l1.8 -0.2M65.0 24.1l1.3 -1.2M24.0 46.9l-0.7 1.7M15.7 58.1l-1.8 0.1M16.7 56.9l-1.8 0.0M10.5 60.3l-1.2 1.3M58.5 54.6l1.2 1.2M7.7 37.7l0.4 1.7" stroke="#18c4f0" stroke-width="1.6" stroke-linecap="round" fill="none"/>
<path d="M47.0 32.1l1.1 -0.1M55.3 26.4l1.2 0.2M65.4 22.5l1.2 0.1" stroke="#b0f020" stroke-width="0.8" stroke-linecap="round" fill="none"/>
<path d="M55.3 28.8l1.3 -0.6M55.9 28.8l1.0 -1.1M62.3 21.7l1.4 0.0M54.0 25.8l1.5 -0.8M71.3 16.4l1.3 -1.0M23.3 50.9l-0.8 1.0M24.5 50.1l-0.8 1.0M17.7 53.5l-0.6 1.1M18.6 56.9l-1.5 0.7M13.0 57.4l-1.2 0.4M10.0 62.5l-1.0 1.2M46.4 46.9l1.3 0.8M46.3 47.4l1.6 0.5" stroke="#b0f020" stroke-width="1.2" stroke-linecap="round" fill="none"/>
<path d="M45.9 32.9l1.8 -0.3M72.1 17.3l0.6 -1.7M24.8 49.4l-1.2 1.5M14.2 56.2l-1.0 1.7M17.7 54.2l-2.0 0.1M9.4 63.0l-0.3 1.8" stroke="#b0f020" stroke-width="1.6" stroke-linecap="round" fill="none"/>
<path d="M54.6 27.3l1.2 -0.1M24.9 50.2l-0.9 0.5M48.9 49.4l0.9 0.7" stroke="#f8e020" stroke-width="0.8" stroke-linecap="round" fill="none"/>
<path d="M46.6 32.4l1.2 -0.6M46.8 33.0l0.8 -1.3M55.1 24.6l1.6 -0.1M56.2 25.5l1.3 0.1M63.2 21.7l1.3 -0.8M75.8 14.0l1.1 -1.0M24.6 50.7l-1.6 0.3M18.8 55.6l-0.4 1.6M16.7 57.1l-1.4 0.3M15.0 55.3l-1.1 1.1M16.9 56.3l-0.8 1.4M9.9 60.5l-1.5 0.7" stroke="#f8e020" stroke-width="1.2" stroke-linecap="round" fill="none"/>
<path d="M48.7 30.5l1.0 -0.5M51.8 30.6l0.7 -0.6M53.6 25.8l0.7 -0.7M74.6 16.9l0.8 -0.6M17.2 56.3l-0.5 0.9M17.4 56.4l-0.7 0.6M15.7 55.9l-1.0 0.6M15.5 57.9l-0.6 0.8M10.4 61.1l-0.3 0.9M45.5 46.8l1.0 0.5" stroke="#3ce040" stroke-width="0.8" stroke-linecap="round" fill="none"/>
<path d="M55.4 27.6l0.6 -1.1M54.7 26.3l1.5 -0.0M56.1 26.1l1.1 -0.6M57.5 22.7l0.8 -1.0M54.0 25.5l1.4 -0.2M71.2 17.6l1.3 -0.4M30.1 46.0l-0.6 1.1M28.8 48.3l-1.4 0.2M27.8 45.6l-0.4 1.4M18.6 53.8l-0.7 1.1M6.2 66.5l-0.2 1.5M43.7 43.2l1.3 0.4" stroke="#3ce040" stroke-width="1.2" stroke-linecap="round" fill="none"/>
<path d="M59.7 24.2l0.5 -0.9M28.0 45.9l-1.0 0.7" stroke="#ff8a10" stroke-width="0.8" stroke-linecap="round" fill="none"/>
<path d="M59.0 26.1l1.0 -0.8M63.4 21.8l0.8 -1.0M25.7 48.8l-1.1 0.8" stroke="#ff8a10" stroke-width="1.2" stroke-linecap="round" fill="none"/>
<path d="M63.5 22.1l0.6 -1.0M55.7 26.1l0.7 -0.2M23.4 49.9l-0.3 1.0" stroke="#f01818" stroke-width="0.8" stroke-linecap="round" fill="none"/>
<path d="M55.5 26.7l1.0 -0.7" stroke="#f01818" stroke-width="1.2" stroke-linecap="round" fill="none"/>
</g>
<use href="#microl" transform="scale(0.9506)"/>
<circle cx="36.9" cy="39.4" r="5.5" fill="#fff"/>
</g>
<g transform="translate(441.2,67.6) scale(1.0052,1.0052)">
<clipPath id="cplof"><rect x="0" y="0" width="77" height="77"/></clipPath>
<rect x="0" y="0" width="77" height="77" fill="#0608dc"/>
<g clip-path="url(#cplof)" filter="url(#soft)">
<path d="M3.1 4.3l-1.1 1.8M2.0 6.0l-0.6 2.1M9.3 22.6l0.5 1.9M3.5 42.9l1.0 1.8M6.3 39.0l1.0 1.7M4.2 36.7l1.0 1.7M15.2 21.3l1.3 1.5M17.4 25.3l0.1 2.1M24.3 39.7l1.1 1.5M25.0 42.3l1.0 1.8M19.6 36.9l1.4 1.5M27.1 38.5l1.4 1.5M20.1 51.8l-1.4 1.4M19.5 50.7l-0.2 1.9M25.8 49.0l-1.5 1.4M11.5 58.0l-0.8 1.9M19.1 59.7l-0.7 2.0M9.3 60.9l-1.9 0.8M15.5 62.8l-1.0 1.6M12.1 59.6l-0.8 1.8M14.1 60.3l-0.1 2.0M52.6 43.2l0.8 -1.8M48.2 39.0l2.0 -0.7M48.0 42.9l0.9 -1.9M64.3 17.3l0.5 -2.0M62.0 33.6l0.9 -1.8M58.5 30.9l1.7 -0.9M56.9 24.0l1.9 -0.3M55.8 33.0l1.8 -1.1M63.2 24.0l0.4 -2.1M63.8 26.8l1.8 -0.9M62.2 29.2l1.3 -1.6M71.5 12.4l0.1 -1.9M76.9 19.6l0.7 -1.8M61.0 54.4l1.1 1.7M58.3 50.8l2.1 0.1M75.3 45.7l1.4 1.4M77.3 50.3l-0.6 1.8M59.5 16.7l0.9 -1.8" stroke="#1048ff" stroke-width="1.6" stroke-linecap="round" fill="none"/>
<path d="M7.0 22.4l-0.4 2.2M4.2 14.8l0.8 2.4M4.5 23.7l0.2 2.3M4.3 30.4l-0.8 2.4M9.0 30.6l-0.1 2.2M8.0 25.1l1.3 1.8M8.3 41.2l0.3 2.3M11.5 36.1l1.8 1.9M29.0 39.0l0.4 2.5M15.9 35.5l1.9 1.1M15.3 30.0l2.1 1.3M23.1 35.6l1.8 1.4M14.8 33.6l2.1 1.0M19.7 35.0l1.1 2.4M16.9 26.2l0.6 2.3M23.9 30.6l2.2 0.9M26.1 33.5l1.3 1.9M23.4 41.6l2.1 1.1M18.5 50.2l-1.7 1.6M17.8 50.7l-0.4 2.6M18.6 50.0l-0.9 2.5M28.5 42.5l-1.4 2.1M24.6 53.3l-2.0 1.7M18.1 50.5l-2.5 0.5M24.8 52.6l-2.1 0.9M15.2 55.8l-0.8 2.1M16.0 62.7l-0.9 2.1M17.3 60.9l-1.1 1.9M18.0 55.6l-0.9 2.3M9.9 54.2l-2.0 1.1M10.4 54.4l-0.5 2.4M17.6 63.8l-1.3 1.9M52.1 34.3l1.9 -1.4M47.6 35.2l2.2 -1.5M53.9 41.4l2.2 -0.6M51.5 40.7l0.8 -2.3M68.9 34.8l1.6 -1.6M64.8 30.4l1.0 -2.4M60.9 26.1l2.2 -0.7M55.2 28.7l0.1 -2.4M60.2 34.2l2.2 -0.5M52.7 30.3l2.2 -1.4M70.8 23.9l1.2 -1.9M75.8 18.2l2.4 -0.7M75.0 16.1l2.3 -0.5M76.3 19.3l2.2 -0.6M62.7 56.0l2.5 -0.1M48.6 52.0l2.6 0.3M59.9 54.1l1.8 1.7M56.8 55.4l2.6 -0.1M73.9 47.1l-0.3 2.3M76.0 47.1l2.2 1.3M73.2 45.7l1.1 2.4M76.5 50.8l1.8 1.6M15.7 69.5l2.3 1.0M62.8 14.8l2.0 -1.2" stroke="#1048ff" stroke-width="2.0" stroke-linecap="round" fill="none"/>
<path d="M2.8 12.9l1.9 2.2M4.2 15.4l1.4 2.3M2.9 4.9l1.1 2.5M9.1 29.0l-1.1 2.9M9.7 33.8l0.2 2.8M7.6 27.7l0.9 2.8M13.1 23.7l0.1 3.0M12.2 25.1l1.6 2.7M19.1 31.1l0.5 2.9M12.4 25.2l2.0 1.9M25.8 41.3l-2.8 0.9M21.1 48.5l-1.7 2.5M23.8 46.6l-2.7 0.8M20.7 46.5l-1.3 2.4M21.1 61.4l-2.6 1.3M8.4 58.0l-1.8 2.0M10.2 55.7l-1.8 2.3M51.0 38.3l2.9 -0.9M51.4 44.6l1.2 -2.6M56.9 36.6l2.0 -1.8M46.3 46.1l0.2 -2.8M54.1 31.9l1.2 -2.8M56.4 37.3l2.8 -1.2M54.3 34.0l2.2 -2.1M45.6 45.1l3.1 -0.7M65.8 33.7l1.1 -2.6M63.3 31.0l2.5 -1.3M61.2 31.9l0.4 -2.8M56.0 25.8l2.1 -1.8M71.9 13.3l2.3 -1.3M68.4 15.3l2.0 -1.9M71.0 18.4l0.4 -3.1M74.7 24.5l1.7 -2.2M70.6 20.4l0.2 -2.9M73.0 20.5l1.4 -2.6M49.7 47.5l2.9 0.5M58.7 55.8l2.1 2.1M61.2 55.3l2.1 1.8M73.7 46.5l0.6 3.1M73.2 47.3l1.6 2.3M11.4 66.2l2.1 1.7" stroke="#1048ff" stroke-width="2.4" stroke-linecap="round" fill="none"/>
<path d="M3.9 4.7l1.1 3.1M7.4 22.5l2.2 2.4M9.5 42.4l-1.1 3.5M6.2 30.6l-1.1 3.2M18.8 35.2l3.0 2.1M25.9 32.0l0.2 3.4M20.5 34.7l3.0 1.9M26.5 47.7l-1.5 2.9M26.2 40.9l-0.3 3.6M22.0 49.2l-3.0 1.3M9.2 56.4l-1.9 3.0M21.2 55.9l-2.1 2.6M11.2 60.3l-2.2 2.8M10.9 57.7l-0.1 3.2M13.5 57.2l-1.6 3.1M48.2 40.2l2.9 -2.1M48.3 38.8l2.4 -2.3M45.9 46.3l3.3 -0.5M55.5 34.2l1.6 -2.9M55.1 33.2l0.4 -3.5M44.1 45.0l2.3 -2.8M58.5 28.1l1.8 -2.8M57.3 26.0l3.2 -1.8M58.8 17.7l2.2 -2.4M58.4 33.3l2.4 -2.6M61.3 34.2l2.4 -2.2M58.4 35.5l0.3 -3.6M68.1 17.6l0.6 -3.4M73.9 17.4l2.2 -2.4M69.9 16.6l3.1 -1.2M74.2 17.5l0.6 -3.2M70.3 14.6l2.5 -2.1M61.8 56.5l2.9 1.5M58.0 50.7l2.8 2.1M77.0 46.9l0.1 3.5M62.6 12.0l3.2 0.0M61.2 13.3l3.3 -0.5" stroke="#1048ff" stroke-width="2.8" stroke-linecap="round" fill="none"/>
<path d="M2.4 11.3l0.1 3.7M2.1 5.3l1.1 3.5M18.7 25.1l2.9 2.3M58.7 36.2l1.8 -3.3M74.4 28.4l0.9 -3.6M66.1 34.6l1.9 -3.1M62.8 55.8l3.5 1.0M16.0 69.3l2.7 2.6" stroke="#1048ff" stroke-width="3.2" stroke-linecap="round" fill="none"/>
<path d="M5.6 9.5l1.5 1.6M2.8 14.3l0.4 2.1M7.5 24.2l1.3 1.3M6.0 15.1l0.8 1.8M2.9 17.8l-0.9 1.9M4.9 23.4l-0.6 1.9M10.2 36.3l1.0 1.8M5.4 27.9l-0.4 1.9M8.5 42.1l-0.1 2.0M5.3 31.2l1.5 1.4M13.4 31.7l0.2 2.0M16.0 29.9l1.9 0.6M18.9 28.4l0.8 1.8M15.6 30.5l1.7 1.2M15.4 25.9l0.6 1.8M21.5 37.0l0.6 1.9M25.2 41.2l1.9 0.6M17.7 27.7l2.0 0.7M24.6 41.7l0.9 1.7M23.4 31.3l0.5 1.8M17.7 24.3l0.1 1.9M19.1 30.4l1.9 0.5M25.5 32.9l-0.0 2.2M21.5 51.0l-2.0 0.6M26.0 42.0l-1.8 1.1M20.5 47.8l-1.8 0.9M25.5 49.0l-2.0 0.8M22.9 55.9l-0.0 2.0M25.6 42.1l-0.2 2.0M28.0 48.6l-0.1 2.2M27.2 50.9l-1.2 1.6M30.5 45.7l-1.6 1.1M24.0 38.4l-1.8 1.0M26.5 48.9l-1.6 1.1M18.2 62.7l-0.7 1.8M12.9 59.8l-1.4 1.5M12.5 61.3l-0.2 2.1M14.8 60.3l-1.7 1.1M12.9 59.8l-1.6 1.1M13.2 60.4l-0.0 2.1M17.8 62.2l-0.5 1.9M14.7 61.5l-1.3 1.4M11.0 58.2l-2.0 0.4M14.6 53.3l-1.5 1.2M14.1 62.6l-1.3 1.8M14.2 61.0l-1.9 0.5M11.4 58.4l-1.9 0.6M13.7 56.9l-1.6 1.4M56.2 37.7l1.7 -0.9M48.0 45.6l1.1 -1.7M55.5 36.0l1.9 -0.9M48.4 38.0l1.6 -1.4M52.3 33.3l1.7 -0.9M53.6 37.0l1.4 -1.7M45.8 43.3l1.1 -1.7M52.4 39.0l1.7 -1.4M53.0 34.4l1.8 -0.4M50.6 49.0l1.3 -1.4M49.0 45.8l1.8 -0.8M48.6 36.7l1.0 -1.6M47.5 46.6l1.8 -1.2M55.7 46.0l0.4 -2.1M53.6 43.1l0.6 -1.8M53.1 34.7l0.5 -2.0M55.1 41.5l0.9 -1.9M67.3 22.8l1.0 -1.6M62.8 28.1l1.0 -1.9M59.7 28.3l1.5 -1.3M59.0 26.9l1.6 -1.2M55.5 24.7l2.0 -0.5M62.8 28.2l1.2 -1.7M57.4 25.4l1.5 -1.3M69.5 23.6l1.2 -1.7M57.1 27.6l1.6 -1.1M60.6 29.0l1.9 -0.6M66.8 19.2l1.8 -1.3M61.3 36.4l2.0 -0.4M57.8 32.4l1.6 -1.1M58.2 33.8l1.1 -1.8M55.9 31.6l0.6 -2.1M50.8 27.5l1.5 -1.6M71.8 23.3l1.1 -1.9M73.3 19.4l0.0 -2.0M67.2 16.0l1.7 -1.0M69.7 16.7l1.8 -1.1M71.8 11.5l2.1 -0.5M72.0 17.4l1.2 -1.5M60.5 56.0l2.1 0.0M61.2 54.5l2.0 0.4M60.5 53.7l1.0 1.8M51.7 51.2l1.0 1.8M62.8 54.5l0.7 1.9M60.7 55.3l1.8 0.6M47.8 48.5l1.9 0.7M62.0 57.6l1.9 0.4M72.3 45.4l0.6 2.1M74.6 48.4l1.6 1.4M73.7 47.9l-0.1 1.9M74.0 48.9l1.1 1.5M71.5 30.3l0.5 1.9M9.8 68.1l2.0 0.6M64.2 13.3l1.8 -0.9M61.7 14.7l2.0 -0.4" stroke="#18c4f0" stroke-width="1.6" stroke-linecap="round" fill="none"/>
<path d="M8.6 22.9l0.2 2.2M2.0 4.2l-1.0 2.4M7.7 14.2l0.1 2.6M1.2 8.6l0.9 2.3M1.3 22.5l1.6 1.6M4.8 22.2l1.5 2.0M4.1 14.6l0.1 2.3M2.6 13.7l-1.3 2.2M4.6 15.6l-0.5 2.6M6.8 29.6l-0.6 2.2M4.2 33.1l-1.4 2.1M9.8 43.2l-1.0 2.3M5.2 43.8l1.1 2.3M10.2 33.7l-0.6 2.3M11.6 42.0l0.8 2.5M8.6 39.5l1.4 1.7M8.3 45.0l-0.8 2.3M5.8 29.3l-0.6 2.4M9.0 40.8l0.8 2.4M6.6 42.7l0.4 2.4M7.4 45.5l0.9 2.4M9.9 39.5l0.5 2.5M6.6 38.3l-0.9 2.3M5.6 29.3l0.7 2.6M6.8 26.6l1.2 1.9M25.6 42.2l1.9 1.4M21.9 35.0l-0.1 2.5M26.3 33.9l1.1 2.4M20.8 29.0l1.7 1.9M24.2 34.1l0.1 2.3M23.4 24.5l1.2 1.9M25.2 40.3l1.1 2.4M21.2 26.1l1.1 2.3M19.8 38.8l2.2 1.4M28.2 39.8l1.3 1.9M11.9 29.6l0.8 2.3M13.0 27.2l1.8 1.8M18.2 31.5l0.4 2.2M16.9 29.3l0.4 2.2M16.8 31.4l-0.1 2.3M22.3 27.8l2.4 0.8M13.0 27.0l2.3 0.6M19.5 40.1l2.1 1.6M21.4 36.7l2.3 0.9M28.3 46.2l-2.1 0.9M24.2 51.4l-2.2 1.6M25.3 42.5l-2.4 1.0M27.5 43.6l-2.3 1.4M29.6 49.1l-2.3 0.8M26.6 40.0l-0.9 2.5M17.6 47.6l-2.5 0.7M27.1 48.3l-2.5 0.9M29.5 43.3l-1.9 1.2M19.9 51.0l-1.6 1.9M15.0 61.8l-2.5 0.7M11.0 58.2l-1.2 2.3M16.5 53.1l-0.6 2.1M13.9 59.9l-2.0 1.8M12.6 58.0l-2.4 0.5M13.8 63.8l-2.1 1.0M10.0 59.0l-2.1 0.7M12.7 57.8l-0.9 2.2M12.2 59.9l-1.0 2.1M12.3 60.4l-2.3 0.7M17.5 61.2l-1.0 2.1M11.8 57.8l-1.9 1.4M18.1 62.6l-0.9 2.1M19.8 61.0l-2.4 0.8M11.7 57.8l-0.3 2.6M14.2 58.5l-1.2 2.1M19.7 61.5l-1.6 1.7M13.2 59.3l-0.3 2.5M11.4 57.5l-1.8 1.7M10.6 60.8l-1.9 1.5M56.0 32.5l2.3 -0.3M43.7 42.0l0.8 -2.2M52.2 40.3l1.9 -1.3M53.5 43.8l1.0 -2.3M58.1 34.9l0.5 -2.2M58.7 36.3l2.0 -1.3M45.3 44.5l2.2 -0.9M55.9 33.2l2.2 -1.4M50.2 42.3l1.6 -1.6M52.9 35.9l0.2 -2.2M47.9 35.9l0.6 -2.6M54.9 32.6l0.6 -2.2M54.4 38.1l1.9 -1.3M64.8 18.2l2.0 -1.5M63.9 18.0l0.2 -2.3M69.7 24.2l1.0 -2.4M66.9 28.2l0.8 -2.4M68.0 22.2l1.1 -2.1M57.6 26.6l2.3 -1.3M60.9 36.9l1.6 -2.1M60.6 24.3l2.2 -0.6M57.6 34.9l1.6 -2.1M67.1 35.2l1.5 -1.8M60.5 22.7l1.1 -2.0M65.7 31.0l1.2 -2.0M62.9 27.6l2.3 -0.5M64.7 30.1l0.3 -2.2M63.0 28.7l2.1 -1.6M63.5 28.5l0.2 -2.3M65.9 21.0l1.9 -1.5M59.9 26.1l0.2 -2.3M64.1 35.5l2.0 -1.3M63.8 35.3l1.8 -1.4M55.0 23.6l2.4 -1.2M58.5 26.7l0.7 -2.6M59.4 26.5l1.3 -2.0M57.5 24.1l1.9 -1.3M53.4 23.9l2.3 -1.4M56.8 28.7l0.7 -2.3M63.7 31.3l0.7 -2.1M56.5 32.2l0.9 -2.4M64.2 21.4l2.1 -0.7M69.6 16.2l2.1 -1.5M70.2 17.8l0.1 -2.6M75.1 16.2l0.8 -2.2M73.1 19.7l2.2 -1.2M74.6 15.5l0.2 -2.4M75.5 16.2l1.4 -2.1M76.3 19.3l1.6 -2.1M73.0 15.6l2.0 -1.0M72.1 12.7l1.7 -1.6M70.9 13.1l0.2 -2.4M75.4 17.8l1.0 -2.3M65.9 14.5l2.2 -1.1M69.9 13.7l2.2 -1.0M75.3 18.9l2.2 -0.5M59.4 53.6l1.5 1.9M62.2 57.8l1.8 1.5M48.7 48.4l1.6 1.8M64.4 57.8l2.5 0.0M60.6 53.3l1.8 1.8M63.0 56.5l2.6 0.1M63.1 56.4l1.4 1.9M60.6 54.3l2.5 -0.2M59.1 52.9l1.6 1.5M76.5 47.9l2.2 1.5M78.2 49.6l-0.1 2.4M74.7 48.3l1.7 1.7M74.8 45.8l0.4 2.6M74.4 40.0l-0.3 2.5M13.1 68.3l2.6 0.5M17.2 69.0l1.4 1.9M15.9 69.5l1.1 2.3M15.7 71.5l2.2 0.6M65.3 12.2l1.6 -1.6M65.5 11.3l1.0 -2.4M64.1 10.6l2.0 -1.4M58.3 16.2l2.5 0.1" stroke="#18c4f0" stroke-width="2.0" stroke-linecap="round" fill="none"/>
<path d="M3.8 23.2l-0.4 2.7M4.1 2.4l2.2 2.3M6.9 13.2l1.4 2.6M1.0 4.4l1.2 2.5M3.8 4.5l0.7 2.7M2.1 6.2l-0.4 3.0M8.7 21.6l-0.9 2.6M6.2 14.8l0.2 2.9M7.2 23.8l-1.6 2.6M2.9 15.0l0.1 3.0M8.1 41.4l1.2 2.6M6.0 33.1l-0.4 2.7M7.2 31.8l1.0 2.7M5.3 25.7l0.4 3.0M9.6 39.6l1.6 2.3M8.8 33.4l-1.0 3.0M5.5 38.6l-0.4 3.1M4.7 41.3l1.1 2.9M7.9 42.1l-1.6 2.7M30.4 38.5l2.9 0.8M25.9 39.4l3.0 0.9M16.4 30.2l0.7 2.8M24.7 36.8l1.1 2.5M19.7 35.8l1.1 2.5M17.0 27.7l2.2 2.2M26.2 39.1l2.6 0.9M25.9 32.2l2.5 1.3M25.5 34.4l2.4 1.9M23.9 39.2l1.4 2.8M27.0 33.2l2.9 1.2M26.7 37.2l0.6 3.0M24.3 41.3l0.6 3.1M20.3 33.9l2.5 1.3M10.3 27.1l2.7 0.7M21.6 34.9l2.4 1.7M25.4 42.0l2.1 2.0M24.0 41.0l2.2 1.7M14.1 23.0l1.5 2.7M14.6 27.5l0.6 2.8M16.9 32.8l2.6 1.3M26.8 40.2l-2.0 2.4M27.1 49.8l-2.3 1.5M23.6 46.0l-2.6 1.1M19.1 48.1l-1.7 2.2M28.2 42.4l-2.5 1.1M23.5 53.6l-1.4 2.8M26.7 47.6l-2.6 1.6M23.2 45.8l-2.7 1.4M31.6 44.7l-1.9 2.2M20.4 51.6l-2.4 1.4M23.6 45.3l-2.5 1.8M25.9 49.7l-2.8 1.5M20.1 49.0l-1.0 3.0M24.4 44.4l-2.5 1.0M21.9 44.7l-2.2 1.6M24.8 45.6l-1.6 2.2M22.4 52.4l-2.7 1.0M18.3 53.5l-1.2 2.5M15.9 60.9l-0.9 2.6M17.2 53.5l-2.5 1.5M13.7 58.1l-1.5 2.4M12.5 55.9l-2.8 1.2M16.6 61.8l-1.6 2.7M18.7 56.6l-1.3 2.7M16.6 61.9l-2.2 2.0M14.1 60.2l-2.5 1.8M9.0 56.2l-1.3 2.8M13.1 56.8l-2.6 1.0M14.2 58.9l-2.8 0.9M49.6 38.4l2.5 -1.6M48.9 36.7l2.8 -0.9M59.1 38.2l1.2 -2.5M44.7 44.5l0.2 -3.0M48.7 38.4l1.6 -2.6M48.1 46.1l3.1 -0.6M51.0 45.5l1.4 -2.6M49.8 40.3l1.9 -2.4M53.8 31.7l2.1 -2.0M51.3 48.3l1.2 -2.7M55.4 36.9l2.1 -2.3M52.8 44.0l0.6 -3.0M54.5 46.2l2.6 -1.5M53.4 42.4l1.7 -2.1M56.2 37.7l2.6 -1.6M61.5 38.9l2.8 -1.3M45.0 42.4l2.8 -1.5M51.8 34.7l2.7 -1.5M46.5 46.6l1.2 -2.7M56.8 35.1l2.4 -1.5M63.1 18.5l0.9 -2.6M66.3 21.2l1.0 -2.9M57.5 27.9l0.2 -3.0M61.4 36.8l0.8 -2.9M62.2 38.7l2.0 -2.2M60.4 27.5l2.6 -0.7M65.9 30.1l0.2 -2.7M65.6 31.0l1.7 -2.1M73.1 26.2l0.1 -3.0M60.9 27.1l1.3 -2.6M59.1 34.4l1.0 -2.9M61.8 29.6l1.8 -2.4M58.6 26.9l1.3 -2.6M64.4 29.0l1.4 -2.7M74.7 18.7l2.4 -1.7M75.5 15.9l0.6 -3.0M68.6 12.7l2.5 -1.1M74.8 19.9l0.8 -3.0M73.1 17.3l2.7 -1.4M64.9 17.0l1.7 -2.3M71.4 12.0l0.9 -2.6M68.4 18.2l2.1 -1.8M74.0 16.0l1.4 -2.5M71.8 16.4l0.5 -2.7M76.1 18.6l1.2 -2.7M65.1 12.4l2.6 -1.2M73.4 19.0l2.2 -2.0M75.8 14.3l2.2 -2.2M74.6 15.0l2.5 -1.3M59.5 53.5l2.0 2.4M59.1 54.4l3.1 0.2M57.2 53.5l1.5 2.5M51.0 50.4l2.2 1.5M51.0 48.0l2.4 2.0M60.7 55.6l2.7 1.2M58.7 56.2l2.8 0.0M64.0 57.8l2.2 1.9M74.3 50.7l-0.7 3.0M65.6 32.8l1.9 2.5M75.3 51.0l0.7 3.1M70.8 34.0l-0.6 2.7M76.3 48.6l1.2 2.6M71.3 33.3l-0.8 2.8M74.4 48.6l2.1 1.7M13.8 67.8l2.7 0.3M64.5 13.9l1.4 -2.6M64.1 13.1l2.9 -0.7" stroke="#18c4f0" stroke-width="2.4" stroke-linecap="round" fill="none"/>
<path d="M3.9 22.5l1.8 2.7M5.2 22.6l1.5 3.2M3.9 14.9l1.9 2.9M1.7 12.7l-0.0 3.3M3.3 22.8l2.4 2.5M1.4 23.6l1.7 3.0M2.2 22.5l0.7 3.1M5.3 22.4l0.8 3.3M1.4 11.4l-0.3 3.3M1.3 14.8l0.7 3.5M4.8 22.2l-1.7 2.8M5.7 14.9l-1.1 3.0M6.9 13.1l0.2 3.5M7.1 16.2l-0.6 3.5M4.8 20.9l-1.4 3.1M5.2 21.9l1.2 3.3M10.4 41.3l0.5 3.6M7.6 26.1l-1.3 3.2M7.7 41.7l-1.0 3.4M8.9 39.0l-0.8 3.1M3.3 29.3l2.1 2.8M5.6 45.4l1.1 3.5M7.8 32.8l-0.4 3.2M5.8 31.5l-1.0 3.2M5.2 26.0l2.2 2.9M9.9 41.6l2.2 2.7M17.0 31.9l2.9 1.6M14.1 29.0l2.9 1.9M27.1 36.1l3.5 0.8M21.3 30.5l1.5 3.0M27.0 33.9l2.8 2.0M17.6 32.0l1.3 3.3M22.9 35.8l0.3 3.4M14.2 26.6l0.3 3.4M23.3 42.4l-0.1 3.7M15.9 22.0l3.3 1.3M22.2 31.6l1.2 3.2M14.2 25.5l2.2 2.3M14.0 26.9l0.5 3.5M20.1 31.9l2.2 2.4M23.6 38.2l2.3 2.9M19.3 28.4l2.8 1.6M21.7 32.2l0.9 3.1M19.8 27.1l3.4 0.9M26.1 53.9l-2.6 2.3M23.4 45.7l-3.1 1.7M21.9 44.3l-3.4 1.2M23.4 52.7l-2.3 2.2M24.4 49.2l-3.3 1.1M18.7 42.9l-1.3 3.3M20.4 51.7l-0.3 3.4M19.5 47.4l-1.3 3.3M28.1 48.0l-0.3 3.3M13.9 59.8l-2.1 2.7M8.3 55.4l-0.3 3.4M16.0 57.7l-2.6 2.3M14.6 62.6l-3.3 1.3M14.6 61.3l-2.9 1.4M16.4 59.0l-1.0 3.1M14.5 59.0l-3.3 1.1M14.5 62.0l-3.2 0.6M18.1 57.6l-3.3 0.8M13.8 58.4l-1.8 3.0M12.3 59.2l-2.6 2.2M12.5 56.6l-0.7 3.4M14.2 59.3l-1.9 3.0M15.3 61.1l-0.4 3.5M16.8 55.4l-1.3 3.3M14.3 57.3l-2.6 2.0M12.4 57.9l-2.8 2.1M47.4 46.7l3.1 -1.8M55.6 39.2l2.3 -2.4M53.1 42.6l2.4 -2.4M52.5 34.2l1.3 -2.9M50.7 41.1l2.9 -1.7M56.2 33.2l3.3 -1.4M52.8 36.6l1.9 -2.9M49.9 48.1l2.6 -2.3M57.9 35.3l1.1 -3.2M53.6 42.0l3.1 -1.5M50.3 49.5l2.0 -2.7M49.8 39.4l0.8 -3.2M52.8 41.2l1.6 -3.0M51.5 44.0l2.2 -2.4M47.2 37.2l2.0 -2.5M53.8 41.7l1.6 -2.8M57.5 30.7l0.8 -3.4M60.8 26.7l1.6 -2.9M62.7 28.6l2.0 -2.9M56.4 29.6l0.5 -3.6M66.2 30.5l1.2 -3.2M56.0 32.5l0.3 -3.5M66.4 30.7l2.6 -1.9M59.0 29.9l2.5 -2.2M63.7 27.9l1.9 -2.6M55.1 21.6l3.4 -0.6M72.3 25.7l3.1 -1.1M64.5 31.3l1.4 -3.1M60.4 27.4l3.1 -1.5M60.6 26.3l1.0 -3.3M63.6 19.5l3.5 -1.2M60.0 33.7l2.2 -2.5M56.7 29.5l2.6 -2.4M58.2 29.4l3.2 -1.2M61.0 37.4l2.0 -2.8M55.3 26.8l1.3 -3.1M61.1 31.8l1.0 -3.0M60.4 27.6l0.2 -3.6M57.7 35.7l1.3 -3.2M66.8 14.3l2.9 -2.1M66.7 15.1l1.5 -3.0M74.3 16.2l2.7 -2.4M64.5 18.0l2.3 -2.9M72.9 14.7l3.2 -1.6M73.5 15.2l0.8 -3.5M75.1 17.9l1.4 -2.9M70.8 19.5l1.0 -3.4M63.9 16.2l2.7 -1.8M69.4 21.7l1.9 -2.7M69.5 16.3l0.3 -3.3M69.7 14.6l1.6 -3.3M67.4 18.3l2.9 -1.4M70.9 14.0l2.6 -2.4M55.9 56.1l3.4 0.5M59.6 54.4l3.4 -0.3M57.4 51.9l3.0 1.5M63.2 54.0l2.5 2.1M49.8 50.2l3.3 0.4M57.6 55.5l3.3 0.6M49.7 49.9l3.3 0.8M61.8 54.2l3.4 1.1M59.1 56.6l2.9 1.9M59.8 56.5l3.5 -0.0M68.9 31.0l1.9 2.8M75.6 49.2l3.0 2.0M76.1 45.6l0.9 3.5M72.8 47.2l-0.6 3.3M76.4 47.1l0.6 3.6M74.2 44.5l1.1 3.4M76.6 46.2l-1.0 3.2M76.1 46.8l2.5 2.5M74.2 48.0l2.6 2.5M73.8 49.1l2.5 2.4M74.6 51.0l1.3 3.1M75.1 41.1l-0.4 3.4M14.7 68.7l3.6 -0.2M14.3 69.1l3.4 -0.0M62.0 14.6l2.1 -2.6M59.4 17.8l1.7 -2.9M62.3 15.0l2.1 -3.0M54.9 19.0l2.1 -2.7M62.7 14.1l2.6 -2.0" stroke="#18c4f0" stroke-width="2.8" stroke-linecap="round" fill="none"/>
<path d="M5.4 20.2l-1.3 3.4M6.1 19.9l-0.2 3.7M7.3 41.3l0.9 3.8M6.9 33.1l0.5 3.9M9.4 26.7l2.1 3.1M9.4 40.4l-1.5 3.6M7.8 40.7l1.4 3.4M18.8 23.3l2.9 2.3M15.1 25.3l2.2 2.9M25.7 40.0l1.0 3.8M24.7 32.6l2.1 3.0M18.1 26.3l0.4 3.7M18.7 37.9l3.4 1.6M21.1 34.8l1.5 3.4M16.6 31.1l2.2 3.2M21.2 26.6l3.3 2.2M25.9 40.7l-2.8 2.3M26.2 39.5l-2.1 3.1M22.5 54.9l-3.1 2.1M23.1 47.1l-3.0 2.4M23.6 52.4l-3.0 2.3M22.7 46.6l-2.8 2.4M28.8 42.8l-1.9 3.4M24.1 51.3l-3.5 1.4M21.7 41.2l-1.0 3.7M23.2 39.3l-0.3 3.9M10.5 64.2l-2.7 2.8M16.2 58.3l-0.1 3.7M15.7 56.1l-2.3 2.9M8.3 57.1l-2.8 2.6M13.5 56.7l-1.9 3.2M12.4 60.1l-3.4 1.7M14.3 58.2l-1.1 3.6M12.8 60.6l-2.9 2.6M53.6 35.2l1.7 -3.5M45.5 44.3l3.3 -1.7M54.1 31.7l2.6 -2.9M48.6 40.9l0.6 -3.8M58.3 39.1l2.4 -2.9M57.0 39.8l3.6 -1.3M53.3 38.0l2.7 -2.7M53.4 37.8l1.3 -3.4M58.0 36.1l2.3 -3.1M58.7 27.7l2.2 -3.2M64.9 32.4l2.1 -3.1M58.2 28.4l0.7 -3.8M58.7 31.5l0.8 -3.7M59.4 30.6l1.8 -3.2M53.2 30.1l1.3 -3.6M71.4 27.1l3.4 -1.4M73.0 15.9l0.7 -3.7M65.7 14.6l1.9 -3.2M68.6 17.5l0.6 -3.8M71.2 15.3l2.0 -3.1M70.5 12.5l0.4 -3.8M77.9 17.3l0.7 -3.8M58.3 54.6l1.5 3.5M58.8 55.1l3.7 -0.0M57.9 52.6l2.9 2.4M53.2 47.1l1.4 3.4M53.6 49.2l1.4 3.4M75.9 45.2l1.2 3.5M67.1 31.8l0.1 3.7M17.1 71.3l2.8 2.5M11.0 66.9l2.1 3.2M14.7 70.5l3.9 -0.1M57.5 17.9l2.8 -2.6" stroke="#18c4f0" stroke-width="3.2" stroke-linecap="round" fill="none"/>
<path d="M10.8 57.6l-0.5 1.6M13.5 59.8l-0.0 1.7M47.2 45.2l1.5 -0.7M56.7 31.4l0.6 -1.6" stroke="#20e0a0" stroke-width="1.2" stroke-linecap="round" fill="none"/>
<path d="M7.9 20.8l-0.2 1.8M4.8 14.7l-0.4 2.1M8.9 40.5l-0.4 1.9M7.6 41.8l0.2 1.9M6.4 40.5l0.3 2.0M4.4 28.0l-0.0 1.7M9.7 41.1l1.3 1.3M8.8 28.8l-0.2 1.8M7.5 42.5l-0.3 2.2M22.9 36.2l0.5 1.9M20.1 30.1l0.3 2.1M16.0 25.8l1.9 0.5M21.9 29.5l1.9 0.7M23.8 32.6l1.6 1.4M24.0 34.8l1.8 1.0M29.2 36.7l1.2 1.7M13.6 30.8l1.5 1.5M18.5 35.4l1.0 1.6M25.6 37.7l0.1 1.8M20.5 24.9l1.9 0.6M17.4 24.2l1.5 1.4M22.6 29.3l1.0 1.4M14.4 28.8l1.9 0.6M17.5 31.7l0.3 1.9M19.0 25.1l1.8 0.4M17.7 32.0l0.7 2.1M16.4 26.4l0.6 1.7M25.0 44.9l-1.9 0.7M16.6 46.0l-0.1 1.8M28.4 48.8l-0.8 1.7M28.7 43.6l-1.7 0.7M27.4 44.3l-1.6 0.9M26.1 42.6l-0.6 1.9M28.3 44.1l-1.6 0.9M22.6 54.3l-1.7 0.7M17.8 58.0l-1.9 1.0M13.1 59.8l-1.0 1.4M13.3 62.0l-1.7 0.5M13.3 61.4l-0.8 1.6M14.7 55.5l-1.6 0.6M16.6 52.8l-1.9 0.6M15.3 61.0l-1.5 1.5M13.1 59.1l-1.5 1.5M15.8 61.6l-0.8 2.0M11.3 59.5l-1.6 0.8M16.5 63.0l-1.7 1.4M16.0 60.6l-0.5 2.0M16.6 52.8l-1.7 1.1M57.3 35.7l1.0 -1.8M42.5 40.8l1.5 -1.1M49.8 31.3l2.0 -0.5M50.4 41.3l1.8 -0.5M48.8 43.0l1.0 -1.7M48.4 48.0l0.6 -1.8M49.4 37.7l1.5 -1.4M54.5 33.2l2.1 -0.4M56.1 35.4l0.7 -1.8M45.2 44.2l2.0 -0.7M45.0 41.2l1.0 -2.0M51.9 42.9l0.3 -1.7M56.5 27.7l0.2 -1.9M59.6 24.1l1.9 -0.7M63.4 33.2l0.8 -1.7M62.7 29.1l1.7 -1.2M60.7 24.5l1.7 -0.8M66.7 21.1l0.5 -2.1M59.1 26.8l0.2 -2.1M61.0 27.9l0.8 -1.8M63.9 27.5l2.0 -0.5M63.4 37.9l1.5 -1.4M63.2 29.7l2.1 -0.5M61.3 37.6l0.4 -1.8M58.7 34.8l1.3 -1.3M58.2 33.5l0.9 -1.9M60.0 35.8l1.6 -0.6M61.2 27.6l1.3 -1.3M61.5 30.4l1.2 -1.3M60.0 28.7l0.6 -1.7M72.8 19.5l1.2 -1.4M69.2 16.2l0.6 -1.9M72.7 19.1l0.7 -2.0M72.7 21.8l1.4 -1.5M71.4 12.8l1.7 -1.3M67.2 16.7l1.1 -1.4M66.5 15.7l0.5 -2.0M71.4 16.1l1.9 -0.9M59.1 54.0l1.9 0.1M63.0 56.2l1.0 1.8M52.3 49.4l0.8 1.9M62.9 55.2l1.0 1.8M57.7 53.4l1.9 0.1M51.6 51.4l0.9 1.5M77.4 51.1l-0.6 1.9M73.6 47.6l1.8 1.0M74.8 50.3l0.1 1.8M14.6 67.2l1.4 1.6M55.2 18.7l0.6 -1.8M64.5 12.0l1.7 -1.0M59.1 14.8l1.0 -1.5" stroke="#20e0a0" stroke-width="1.6" stroke-linecap="round" fill="none"/>
<path d="M6.4 19.9l-1.2 2.3M7.2 15.9l-0.9 2.1M8.5 22.9l-0.6 2.6M6.7 9.2l-0.6 2.3M4.0 14.5l1.9 1.8M4.2 20.9l1.1 1.9M7.2 25.5l1.7 1.8M11.3 38.0l0.0 2.5M3.8 32.0l0.3 2.4M4.7 25.6l-0.4 2.5M8.6 40.8l-1.0 2.3M8.8 31.9l1.6 1.8M6.1 44.4l-0.7 2.5M7.7 28.0l-0.7 2.3M4.1 38.1l1.6 1.8M23.8 37.0l1.8 2.0M19.9 29.7l0.3 2.6M23.5 36.6l0.7 2.2M16.1 24.3l1.4 2.0M17.0 24.6l2.1 0.8M24.5 33.2l2.0 1.4M18.9 27.3l1.9 1.2M26.3 37.3l2.1 1.5M21.2 36.7l2.0 1.2M26.4 37.0l0.2 2.6M21.7 52.2l-1.5 1.9M21.1 51.5l-1.8 1.6M29.0 45.6l-2.1 1.1M28.2 41.5l-1.1 2.3M14.8 50.3l-1.4 1.9M19.0 55.0l-0.4 2.2M25.0 46.4l-2.2 0.4M24.8 42.1l-1.9 1.7M23.6 53.9l-2.4 0.9M31.0 44.4l-1.3 2.2M31.0 43.8l-0.5 2.6M14.5 62.7l-2.2 0.9M12.4 61.4l-1.3 1.9M12.0 58.8l-0.7 2.4M9.2 68.9l-0.4 2.3M12.6 61.1l-2.3 0.6M12.6 57.7l-2.1 0.9M10.8 58.0l-2.0 1.8M13.2 58.7l-2.4 0.9M15.1 59.9l-1.7 1.4M18.1 54.5l-2.5 0.8M16.2 56.8l-2.5 0.5M49.8 43.8l1.0 -2.0M57.2 33.6l2.4 -0.6M50.4 41.2l0.3 -2.5M57.1 38.5l2.2 -0.8M52.3 41.9l1.9 -1.5M44.4 43.2l1.9 -1.5M46.2 44.0l2.3 -0.9M45.1 43.8l2.2 -0.8M47.7 46.4l2.5 -0.8M55.2 31.2l0.8 -2.3M57.8 26.6l1.9 -1.4M54.2 31.1l1.5 -1.6M68.3 21.8l0.4 -2.4M56.8 29.1l2.4 -0.5M61.1 26.8l1.3 -1.8M58.2 25.3l2.1 -0.7M72.4 21.8l2.4 -0.7M69.5 17.3l2.0 -1.0M68.5 20.4l2.0 -0.9M71.1 20.7l2.2 -1.4M70.7 16.6l0.1 -2.3M73.8 17.6l0.6 -2.3M70.2 12.7l2.5 -1.0M72.0 16.5l2.0 -1.0M68.8 16.3l1.3 -1.8M70.2 14.4l2.2 -0.6M74.8 16.2l2.2 -1.0M69.4 15.3l2.2 -0.8M60.3 55.2l0.8 2.2M60.7 56.4l2.3 0.2M61.2 53.8l2.3 0.7M60.4 56.8l2.4 0.1M63.0 58.2l2.4 -0.2M57.9 52.2l1.2 2.0M58.4 55.9l2.6 0.5M62.3 53.8l0.9 2.1M58.2 54.3l2.3 1.3M53.4 51.2l2.4 0.1M74.3 49.3l1.4 2.2M72.7 43.8l0.4 2.2M76.8 47.4l-0.6 2.3M71.7 32.6l-0.1 2.6M15.0 71.3l2.4 -0.1M14.0 65.2l0.9 2.2M62.3 12.8l2.2 0.2M63.2 13.2l2.1 -1.3" stroke="#20e0a0" stroke-width="2.0" stroke-linecap="round" fill="none"/>
<path d="M4.5 15.4l2.0 1.9M7.2 21.5l1.7 2.3M8.1 22.1l1.5 2.4M3.8 4.5l-1.3 2.4M4.8 4.3l1.0 2.7M2.1 2.7l1.0 2.8M5.6 19.0l-0.7 2.7M1.4 12.0l1.8 2.5M5.1 15.5l0.1 2.9M4.6 22.7l0.5 3.0M3.6 19.9l1.3 2.7M7.1 21.5l-0.0 2.9M7.2 14.6l-0.4 3.1M6.5 44.9l1.6 2.4M5.5 42.2l0.7 2.6M8.8 34.7l1.2 2.7M7.8 29.9l-1.1 2.7M9.1 36.3l0.5 2.7M7.9 37.5l1.4 2.7M26.7 41.0l0.0 3.1M18.4 32.7l2.6 1.0M21.6 32.7l2.3 1.8M20.3 37.8l2.0 2.3M25.2 37.5l1.8 2.4M19.0 30.0l1.6 2.5M15.9 27.3l0.8 2.9M16.3 26.5l-0.1 2.8M19.6 32.3l0.6 3.0M25.2 40.1l1.5 2.7M20.5 37.2l2.7 1.5M21.1 36.1l1.9 2.4M28.8 43.8l-2.3 2.1M23.1 52.7l-1.2 2.5M19.8 43.5l-0.1 2.7M22.6 45.2l-0.2 2.8M22.3 48.3l-1.3 2.5M17.4 46.5l-0.7 2.6M23.6 43.6l-2.5 1.4M30.2 44.3l-0.9 3.0M19.2 49.1l-2.5 1.4M14.1 60.3l-0.6 2.9M14.5 60.1l-0.1 2.7M12.6 58.5l-1.0 2.9M13.1 59.9l-2.7 1.6M7.5 58.2l-2.6 1.1M8.0 57.0l-0.1 3.0M20.3 56.0l-2.1 2.2M18.2 58.2l-2.5 1.3M11.6 62.3l-2.0 2.2M52.3 32.7l0.6 -3.0M53.0 45.0l2.1 -1.7M55.3 43.1l0.6 -2.7M51.3 35.8l2.9 -1.3M54.2 36.4l2.4 -1.2M52.7 32.9l0.6 -2.9M52.5 36.6l2.3 -2.1M48.8 46.7l0.9 -2.9M43.4 43.2l1.8 -2.2M53.6 38.3l1.3 -2.7M51.4 41.6l1.8 -2.1M50.2 44.8l1.5 -2.5M50.3 45.9l1.5 -2.5M54.1 42.0l0.5 -2.9M49.1 46.8l1.5 -2.4M68.5 21.9l0.8 -2.9M56.4 32.1l2.7 -1.1M62.8 32.7l1.4 -2.5M61.4 29.7l1.2 -2.4M67.7 20.2l1.4 -2.5M65.7 20.8l1.5 -2.5M58.3 26.6l2.0 -2.0M66.9 22.7l2.5 -1.7M53.4 31.5l1.3 -2.7M71.7 27.2l0.6 -2.7M64.4 31.1l2.3 -1.9M58.2 27.2l2.1 -1.9M60.0 30.6l1.0 -2.9M59.3 28.2l1.5 -2.7M53.5 30.6l2.0 -1.9M62.0 39.1l1.8 -2.2M61.8 28.1l2.2 -2.1M62.8 29.5l0.5 -2.8M58.1 31.7l0.8 -2.7M71.8 18.2l1.9 -2.0M75.5 16.2l0.1 -2.9M69.8 13.9l1.9 -2.2M67.4 16.1l1.9 -2.0M71.3 20.8l0.2 -3.0M73.0 21.0l0.8 -2.6M72.8 14.4l2.8 -0.8M60.8 54.9l1.6 2.6M58.1 54.1l1.5 2.7M62.2 56.0l2.7 0.9M59.7 55.5l1.1 2.7M70.7 33.4l0.5 3.1M76.8 47.1l1.6 2.3M69.0 32.7l-0.2 2.9M73.8 44.5l-0.4 2.7M67.6 33.2l0.4 3.2M68.2 32.1l-0.9 2.7M68.7 33.5l-0.5 2.8M72.1 42.6l1.1 3.0M15.1 70.3l2.7 0.3M16.5 70.3l2.7 1.4M60.0 16.7l2.4 -1.7M59.4 16.7l1.9 -2.2" stroke="#20e0a0" stroke-width="2.4" stroke-linecap="round" fill="none"/>
<path d="M2.5 4.0l-0.3 1.7M6.9 14.0l0.1 1.5M4.4 14.0l-0.1 1.5M4.6 23.1l-0.4 1.5M8.8 42.9l-0.3 1.7M6.7 35.6l1.1 1.2M10.8 42.4l0.2 1.6M23.0 35.6l1.1 1.2M20.5 32.2l1.6 0.4M24.0 37.6l1.4 0.7M25.7 33.0l1.0 1.2M24.4 38.0l0.9 1.4M23.2 28.2l0.7 1.4M27.4 37.6l0.1 1.6M22.8 34.4l1.4 1.0M14.5 23.9l1.4 0.9M24.2 35.8l0.9 1.5M18.6 23.5l0.4 1.5M26.1 41.9l-1.6 0.3M19.1 54.0l-1.2 1.0M22.6 48.3l-0.2 1.6M11.9 58.0l-1.3 0.9M12.1 60.2l-1.1 1.3M9.6 60.2l-0.3 1.6M16.3 58.7l-1.0 1.3M10.5 59.9l-0.7 1.5M8.9 56.7l-0.5 1.4M13.1 61.5l-1.6 0.5M52.1 40.8l1.5 -0.2M49.3 39.1l1.6 -0.6M51.6 34.7l1.7 -0.2M48.8 45.7l0.3 -1.6M55.6 35.0l1.5 -0.8M56.0 31.6l0.7 -1.4M50.3 41.8l0.7 -1.5M56.8 35.8l0.4 -1.5M52.3 38.9l1.2 -1.0M61.9 28.4l0.8 -1.4M61.1 29.8l0.4 -1.5M58.2 34.7l0.3 -1.5M61.0 24.8l0.2 -1.5M58.3 31.6l0.2 -1.6M62.6 27.9l0.9 -1.2M55.8 31.3l1.5 -0.3M66.8 19.4l0.4 -1.6M69.8 24.0l0.5 -1.5M58.0 24.5l1.4 -0.7M58.6 31.3l0.6 -1.5M58.1 32.1l1.3 -0.9M72.1 15.2l1.6 -0.4M72.6 13.9l1.5 -0.6M67.8 17.8l0.6 -1.5M61.1 54.9l0.8 1.4M50.0 48.3l1.4 0.7M58.7 52.7l1.6 0.0M62.4 55.6l1.2 1.0M61.4 56.9l1.6 0.2M59.6 54.8l1.3 0.8M57.4 53.9l1.6 -0.1M74.8 48.9l1.1 1.2M74.3 45.3l1.3 1.0M75.1 49.4l1.1 1.1M68.5 33.0l0.8 1.4M16.0 68.3l1.7 0.1M18.8 69.3l0.5 1.6M17.1 70.6l1.1 1.2M60.9 16.2l0.5 -1.6M61.4 13.2l1.5 -0.3" stroke="#3ce040" stroke-width="1.2" stroke-linecap="round" fill="none"/>
<path d="M3.9 14.1l0.8 1.8M7.7 23.7l1.1 1.5M8.2 21.8l0.1 1.9M5.8 9.2l-0.0 2.0M6.2 23.3l-0.4 2.1M7.7 22.0l-0.8 2.0M7.0 19.9l-0.0 1.7M3.8 24.0l-0.6 1.6M3.4 4.3l-1.0 1.8M4.0 4.0l1.2 1.3M7.6 22.4l-0.7 2.0M8.7 20.7l0.1 2.0M6.7 14.5l0.4 1.7M4.5 40.4l1.6 1.5M7.0 29.5l0.6 2.1M8.0 28.3l0.1 1.9M8.2 40.4l0.2 2.1M9.7 41.3l-0.5 2.0M9.7 41.1l-0.1 2.1M10.2 42.0l-0.3 1.9M8.8 44.5l0.7 1.9M7.0 28.3l-1.0 1.8M21.9 32.9l0.7 2.0M15.6 23.5l1.2 1.3M25.1 42.5l2.1 0.7M23.6 31.8l1.6 1.4M15.7 33.1l2.0 0.8M25.7 40.7l0.3 2.0M17.0 28.6l1.3 1.1M15.5 24.5l1.6 0.9M20.9 36.4l1.8 0.4M20.0 28.9l0.8 2.0M16.6 23.2l1.5 1.5M26.7 36.1l0.5 1.7M24.4 31.7l0.8 2.0M19.8 29.2l-0.0 1.9M19.6 27.6l1.8 0.6M18.2 30.1l0.0 1.8M26.4 38.8l0.4 1.9M24.2 41.4l1.3 1.5M15.2 51.0l-1.5 0.9M20.1 51.2l-1.7 0.4M18.5 51.1l-1.8 0.6M26.1 46.4l-1.5 1.0M22.0 46.4l-1.1 1.6M29.0 43.9l-0.1 1.9M20.9 52.2l-1.7 0.4M22.6 52.2l-1.6 1.1M20.8 53.9l-1.7 1.2M21.4 54.6l-1.7 0.8M23.1 54.0l-0.9 1.6M25.3 46.4l-1.7 0.7M25.5 47.0l-0.9 1.8M28.6 43.1l-0.9 1.6M29.0 43.9l-0.9 1.5M26.3 45.9l-1.5 1.1M19.2 48.7l-2.1 0.6M10.0 59.6l-0.1 1.7M11.6 60.5l-2.0 0.4M10.6 59.9l-0.5 1.7M12.6 58.9l-2.0 0.5M18.0 60.0l-1.1 1.9M13.7 61.0l-1.2 1.3M19.4 56.0l-1.0 1.8M15.5 56.6l-1.6 0.7M20.3 59.9l-1.8 0.4M15.1 60.4l-1.8 0.4M16.1 57.8l-1.8 1.1M15.0 63.0l-0.6 1.9M15.1 61.2l-1.9 0.4M14.8 62.0l-0.2 1.8M15.2 62.1l-1.3 1.7M16.9 60.1l-1.1 1.5M52.5 40.0l0.9 -2.0M44.7 43.5l0.4 -2.0M44.6 43.6l0.2 -2.0M49.8 40.1l1.2 -1.6M49.2 40.7l1.7 -0.5M51.8 39.6l1.0 -1.4M49.0 37.3l1.8 -0.6M55.7 37.0l0.9 -1.9M52.3 35.5l1.1 -1.3M50.3 38.8l0.7 -2.0M54.4 37.5l1.0 -1.6M47.9 40.7l1.9 -0.5M51.8 39.5l1.8 -0.9M49.3 48.7l0.2 -1.7M55.7 36.4l2.0 -0.8M50.4 38.1l1.3 -1.3M46.7 45.6l1.6 -1.0M59.9 28.5l0.3 -1.8M58.2 30.1l2.1 -0.4M64.7 18.3l2.2 -0.4M62.1 30.5l0.4 -2.0M55.7 29.1l0.2 -1.8M54.4 31.8l1.7 -1.1M71.2 24.4l1.6 -1.1M68.9 24.5l0.1 -2.0M58.8 24.5l1.5 -1.0M66.8 27.8l1.2 -1.3M64.0 19.8l2.1 -0.6M61.8 36.3l0.1 -2.0M65.4 24.2l0.8 -1.9M56.4 32.3l1.1 -1.8M68.2 22.8l2.0 -0.8M61.9 28.8l1.6 -0.7M54.4 30.7l1.1 -1.8M61.6 28.9l0.8 -1.6M68.9 19.1l1.0 -1.4M70.9 18.9l1.4 -1.6M74.1 15.7l0.0 -1.9M75.7 15.6l1.7 -0.6M75.5 15.4l1.0 -1.6M74.4 14.2l1.8 -0.8M72.6 15.9l1.7 -0.8M71.2 17.7l0.6 -1.6M74.4 16.1l0.1 -2.1M66.7 16.0l0.3 -2.0M69.6 17.1l1.1 -1.5M72.6 13.0l1.9 -0.6M72.1 12.7l1.6 -1.2M49.8 49.0l1.4 1.0M63.9 57.3l1.7 1.1M63.1 56.5l1.2 1.8M61.2 55.8l0.7 1.7M63.4 55.0l0.9 2.0M62.5 57.9l2.1 0.4M50.0 47.2l0.9 1.6M73.2 45.0l0.8 1.9M68.0 33.4l1.0 1.9M75.1 50.3l1.0 1.6M75.0 47.5l1.6 1.1M76.5 49.7l1.0 1.9M74.3 41.3l0.4 1.8M71.9 33.5l0.2 1.8M70.6 32.5l0.3 2.1M74.9 42.2l0.1 2.2M11.4 66.6l1.8 -0.1M18.9 69.6l0.6 1.6M58.1 14.6l2.0 0.2M62.5 16.0l0.8 -1.8M62.5 15.2l1.4 -1.1" stroke="#3ce040" stroke-width="1.6" stroke-linecap="round" fill="none"/>
<path d="M3.2 13.0l1.3 1.9M4.3 4.1l0.3 2.2M4.8 11.6l-1.0 2.3M1.1 6.5l0.5 2.3M6.8 23.4l-0.9 2.4M3.4 10.2l0.6 2.4M5.9 22.4l0.4 2.3M7.6 31.2l-0.4 2.3M9.7 44.1l-1.1 2.1M7.3 43.0l-1.1 2.1M8.5 42.7l-0.3 2.2M8.2 35.0l-1.1 1.9M5.4 23.8l-1.2 2.3M10.2 39.7l0.9 2.4M11.1 33.0l-1.3 2.0M7.2 33.6l0.3 2.5M7.5 29.8l1.0 2.3M5.6 27.4l0.8 2.5M6.9 45.2l1.8 2.0M21.3 35.1l1.7 1.8M24.1 33.6l1.1 2.1M13.4 25.7l2.0 1.8M18.2 36.7l2.3 1.0M17.6 28.0l1.3 2.2M21.8 28.9l1.8 1.6M12.4 29.4l1.2 2.3M19.5 28.6l0.6 2.3M24.1 38.6l1.9 1.7M22.7 29.7l1.1 2.0M27.6 35.9l0.4 2.3M28.1 39.9l0.7 2.6M25.9 35.9l1.7 1.6M24.1 39.3l0.7 2.4M26.1 40.6l1.0 2.1M25.1 44.9l-0.5 2.6M28.7 42.7l-0.3 2.5M20.2 52.2l-2.2 1.2M17.9 53.5l-2.1 0.8M24.3 40.4l-1.8 1.9M25.6 48.0l-0.2 2.6M29.2 44.3l-1.5 1.7M18.6 51.6l-0.5 2.1M19.1 49.5l-1.2 2.1M21.5 50.2l-1.1 1.9M26.7 46.9l-0.6 2.3M28.0 48.2l-2.2 1.2M19.4 59.1l-2.2 1.1M9.8 68.8l-2.4 1.0M14.0 63.5l-1.9 1.6M13.8 56.5l-2.1 1.5M12.3 56.6l-1.9 1.8M6.0 65.0l-0.9 2.5M11.0 58.6l-1.9 1.4M16.6 59.6l-1.5 1.7M20.8 55.2l-2.0 1.6M15.0 58.1l-0.1 2.4M13.4 57.7l-0.1 2.6M12.0 59.1l-2.4 0.8M15.8 61.7l-2.1 0.8M16.3 53.8l-2.1 0.8M12.9 59.1l-0.0 2.3M8.2 56.7l-0.7 2.4M50.7 39.6l2.2 -0.9M51.5 38.5l1.5 -2.1M47.2 45.7l2.0 -1.4M54.2 37.5l1.9 -1.2M48.1 36.8l1.6 -1.7M59.4 38.9l0.4 -2.6M51.8 38.8l2.1 -0.9M53.2 32.9l2.6 -0.6M54.9 41.2l2.2 -0.3M55.0 33.4l0.4 -2.4M50.4 39.2l1.8 -1.5M47.1 45.0l2.1 -1.6M50.3 42.5l2.4 -0.9M51.7 40.4l0.5 -2.6M52.6 44.5l0.3 -2.5M62.0 33.6l2.6 -0.7M62.8 28.4l2.0 -1.2M55.0 27.9l0.6 -2.6M57.4 34.1l0.9 -2.3M56.8 24.8l2.4 -1.0M60.2 25.8l0.4 -2.3M62.0 29.6l1.1 -2.0M56.3 25.3l2.4 -0.6M61.2 29.3l0.2 -2.3M62.8 32.9l0.3 -2.5M61.4 37.5l2.2 -1.0M59.7 33.7l2.0 -1.2M61.1 27.1l2.2 -1.4M61.5 34.7l2.0 -1.6M62.3 27.9l0.7 -2.5M61.8 28.6l1.1 -2.1M56.5 33.7l0.1 -2.4M62.7 34.6l2.3 -0.7M68.3 23.2l0.3 -2.4M59.8 28.7l0.9 -2.0M72.2 16.0l1.5 -1.7M70.5 13.2l1.1 -2.0M72.0 12.3l1.3 -1.9M73.5 15.2l2.2 -1.2M71.1 18.7l1.4 -2.3M69.9 20.9l1.8 -1.6M71.4 13.3l2.1 -1.3M75.1 16.2l2.5 -0.8M72.2 14.8l1.2 -2.3M71.6 17.5l0.2 -2.6M74.0 15.8l2.0 -0.9M71.2 19.5l0.4 -2.2M72.1 14.2l0.3 -2.2M50.2 46.9l2.1 1.3M59.6 55.9l1.3 1.9M61.9 54.9l1.4 2.2M51.1 49.1l2.0 1.5M61.4 56.2l1.8 1.9M50.9 48.3l2.0 1.6M62.0 57.4l2.3 0.9M50.0 50.2l2.4 -0.3M69.9 42.3l2.0 1.6M74.0 48.5l0.4 2.6M74.9 48.9l0.9 2.2M76.7 46.4l-0.3 2.5M17.5 70.4l2.3 0.7M64.8 12.2l2.5 0.0M65.1 11.8l2.0 -1.6" stroke="#3ce040" stroke-width="2.0" stroke-linecap="round" fill="none"/>
<path d="M4.1 13.0l-1.0 2.6M4.3 13.7l0.3 2.7M7.6 39.1l0.1 2.7M8.0 39.7l1.6 2.2M24.4 32.5l0.3 2.7M16.2 24.2l1.0 2.5M21.2 36.0l2.7 0.6M17.3 33.4l2.0 2.0M24.5 49.0l-2.4 1.2M25.7 39.7l-0.1 2.7M14.8 60.7l-1.5 2.2M15.8 52.1l-2.6 1.1M12.4 59.1l-2.6 0.6M50.9 39.0l0.2 -2.8M56.0 39.0l2.1 -1.7M53.7 29.5l2.6 -0.9M62.8 36.1l0.2 -2.7M60.8 37.0l2.6 -0.9M61.7 29.1l1.3 -2.4M60.9 28.1l1.8 -2.1M64.7 30.8l0.2 -2.8M68.3 18.6l2.1 -1.8M73.5 16.1l2.6 -0.8M70.9 17.8l1.5 -2.3M60.1 57.1l1.9 1.9M51.7 50.2l2.8 -0.2M76.5 46.7l1.5 2.3M58.6 15.9l2.6 -0.7" stroke="#3ce040" stroke-width="2.4" stroke-linecap="round" fill="none"/>
<path d="M4.8 15.2l0.4 1.1M5.0 24.3l-0.2 1.0M11.5 36.2l-0.5 0.9M9.6 42.2l0.3 1.1M6.2 24.4l0.0 1.2M7.5 43.1l-0.2 1.1M5.2 34.2l0.7 1.0M7.4 26.6l0.6 0.8M24.3 37.6l0.2 1.2M19.9 30.4l0.6 1.0M19.1 25.1l0.2 1.0M24.1 37.6l1.0 0.6M20.4 51.5l-0.2 1.2M23.5 44.8l-0.8 0.7M25.8 45.7l-0.9 0.6M28.2 43.4l-0.1 0.9M14.7 62.5l-1.0 0.4M11.3 60.9l-0.9 0.5M13.0 62.3l-1.1 0.5M16.8 54.8l-0.8 0.8M14.2 52.9l-0.9 0.3M13.2 59.4l-1.1 0.4M52.4 38.6l0.2 -1.2M42.8 41.5l1.0 -0.6M47.1 37.8l1.0 -0.3M65.6 19.6l0.9 -0.4M62.4 30.0l0.9 -0.5M61.3 28.8l0.9 -0.2M57.6 28.8l0.4 -1.1M64.6 19.1l0.9 -0.3M70.2 25.0l0.3 -0.9M64.5 18.7l0.1 -1.1M61.7 26.9l0.9 -0.4M62.2 28.5l0.8 -0.6M69.3 14.4l0.4 -0.9M66.0 13.1l0.2 -1.1M68.0 9.7l0.9 -0.4M72.8 14.2l0.3 -1.0M67.2 15.6l1.1 -0.4M51.9 48.3l1.2 -0.0M60.5 57.1l0.5 0.8M59.6 55.0l1.0 -0.1M72.2 45.2l-0.1 1.0" stroke="#0608dc" stroke-width="0.8" stroke-linecap="round" fill="none"/>
<path d="M6.8 16.2l-0.5 1.5M1.9 6.6l0.1 1.4M4.7 4.5l0.4 1.5M3.4 24.0l-0.5 1.2M7.1 20.2l-0.5 1.2M4.8 5.1l0.9 1.1M5.2 3.4l-0.7 1.4M5.3 46.3l0.9 1.0M7.2 35.0l0.3 1.7M6.5 27.2l0.9 1.0M11.3 40.8l-0.5 1.6M5.8 26.4l0.8 1.1M6.7 27.9l0.5 1.2M18.2 27.9l0.4 1.4M16.4 29.2l0.6 1.5M29.0 39.1l0.4 1.2M19.1 35.9l1.4 1.0M23.4 40.4l1.4 0.6M19.7 38.6l1.1 1.2M17.0 28.7l1.3 0.5M25.5 36.3l0.5 1.3M13.5 28.7l0.7 1.1M20.8 28.4l1.0 1.2M18.7 24.4l1.1 1.0M19.7 51.9l-0.8 1.2M20.3 53.3l-0.7 1.4M26.8 40.9l-0.8 1.4M24.7 47.9l-1.2 0.6M22.7 45.8l-1.3 0.4M27.4 41.4l-1.0 1.1M19.0 50.7l-0.8 0.9M30.3 44.0l-0.4 1.6M27.9 44.1l-1.4 1.0M11.4 62.4l-0.1 1.5M9.3 60.6l-1.1 0.7M10.7 59.8l-1.2 1.0M15.9 60.2l-1.3 0.9M15.6 59.6l-1.2 0.9M8.7 58.8l-1.2 0.4M18.3 54.9l-1.3 0.4M12.2 60.3l-0.2 1.3M42.4 39.7l1.4 -0.3M51.0 36.7l0.5 -1.3M49.3 41.6l1.1 -0.8M49.5 38.0l1.4 -0.3M50.8 38.3l1.5 -0.3M50.8 39.1l0.5 -1.6M58.4 39.2l0.8 -1.0M57.5 34.5l1.1 -0.7M49.5 47.1l1.4 -0.9M50.6 30.4l1.2 -0.4M49.3 46.5l0.2 -1.5M63.0 32.2l0.1 -1.3M63.3 22.8l0.8 -1.5M55.9 31.4l0.7 -1.4M53.0 29.8l1.3 -0.4M56.3 32.5l1.2 -0.9M55.1 31.9l1.3 -0.7M67.2 13.3l-0.0 -1.5M75.0 19.6l0.8 -1.1M68.3 17.4l-0.0 -1.3M74.4 22.1l0.4 -1.2M51.6 49.6l1.2 0.5M64.3 56.9l1.2 0.5M64.3 56.1l1.3 0.8M50.2 48.2l0.5 1.5M64.2 58.0l1.5 -0.2M63.0 56.7l1.3 -0.2M76.4 47.5l-0.2 1.4M76.0 47.9l1.1 0.9M74.0 50.3l0.9 1.0M72.4 47.7l0.8 1.3M13.1 66.8l1.4 0.8M16.9 69.2l0.5 1.2M65.1 11.1l0.9 -1.3M60.3 14.7l1.0 -0.7" stroke="#0608dc" stroke-width="1.2" stroke-linecap="round" fill="none"/>
<path d="M6.5 22.5l-0.9 1.5M2.0 11.7l1.2 1.7M2.7 5.4l-0.0 1.9M6.9 4.0l0.6 1.7M8.9 38.8l0.2 1.8M12.3 28.8l1.1 1.3M16.5 26.6l1.1 1.6M13.1 29.0l0.8 1.8M13.1 27.8l1.9 0.5M15.0 21.3l0.6 1.9M22.7 34.2l0.9 1.7M18.2 31.6l1.7 0.6M15.0 26.6l1.0 1.4M28.9 38.9l1.1 1.5M26.3 40.2l-1.6 1.2M19.3 46.8l-1.3 1.6M26.4 46.6l-1.5 1.2M24.9 42.9l-1.6 0.7M21.3 56.0l-1.7 1.1M13.1 58.3l-0.3 1.9M9.9 58.9l-1.0 1.5M14.5 63.4l-0.7 1.6M14.1 60.2l-1.6 1.2M16.6 62.4l-0.8 1.6M15.4 63.4l-0.3 1.7M55.5 37.9l1.8 -0.6M52.2 34.0l1.8 -0.6M54.2 36.8l1.2 -1.5M52.6 37.8l1.3 -1.5M47.1 37.9l0.2 -1.8M48.6 37.0l1.1 -1.8M57.7 33.2l1.5 -1.1M44.8 44.0l1.5 -1.3M65.8 29.0l1.9 -0.7M57.3 27.5l0.8 -1.8M58.8 35.6l1.7 -0.8M67.7 20.5l1.1 -1.4M62.2 38.5l1.2 -1.4M62.7 32.0l1.1 -1.4M63.3 34.7l0.5 -2.0M63.1 15.6l1.4 -1.5M65.4 30.6l1.0 -1.5M65.2 30.7l1.4 -1.2M72.3 24.2l1.6 -0.6M61.2 32.9l0.4 -2.0M73.9 16.8l1.1 -1.5M68.5 12.2l1.3 -1.5M73.8 13.7l1.5 -1.1M73.5 11.0l1.6 -1.0M67.3 15.0l1.5 -1.0M71.9 15.2l1.8 -0.7M73.5 15.3l1.8 -0.7M49.3 50.9l0.7 1.8M55.4 53.9l1.8 0.1M61.3 54.6l1.9 0.2M76.4 48.1l0.3 2.0M74.5 48.9l0.4 1.8M75.1 52.1l1.7 1.0M76.1 47.1l1.3 1.3M12.4 68.5l1.6 1.1M62.7 12.6l1.9 0.2M62.3 12.1l1.9 -0.3" stroke="#0608dc" stroke-width="1.6" stroke-linecap="round" fill="none"/>
<path d="M5.8 12.9l0.3 1.1M7.0 22.1l-0.1 1.0M5.9 15.3l0.5 1.0M6.1 45.4l0.0 1.0M6.4 26.9l0.2 1.2M6.7 38.3l0.2 1.1M7.8 40.1l0.3 1.0M8.0 37.1l-0.1 1.0M8.7 43.5l-0.1 1.2M13.7 32.5l1.2 0.3M25.0 40.9l0.9 0.6M23.5 37.4l1.1 0.4M18.5 25.6l0.9 0.2M14.3 28.7l-0.0 1.2M24.8 40.4l1.0 0.3M23.8 43.8l-0.9 0.8M25.9 41.6l0.0 1.1M25.9 47.3l-0.8 0.6M25.1 46.2l-0.8 0.6M20.5 55.3l-0.5 1.0M18.0 49.2l-0.2 1.1M13.5 54.7l-0.3 1.0M11.2 58.0l-1.0 0.4M14.4 60.0l-0.8 0.7M12.2 58.4l-0.5 1.1M11.3 57.3l-1.0 0.3M11.0 61.2l-0.8 0.8M14.4 55.7l-0.6 0.9M44.9 43.8l1.2 -0.4M44.7 43.2l0.9 -0.4M61.7 36.6l1.0 -0.3M61.2 38.3l0.8 -0.5M51.7 39.1l0.2 -0.9M63.8 30.8l0.7 -0.6M72.2 23.0l0.4 -1.0M59.6 35.8l0.9 -0.7M59.8 28.6l1.1 -0.4M64.2 30.7l1.0 -0.3M67.9 14.3l0.9 -0.5M75.5 17.9l0.1 -1.2M68.3 17.0l1.0 -0.4M72.1 16.6l0.7 -0.9M69.8 14.4l0.9 -0.4M51.2 50.7l0.8 0.6M49.4 48.7l0.7 1.0M58.5 52.5l0.9 0.7M60.6 54.0l0.6 0.9M73.4 44.9l0.9 0.8M74.8 48.6l-0.0 1.0M74.0 40.7l0.4 0.9M18.0 70.9l0.5 0.9M64.8 12.1l0.9 -0.3M55.1 17.3l0.9 -0.5M63.1 12.9l1.0 0.0" stroke="#18c4f0" stroke-width="0.8" stroke-linecap="round" fill="none"/>
<path d="M4.2 5.2l-0.0 1.4M5.1 24.1l0.4 1.5M5.7 13.1l-0.4 1.4M1.2 5.4l0.6 1.6M7.7 15.1l-0.2 1.3M7.1 22.5l-0.7 1.2M7.4 42.4l1.0 1.2M7.4 31.4l0.3 1.3M7.1 40.0l-0.0 1.5M6.4 44.0l0.7 1.1M22.9 34.7l1.5 0.6M15.3 28.4l0.1 1.7M15.5 26.1l1.5 0.6M22.0 35.8l0.5 1.6M17.1 23.9l1.2 0.6M25.3 35.0l1.5 0.5M21.9 27.9l0.1 1.3M24.1 27.7l1.0 1.1M19.5 31.5l0.1 1.7M16.2 31.0l0.1 1.4M24.6 43.5l1.3 0.6M21.2 50.3l-0.1 1.6M24.2 46.2l-0.6 1.5M18.8 51.9l-0.7 1.1M17.9 52.1l-0.8 1.1M24.6 39.4l-0.1 1.4M13.3 60.1l-1.2 0.7M9.2 57.6l-1.1 0.8M13.3 63.1l-1.4 0.3M19.8 56.2l-0.0 1.5M14.5 61.7l-1.4 0.8M17.6 53.1l-0.3 1.6M14.5 63.0l-1.0 1.2M12.4 57.9l-0.9 1.3M50.7 38.8l0.2 -1.5M58.5 38.3l1.5 -0.5M56.5 38.5l0.9 -1.3M48.5 36.0l1.0 -0.8M50.5 37.1l0.3 -1.4M58.9 36.9l1.5 -0.5M59.2 34.2l1.4 -0.4M56.7 44.1l0.5 -1.2M58.8 35.3l0.3 -1.3M58.5 32.3l0.7 -1.5M59.4 33.5l1.2 -0.5M53.6 30.1l0.4 -1.2M62.7 37.7l0.8 -1.5M61.1 23.3l0.7 -1.0M68.5 21.5l0.9 -1.1M56.3 27.9l1.3 -0.9M64.2 36.1l1.0 -0.8M69.9 23.7l1.3 -1.0M56.8 32.7l0.1 -1.3M57.1 31.8l0.5 -1.1M69.2 16.8l0.5 -1.1M71.2 17.0l0.2 -1.3M67.6 14.6l1.3 -0.3M71.6 13.1l1.0 -1.0M68.0 15.4l1.2 -1.0M67.5 17.2l0.1 -1.7M77.2 15.6l0.8 -1.1M52.0 47.4l0.5 1.3M62.2 57.6l1.3 0.4M60.1 53.4l0.8 1.5M64.2 55.7l1.1 0.8M51.2 50.4l1.3 0.3M74.6 48.5l1.3 1.0M75.7 48.9l-0.1 1.6M15.1 67.6l1.0 1.2" stroke="#18c4f0" stroke-width="1.2" stroke-linecap="round" fill="none"/>
<path d="M1.7 2.8l1.1 1.4M10.0 42.2l0.1 1.8M13.4 31.8l0.7 1.6M15.8 23.4l1.6 0.8M24.4 43.6l1.4 1.2M26.8 49.3l-1.3 1.3M30.4 43.9l-1.4 1.1M24.7 54.9l-1.8 0.5M10.3 56.9l-1.2 1.2M19.9 61.4l-1.2 1.4M44.9 43.8l1.2 -1.4M51.4 40.6l1.8 -0.5M56.4 31.8l0.7 -1.6M57.4 33.6l1.7 -0.8M66.2 26.0l0.5 -1.8M69.5 23.8l1.4 -1.1M57.6 21.8l1.7 -0.5M64.4 18.5l1.5 -1.1M58.1 25.7l1.2 -1.2M66.4 32.9l0.8 -1.6M71.4 18.9l0.2 -1.8M60.2 55.6l1.8 0.1M71.1 34.6l-0.4 1.7M75.2 47.7l-0.2 1.9" stroke="#18c4f0" stroke-width="1.6" stroke-linecap="round" fill="none"/>
<path d="M20.0 52.7l-0.1 1.2M24.1 46.2l-0.3 1.2M27.7 42.3l-0.1 1.1M12.9 57.6l-0.5 1.1M48.7 36.7l1.1 -0.5M51.9 33.1l1.1 -0.4M47.1 41.0l0.5 -1.1M64.3 29.0l0.2 -1.1M58.3 29.5l1.0 -0.6M56.8 33.2l0.3 -1.2M71.6 14.5l0.9 -0.8M71.7 19.8l1.1 -0.5M58.7 55.6l1.2 0.1" stroke="#b0f020" stroke-width="0.8" stroke-linecap="round" fill="none"/>
<path d="M18.2 54.2l-1.1 0.5M20.9 49.7l-1.6 0.6M22.6 52.6l-1.2 0.9M15.5 52.3l-1.2 0.5M13.7 61.0l-1.2 1.0M11.8 61.3l-0.2 1.4M15.7 58.0l-0.0 1.5M12.0 59.9l-0.9 1.5M12.4 57.6l-0.5 1.2M14.7 60.1l-0.8 1.1M14.6 61.6l-0.8 1.5M11.1 58.1l-0.5 1.4M13.0 56.7l-0.6 1.5M51.1 37.2l1.2 -0.3M47.6 43.3l1.5 -0.2M49.5 38.5l1.4 -0.9M55.2 38.8l1.3 -0.7M52.8 39.1l0.3 -1.4M53.9 39.6l1.5 -0.6M60.3 26.2l0.9 -1.3M60.4 27.4l0.0 -1.3M56.0 33.1l0.2 -1.6M58.6 34.1l1.5 -0.3M59.0 35.0l1.4 -0.8M62.8 32.6l1.2 -0.5M65.7 19.4l0.8 -1.3M59.0 32.7l0.3 -1.4M68.9 17.0l0.9 -0.8M73.5 13.1l1.0 -1.3M72.8 13.4l0.0 -1.6M75.1 16.4l0.8 -0.9M63.2 58.0l1.5 0.4M51.1 48.9l1.3 0.9M64.8 57.9l1.3 0.6M50.0 48.1l1.2 1.0M53.6 51.6l1.6 -0.1" stroke="#b0f020" stroke-width="1.2" stroke-linecap="round" fill="none"/>
<path d="M25.5 47.1l-1.7 0.6M26.6 41.8l-0.6 1.7M20.9 49.3l-0.9 1.6M28.6 45.7l-1.6 0.7M27.9 44.7l-0.4 1.7M12.0 60.1l-0.4 1.9M13.9 63.0l-1.8 0.5M12.8 62.0l-1.3 1.2M49.3 37.9l1.6 -0.7M54.9 30.8l1.1 -1.5M48.0 43.5l0.7 -1.6M47.3 45.6l0.9 -1.8M49.2 37.4l1.9 -0.5M55.7 31.5l1.9 -0.8M57.6 33.4l0.5 -1.9M64.2 26.8l0.5 -1.6M63.1 28.5l1.1 -1.7M58.2 29.4l1.3 -1.2M66.6 19.1l1.9 -0.6M58.7 33.7l0.6 -1.9M71.2 21.4l0.4 -2.0M72.9 17.0l0.8 -1.6M72.2 16.5l1.9 -0.7M70.9 15.2l1.4 -1.1M49.8 47.7l1.8 1.0M61.2 56.2l1.8 -0.2" stroke="#b0f020" stroke-width="1.6" stroke-linecap="round" fill="none"/>
<path d="M23.3 46.7l-0.9 0.6M18.0 51.3l-0.4 1.0M28.4 44.2l-0.8 0.7M10.3 59.4l-0.3 1.1M15.7 58.5l-0.2 1.0M12.4 59.9l-0.7 0.8M8.2 66.6l-0.6 0.7M11.3 61.2l-0.9 0.4M55.3 33.7l0.6 -0.9M45.9 44.0l0.9 -0.8M50.2 39.9l0.7 -0.9M53.0 33.9l0.4 -1.1M55.8 32.5l0.8 -0.8M48.4 46.8l0.8 -0.7M58.8 33.0l0.7 -0.9M59.9 25.6l0.9 -0.8M58.9 34.4l0.3 -1.0M62.2 26.9l0.9 -0.4M58.7 32.7l0.8 -0.9M71.6 15.1l1.0 -0.6M71.6 18.7l1.0 -0.3M71.1 14.6l0.9 -0.8M61.5 56.6l0.7 0.7M61.5 55.4l0.7 0.7" stroke="#f8e020" stroke-width="0.8" stroke-linecap="round" fill="none"/>
<path d="M27.3 43.6l-1.2 0.5M24.4 43.7l-0.6 1.5M25.0 45.9l-1.2 0.5M25.8 42.5l-0.9 1.1M23.8 47.4l-0.4 1.2M18.9 55.3l-1.1 1.0M14.3 60.0l-1.3 1.0M14.7 58.7l-0.5 1.4M14.6 57.5l-0.5 1.2M16.6 57.6l-1.4 0.6M52.1 40.4l0.8 -0.9M57.4 34.6l0.5 -1.5M56.9 34.3l1.2 -0.9M45.9 44.6l0.2 -1.6M52.3 41.6l1.5 -0.3M59.3 34.1l0.6 -1.1M60.4 28.3l1.3 -0.4M68.4 21.3l1.0 -0.9M69.7 21.9l1.1 -0.8M57.2 31.4l1.4 -0.5M65.1 20.5l1.3 -0.7M58.7 31.8l0.8 -1.2M60.3 26.5l0.8 -1.2M73.6 13.7l1.3 -0.3M74.0 14.4l0.5 -1.3M73.1 15.6l1.0 -1.3M72.1 14.0l0.6 -1.4M74.5 13.4l0.9 -1.3M61.0 57.4l1.4 -0.1M54.9 51.7l0.9 1.1M50.5 48.8l0.6 1.3M61.6 54.9l1.1 0.9" stroke="#f8e020" stroke-width="1.2" stroke-linecap="round" fill="none"/>
<path d="M28.9 43.3l-1.0 0.6M22.4 47.0l-0.6 1.1M23.6 48.5l-1.0 0.2M20.4 51.1l-0.8 0.9M23.2 47.0l-0.9 0.6M10.7 57.6l-0.9 0.5M11.8 66.7l-0.6 1.0M14.3 52.2l-0.4 1.0M14.4 58.7l-0.5 0.9M11.9 58.0l-0.1 1.2M54.7 36.4l0.8 -0.1M46.4 45.2l0.6 -0.6M48.1 44.4l0.7 -0.9M47.0 44.0l0.5 -0.8M52.1 36.1l0.8 -0.3M55.1 32.4l1.0 -0.7M55.7 32.5l0.5 -0.8M53.8 34.3l0.4 -0.9M55.3 35.9l0.2 -1.0M51.8 33.8l0.9 -0.7M52.1 41.9l0.4 -1.0M59.9 32.9l0.8 -0.9M69.8 20.6l0.1 -1.0M70.9 24.5l1.0 -0.6M60.6 31.0l0.2 -1.2M58.0 29.9l0.0 -0.8M59.9 30.0l0.6 -0.8M62.3 27.7l0.6 -0.6M67.7 21.8l0.2 -1.2M64.3 23.6l0.9 -0.4M60.1 26.6l0.9 -0.4M72.8 16.8l0.6 -0.8M72.4 10.7l0.8 -0.2M71.8 11.9l0.7 -0.4M68.9 14.9l0.2 -0.9M71.7 19.1l0.4 -0.6M69.4 16.0l0.1 -1.0M70.8 15.0l0.7 -0.6M57.8 54.3l0.6 0.5M60.0 56.1l0.5 1.1M51.2 49.8l1.0 -0.0M58.2 52.9l0.4 1.1M60.1 55.8l0.4 1.0M65.3 58.3l1.1 0.2M58.2 53.8l0.5 0.6" stroke="#3ce040" stroke-width="0.8" stroke-linecap="round" fill="none"/>
<path d="M27.9 45.0l-0.3 1.4M20.0 51.8l-1.2 0.3M27.6 43.5l-1.3 0.4M25.6 40.4l-0.7 1.0M27.6 44.6l-1.3 0.5M22.2 51.8l-0.3 1.3M15.3 60.9l-1.2 0.7M12.1 61.1l-0.8 1.0M12.2 58.8l-1.0 1.0M15.3 57.2l-0.6 1.4M18.9 54.9l-0.4 1.4M11.2 57.8l-0.1 1.3M15.9 60.1l-0.1 1.4M7.9 67.4l-1.3 0.4M14.1 56.4l-0.8 1.0M45.0 43.8l1.1 -1.0M46.1 43.6l1.0 -0.8M46.2 43.2l0.9 -1.0M59.1 31.2l1.0 -1.0M59.4 31.9l1.2 -0.3M67.3 30.1l0.0 -1.4M57.3 29.1l0.0 -1.3M57.4 31.8l1.1 -1.0M63.2 25.0l1.2 -0.5M64.0 29.8l1.1 -0.6M63.2 27.3l0.9 -0.8M68.7 16.9l1.3 -0.6M68.9 15.8l0.8 -1.0M71.1 18.8l0.5 -1.2M60.8 56.6l1.4 0.2" stroke="#3ce040" stroke-width="1.2" stroke-linecap="round" fill="none"/>
<path d="M22.8 47.4l-0.4 0.7M23.1 48.8l-0.5 0.8M22.1 52.4l-0.6 0.6M23.2 48.2l-0.7 0.6M23.8 45.2l-0.5 0.8M24.3 47.2l-0.7 0.4M26.7 44.0l-0.9 0.7M14.4 58.1l-0.7 0.3M9.0 61.4l-0.3 1.2M14.2 57.3l-0.3 1.0M14.9 57.5l-0.5 1.0M10.8 59.7l-0.7 0.2M51.4 39.1l0.4 -1.0M50.7 38.5l0.1 -1.2M54.2 36.5l0.2 -0.9M51.8 38.3l0.6 -0.6M51.8 40.4l1.2 -0.2M56.0 34.0l0.5 -0.6M58.2 33.7l0.9 -0.1M68.1 21.2l0.9 -0.7M63.6 22.8l0.0 -1.2M56.3 30.4l0.9 -0.3M61.1 26.8l0.8 -0.3M68.0 20.2l0.9 -0.5M56.6 31.9l0.7 -0.5M55.7 51.9l1.2 0.2M57.2 53.8l0.7 0.2M50.6 48.7l0.8 0.5M62.6 55.9l0.5 0.9" stroke="#ff8a10" stroke-width="0.8" stroke-linecap="round" fill="none"/>
<path d="M12.7 60.8l-0.6 1.1M12.7 61.3l-0.1 1.4M14.2 59.7l-0.4 1.3M55.7 33.4l1.4 -0.6M47.5 44.8l0.7 -1.1M55.9 35.7l0.2 -1.4M64.0 29.8l0.5 -1.4M58.9 33.5l0.9 -1.1M58.6 32.6l1.0 -1.1M63.6 29.0l0.2 -1.4M58.7 54.9l1.4 0.2" stroke="#ff8a10" stroke-width="1.2" stroke-linecap="round" fill="none"/>
<path d="M12.5 60.7l-0.4 0.5M13.1 59.9l-0.1 0.7M14.1 59.5l-0.2 0.6M61.7 27.3l0.2 -0.6M66.9 22.2l0.6 -0.3M50.6 49.2l0.6 0.3" stroke="#f01818" stroke-width="0.4" stroke-linecap="round" fill="none"/>
<path d="M26.9 42.3l-0.1 1.1M18.6 53.3l-0.1 1.1M28.5 42.9l-1.0 0.3M27.9 42.3l-0.4 0.8M12.2 62.0l-0.8 0.6M11.9 59.4l-0.1 1.1M17.2 57.6l-0.8 0.2M54.0 35.7l0.9 -0.2M55.0 36.2l0.8 -0.3M46.3 44.7l0.8 -0.9M47.5 43.2l0.7 -0.2M51.5 39.2l0.2 -0.8M57.4 34.4l0.6 -0.9M55.2 35.8l0.9 -0.4M56.4 32.0l1.2 -0.2M61.7 27.8l0.2 -0.8M59.8 29.3l0.4 -0.9M58.7 31.5l0.7 -0.2M62.3 29.2l0.4 -0.7M62.4 27.3l0.2 -0.8M57.6 53.3l0.9 0.6M63.2 56.8l0.3 0.9" stroke="#f01818" stroke-width="0.8" stroke-linecap="round" fill="none"/>
<path d="M24.2 47.1l-0.2 1.3M19.4 52.1l-0.7 1.0M16.1 56.8l-1.1 0.4M64.8 22.3l0.4 -1.2M58.8 33.7l0.2 -1.2M57.0 32.6l0.6 -1.1M51.2 49.0l0.7 1.1" stroke="#f01818" stroke-width="1.2" stroke-linecap="round" fill="none"/>
</g>
<use href="#microl" transform="scale(0.9506)"/>
<path d="M27.5 41.6 L39.3 35.2 Q40.5 42 46.2 47.4 Q36 45.6 27.5 41.6 Z" fill="#fff" stroke="#fff" stroke-width="0.4" stroke-linejoin="round"/>
</g>
<text x="315.8" y="155.9" font-size="7.2" text-anchor="middle" font-weight="normal" fill="#222" stroke="#222" stroke-width="0.16" textLength="30" lengthAdjust="spacingAndGlyphs" >Pore-free</text>
<text x="397.9" y="155.9" font-size="7.2" text-anchor="middle" font-weight="normal" fill="#222" stroke="#222" stroke-width="0.16" textLength="40" lengthAdjust="spacingAndGlyphs" >Gas/keyhole</text>
<text x="479.4" y="155.9" font-size="6.27" text-anchor="middle" font-weight="normal" fill="#222" stroke="#222" stroke-width="0.14" textLength="12.2" lengthAdjust="spacingAndGlyphs" >LOF</text>
<rect x="521.6" y="84.80" width="6.6" height="4.52" fill="#c8c8c8"/>
<rect x="521.6" y="89.27" width="6.6" height="4.52" fill="#f01010"/>
<rect x="521.6" y="93.73" width="6.6" height="4.52" fill="#ff7a00"/>
<rect x="521.6" y="98.20" width="6.6" height="4.52" fill="#ffd000"/>
<rect x="521.6" y="102.67" width="6.6" height="4.52" fill="#f0f000"/>
<rect x="521.6" y="107.13" width="6.6" height="4.52" fill="#a0f000"/>
<rect x="521.6" y="111.60" width="6.6" height="4.52" fill="#40e800"/>
<rect x="521.6" y="116.07" width="6.6" height="4.52" fill="#00e060"/>
<rect x="521.6" y="120.53" width="6.6" height="4.52" fill="#00e0b0"/>
<rect x="521.6" y="125.00" width="6.6" height="4.52" fill="#00c8f0"/>
<rect x="521.6" y="129.47" width="6.6" height="4.52" fill="#0078ff"/>
<rect x="521.6" y="133.93" width="6.6" height="4.52" fill="#0020f0"/>
<text x="529.3" y="91.6" font-size="4.6" text-anchor="start" font-weight="bold" fill="#222" stroke="#222" stroke-width="0.10" >0.040</text>
<text x="529.3" y="114.2" font-size="4.6" text-anchor="start" font-weight="bold" fill="#222" stroke="#222" stroke-width="0.10" >0.020</text>
<text x="530.2" y="135.6" font-size="4.6" text-anchor="start" font-weight="bold" fill="#222" stroke="#222" stroke-width="0.10" >0</text>
<line x1="528.2" y1="89.3" x2="529.3" y2="89.3" stroke="#333" stroke-width="0.4"/>
<line x1="528.2" y1="111.8" x2="529.3" y2="111.8" stroke="#333" stroke-width="0.4"/>
<line x1="528.2" y1="133.9" x2="529.3" y2="133.9" stroke="#333" stroke-width="0.4"/>
<text x="520.8" y="79.5" font-size="9.4" font-weight="bold" fill="#111">J/m<tspan font-size="6" dy="-3.4">2</tspan></text>
<line x1="516.6" y1="171.3" x2="516.6" y2="164.70000000000002" stroke="#10c020" stroke-width="0.9"/>
<polygon points="516.6,162.70000000000002 515.3000000000001,165.70000000000002 517.9,165.70000000000002" fill="#10c020"/>
<line x1="516.6" y1="171.3" x2="523.2" y2="171.3" stroke="#e01818" stroke-width="0.9"/>
<polygon points="525.2,171.3 522.2,170.10000000000002 522.2,172.5" fill="#e01818"/>
<rect x="515.6" y="170.3" width="2.2" height="2" fill="#101070"/>
<text x="516.8000000000001" y="158.3" font-size="5.2" text-anchor="middle" font-weight="bold" fill="#111" stroke="#111" stroke-width="0.11" >Y</text>
<text x="530.8000000000001" y="173.0" font-size="5.2" text-anchor="middle" font-weight="bold" fill="#111" stroke="#111" stroke-width="0.11" >X</text>
<text x="409" y="178.6" font-size="10.65" text-anchor="middle" font-weight="normal" fill="#111" stroke="#111" stroke-width="0.23" textLength="122" lengthAdjust="spacingAndGlyphs" >G evolution – fatigue lives</text>
<rect x="335.0" y="190.4" width="160.3" height="129.20000000000002" fill="#ffffff"/>
<path d="M335.0 190.4 L399 190.4 L465.3 240.9 L495.3 240.9 L495.3 319.6 L442 319.6 L420 291.5 L410 282 L372.3 250 L335.0 218.3 Z" fill="#fdfde6"/>
<line x1="361.7" y1="190.4" x2="361.7" y2="319.6" stroke="#cfcfcf" stroke-width="0.7"/>
<line x1="388.4" y1="190.4" x2="388.4" y2="319.6" stroke="#cfcfcf" stroke-width="0.7"/>
<line x1="415.1" y1="190.4" x2="415.1" y2="319.6" stroke="#cfcfcf" stroke-width="0.7"/>
<line x1="441.9" y1="190.4" x2="441.9" y2="319.6" stroke="#cfcfcf" stroke-width="0.7"/>
<line x1="468.6" y1="190.4" x2="468.6" y2="319.6" stroke="#cfcfcf" stroke-width="0.7"/>
<line x1="335.0" y1="199.8" x2="495.3" y2="199.8" stroke="#cfcfcf" stroke-width="0.7"/>
<line x1="335.0" y1="218.3" x2="495.3" y2="218.3" stroke="#cfcfcf" stroke-width="0.7"/>
<line x1="335.0" y1="236.7" x2="495.3" y2="236.7" stroke="#cfcfcf" stroke-width="0.7"/>
<line x1="335.0" y1="255.1" x2="495.3" y2="255.1" stroke="#cfcfcf" stroke-width="0.7"/>
<line x1="335.0" y1="273.6" x2="495.3" y2="273.6" stroke="#cfcfcf" stroke-width="0.7"/>
<line x1="335.0" y1="292.1" x2="495.3" y2="292.1" stroke="#cfcfcf" stroke-width="0.7"/>
<line x1="335.0" y1="310.6" x2="495.3" y2="310.6" stroke="#cfcfcf" stroke-width="0.7"/>
<path d="M399 190.4 L465.3 240.9 L495.3 240.9" fill="none" stroke="#bdbda6" stroke-width="0.7" stroke-dasharray="1.3 1.1"/>
<path d="M335.0 218.3 L372.3 250 L410 282 L420 291.5 L442 319.6" fill="none" stroke="#bdbda6" stroke-width="0.7" stroke-dasharray="1.3 1.1"/>
<rect x="335.0" y="190.4" width="160.3" height="129.20000000000002" fill="none" stroke="#444" stroke-width="0.9"/>
<line x1="332.6" y1="199.8" x2="335.0" y2="199.8" stroke="#333" stroke-width="0.7"/>
<line x1="495.3" y1="199.8" x2="497.7" y2="199.8" stroke="#333" stroke-width="0.7"/>
<line x1="333.6" y1="209.0" x2="335.0" y2="209.0" stroke="#333" stroke-width="0.6"/>
<line x1="495.3" y1="209.0" x2="496.7" y2="209.0" stroke="#333" stroke-width="0.6"/>
<line x1="332.6" y1="218.3" x2="335.0" y2="218.3" stroke="#333" stroke-width="0.7"/>
<line x1="495.3" y1="218.3" x2="497.7" y2="218.3" stroke="#333" stroke-width="0.7"/>
<line x1="333.6" y1="227.5" x2="335.0" y2="227.5" stroke="#333" stroke-width="0.6"/>
<line x1="495.3" y1="227.5" x2="496.7" y2="227.5" stroke="#333" stroke-width="0.6"/>
<line x1="332.6" y1="236.7" x2="335.0" y2="236.7" stroke="#333" stroke-width="0.7"/>
<line x1="495.3" y1="236.7" x2="497.7" y2="236.7" stroke="#333" stroke-width="0.7"/>
<line x1="333.6" y1="245.89999999999998" x2="335.0" y2="245.89999999999998" stroke="#333" stroke-width="0.6"/>
<line x1="495.3" y1="245.89999999999998" x2="496.7" y2="245.89999999999998" stroke="#333" stroke-width="0.6"/>
<line x1="332.6" y1="255.1" x2="335.0" y2="255.1" stroke="#333" stroke-width="0.7"/>
<line x1="495.3" y1="255.1" x2="497.7" y2="255.1" stroke="#333" stroke-width="0.7"/>
<line x1="333.6" y1="264.3" x2="335.0" y2="264.3" stroke="#333" stroke-width="0.6"/>
<line x1="495.3" y1="264.3" x2="496.7" y2="264.3" stroke="#333" stroke-width="0.6"/>
<line x1="332.6" y1="273.6" x2="335.0" y2="273.6" stroke="#333" stroke-width="0.7"/>
<line x1="495.3" y1="273.6" x2="497.7" y2="273.6" stroke="#333" stroke-width="0.7"/>
<line x1="333.6" y1="282.8" x2="335.0" y2="282.8" stroke="#333" stroke-width="0.6"/>
<line x1="495.3" y1="282.8" x2="496.7" y2="282.8" stroke="#333" stroke-width="0.6"/>
<line x1="332.6" y1="292.1" x2="335.0" y2="292.1" stroke="#333" stroke-width="0.7"/>
<line x1="495.3" y1="292.1" x2="497.7" y2="292.1" stroke="#333" stroke-width="0.7"/>
<line x1="333.6" y1="301.3" x2="335.0" y2="301.3" stroke="#333" stroke-width="0.6"/>
<line x1="495.3" y1="301.3" x2="496.7" y2="301.3" stroke="#333" stroke-width="0.6"/>
<line x1="332.6" y1="310.6" x2="335.0" y2="310.6" stroke="#333" stroke-width="0.7"/>
<line x1="495.3" y1="310.6" x2="497.7" y2="310.6" stroke="#333" stroke-width="0.7"/>
<line x1="335.0" y1="319.6" x2="335.0" y2="322.0" stroke="#333" stroke-width="0.7"/>
<line x1="343.0" y1="319.6" x2="343.0" y2="320.90000000000003" stroke="#333" stroke-width="0.45"/>
<line x1="347.7" y1="319.6" x2="347.7" y2="320.90000000000003" stroke="#333" stroke-width="0.45"/>
<line x1="351.1" y1="319.6" x2="351.1" y2="320.90000000000003" stroke="#333" stroke-width="0.45"/>
<line x1="353.7" y1="319.6" x2="353.7" y2="320.90000000000003" stroke="#333" stroke-width="0.45"/>
<line x1="355.8" y1="319.6" x2="355.8" y2="320.90000000000003" stroke="#333" stroke-width="0.45"/>
<line x1="357.6" y1="319.6" x2="357.6" y2="320.90000000000003" stroke="#333" stroke-width="0.45"/>
<line x1="359.1" y1="319.6" x2="359.1" y2="320.90000000000003" stroke="#333" stroke-width="0.45"/>
<line x1="360.5" y1="319.6" x2="360.5" y2="320.90000000000003" stroke="#333" stroke-width="0.45"/>
<line x1="361.7" y1="319.6" x2="361.7" y2="322.0" stroke="#333" stroke-width="0.7"/>
<line x1="369.8" y1="319.6" x2="369.8" y2="320.90000000000003" stroke="#333" stroke-width="0.45"/>
<line x1="374.5" y1="319.6" x2="374.5" y2="320.90000000000003" stroke="#333" stroke-width="0.45"/>
<line x1="377.8" y1="319.6" x2="377.8" y2="320.90000000000003" stroke="#333" stroke-width="0.45"/>
<line x1="380.4" y1="319.6" x2="380.4" y2="320.90000000000003" stroke="#333" stroke-width="0.45"/>
<line x1="382.5" y1="319.6" x2="382.5" y2="320.90000000000003" stroke="#333" stroke-width="0.45"/>
<line x1="384.3" y1="319.6" x2="384.3" y2="320.90000000000003" stroke="#333" stroke-width="0.45"/>
<line x1="385.8" y1="319.6" x2="385.8" y2="320.90000000000003" stroke="#333" stroke-width="0.45"/>
<line x1="387.2" y1="319.6" x2="387.2" y2="320.90000000000003" stroke="#333" stroke-width="0.45"/>
<line x1="388.4" y1="319.6" x2="388.4" y2="322.0" stroke="#333" stroke-width="0.7"/>
<line x1="396.5" y1="319.6" x2="396.5" y2="320.90000000000003" stroke="#333" stroke-width="0.45"/>
<line x1="401.2" y1="319.6" x2="401.2" y2="320.90000000000003" stroke="#333" stroke-width="0.45"/>
<line x1="404.5" y1="319.6" x2="404.5" y2="320.90000000000003" stroke="#333" stroke-width="0.45"/>
<line x1="407.1" y1="319.6" x2="407.1" y2="320.90000000000003" stroke="#333" stroke-width="0.45"/>
<line x1="409.2" y1="319.6" x2="409.2" y2="320.90000000000003" stroke="#333" stroke-width="0.45"/>
<line x1="411.0" y1="319.6" x2="411.0" y2="320.90000000000003" stroke="#333" stroke-width="0.45"/>
<line x1="412.6" y1="319.6" x2="412.6" y2="320.90000000000003" stroke="#333" stroke-width="0.45"/>
<line x1="413.9" y1="319.6" x2="413.9" y2="320.90000000000003" stroke="#333" stroke-width="0.45"/>
<line x1="415.1" y1="319.6" x2="415.1" y2="322.0" stroke="#333" stroke-width="0.7"/>
<line x1="423.2" y1="319.6" x2="423.2" y2="320.90000000000003" stroke="#333" stroke-width="0.45"/>
<line x1="427.9" y1="319.6" x2="427.9" y2="320.90000000000003" stroke="#333" stroke-width="0.45"/>
<line x1="431.2" y1="319.6" x2="431.2" y2="320.90000000000003" stroke="#333" stroke-width="0.45"/>
<line x1="433.8" y1="319.6" x2="433.8" y2="320.90000000000003" stroke="#333" stroke-width="0.45"/>
<line x1="435.9" y1="319.6" x2="435.9" y2="320.90000000000003" stroke="#333" stroke-width="0.45"/>
<line x1="437.7" y1="319.6" x2="437.7" y2="320.90000000000003" stroke="#333" stroke-width="0.45"/>
<line x1="439.3" y1="319.6" x2="439.3" y2="320.90000000000003" stroke="#333" stroke-width="0.45"/>
<line x1="440.6" y1="319.6" x2="440.6" y2="320.90000000000003" stroke="#333" stroke-width="0.45"/>
<line x1="441.9" y1="319.6" x2="441.9" y2="322.0" stroke="#333" stroke-width="0.7"/>
<line x1="449.9" y1="319.6" x2="449.9" y2="320.90000000000003" stroke="#333" stroke-width="0.45"/>
<line x1="454.6" y1="319.6" x2="454.6" y2="320.90000000000003" stroke="#333" stroke-width="0.45"/>
<line x1="458.0" y1="319.6" x2="458.0" y2="320.90000000000003" stroke="#333" stroke-width="0.45"/>
<line x1="460.5" y1="319.6" x2="460.5" y2="320.90000000000003" stroke="#333" stroke-width="0.45"/>
<line x1="462.7" y1="319.6" x2="462.7" y2="320.90000000000003" stroke="#333" stroke-width="0.45"/>
<line x1="464.4" y1="319.6" x2="464.4" y2="320.90000000000003" stroke="#333" stroke-width="0.45"/>
<line x1="466.0" y1="319.6" x2="466.0" y2="320.90000000000003" stroke="#333" stroke-width="0.45"/>
<line x1="467.4" y1="319.6" x2="467.4" y2="320.90000000000003" stroke="#333" stroke-width="0.45"/>
<line x1="468.6" y1="319.6" x2="468.6" y2="322.0" stroke="#333" stroke-width="0.7"/>
<line x1="476.6" y1="319.6" x2="476.6" y2="320.90000000000003" stroke="#333" stroke-width="0.45"/>
<line x1="481.3" y1="319.6" x2="481.3" y2="320.90000000000003" stroke="#333" stroke-width="0.45"/>
<line x1="484.7" y1="319.6" x2="484.7" y2="320.90000000000003" stroke="#333" stroke-width="0.45"/>
<line x1="487.3" y1="319.6" x2="487.3" y2="320.90000000000003" stroke="#333" stroke-width="0.45"/>
<line x1="489.4" y1="319.6" x2="489.4" y2="320.90000000000003" stroke="#333" stroke-width="0.45"/>
<line x1="491.2" y1="319.6" x2="491.2" y2="320.90000000000003" stroke="#333" stroke-width="0.45"/>
<line x1="492.7" y1="319.6" x2="492.7" y2="320.90000000000003" stroke="#333" stroke-width="0.45"/>
<line x1="494.1" y1="319.6" x2="494.1" y2="320.90000000000003" stroke="#333" stroke-width="0.45"/>
<line x1="495.3" y1="319.6" x2="495.3" y2="322.0" stroke="#333" stroke-width="0.7"/>
<text x="307.6" y="200.8" font-size="6.3" fill="#333">1.0σ<tspan font-size="3.7" dy="1.6">0.2%P</tspan></text>
<text x="307.6" y="219.3" font-size="6.3" fill="#333">0.9σ<tspan font-size="3.7" dy="1.6">0.2%P</tspan></text>
<text x="307.6" y="237.7" font-size="6.3" fill="#333">0.8σ<tspan font-size="3.7" dy="1.6">0.2%P</tspan></text>
<text x="307.6" y="256.1" font-size="6.3" fill="#333">0.7σ<tspan font-size="3.7" dy="1.6">0.2%P</tspan></text>
<text x="307.6" y="274.6" font-size="6.3" fill="#333">0.6σ<tspan font-size="3.7" dy="1.6">0.2%P</tspan></text>
<text x="307.6" y="293.1" font-size="6.3" fill="#333">0.5σ<tspan font-size="3.7" dy="1.6">0.2%P</tspan></text>
<text x="307.6" y="311.6" font-size="6.3" fill="#333">0.4σ<tspan font-size="3.7" dy="1.6">0.2%P</tspan></text>
<text x="499.9" y="201.8" font-size="5.51" text-anchor="start" font-weight="normal" fill="#333" stroke="#333" stroke-width="0.12" textLength="13.8" lengthAdjust="spacingAndGlyphs" >313.0</text>
<text x="499.9" y="220.3" font-size="5.51" text-anchor="start" font-weight="normal" fill="#333" stroke="#333" stroke-width="0.12" textLength="13.8" lengthAdjust="spacingAndGlyphs" >281.7</text>
<text x="499.9" y="238.7" font-size="5.51" text-anchor="start" font-weight="normal" fill="#333" stroke="#333" stroke-width="0.12" textLength="13.8" lengthAdjust="spacingAndGlyphs" >250.4</text>
<text x="499.9" y="257.1" font-size="5.51" text-anchor="start" font-weight="normal" fill="#333" stroke="#333" stroke-width="0.12" textLength="13.8" lengthAdjust="spacingAndGlyphs" >219.1</text>
<text x="499.9" y="275.6" font-size="5.51" text-anchor="start" font-weight="normal" fill="#333" stroke="#333" stroke-width="0.12" textLength="13.8" lengthAdjust="spacingAndGlyphs" >187.8</text>
<text x="499.9" y="294.1" font-size="5.51" text-anchor="start" font-weight="normal" fill="#333" stroke="#333" stroke-width="0.12" textLength="13.8" lengthAdjust="spacingAndGlyphs" >156.5</text>
<text x="499.9" y="312.6" font-size="5.51" text-anchor="start" font-weight="normal" fill="#333" stroke="#333" stroke-width="0.12" textLength="13.8" lengthAdjust="spacingAndGlyphs" >125.2</text>
<text x="331.4" y="329" font-size="5.6" fill="#333">10<tspan font-size="3.6" dy="-2.4">1</tspan></text>
<text x="358.1" y="329" font-size="5.6" fill="#333">10<tspan font-size="3.6" dy="-2.4">2</tspan></text>
<text x="384.8" y="329" font-size="5.6" fill="#333">10<tspan font-size="3.6" dy="-2.4">3</tspan></text>
<text x="411.5" y="329" font-size="5.6" fill="#333">10<tspan font-size="3.6" dy="-2.4">4</tspan></text>
<text x="438.3" y="329" font-size="5.6" fill="#333">10<tspan font-size="3.6" dy="-2.4">5</tspan></text>
<text x="465.0" y="329" font-size="5.6" fill="#333">10<tspan font-size="3.6" dy="-2.4">6</tspan></text>
<text x="491.7" y="329" font-size="5.6" fill="#333">10<tspan font-size="3.6" dy="-2.4">7</tspan></text>
<text x="389.5" y="339.2" font-size="6.77" text-anchor="start" font-weight="normal" fill="#222" stroke="#222" stroke-width="0.15" textLength="52.3" lengthAdjust="spacingAndGlyphs" >Number of cycles</text>
<text transform="translate(303,251.5) rotate(-90)" font-size="7" text-anchor="middle" fill="#222">Maximum stress σ<tspan font-size="4.5" dy="1.5">max</tspan></text>
<text transform="translate(516.3,255.4) rotate(90)" font-size="6.6" font-weight="bold" text-anchor="middle" fill="#222">(MPa)</text>
<rect x="441" y="191.8" width="52.6" height="28.4" fill="#ffffff" stroke="#555" stroke-width="0.6"/>
<rect x="446.5" y="195.4" width="2.0" height="2.0" fill="#222"/>
<circle cx="447.5" cy="203.2" r="1.25" fill="#e8202a"/>
<path d="M447.5 208.4 L449.0 211.0 L446.0 211.0 Z" fill="#1f5fd0"/>
<path d="M447.5 217.5 L449.0 214.9 L446.0 214.9 Z" fill="#1aa05a"/>
<text x="455" y="198.3" font-size="5.2" text-anchor="start" font-weight="normal" fill="#222" stroke="#222" stroke-width="0.11" textLength="18.5" lengthAdjust="spacingAndGlyphs" >No pore</text>
<text x="455" y="204.8" font-size="5.33" text-anchor="start" font-weight="normal" fill="#222" stroke="#222" stroke-width="0.12" textLength="29.6" lengthAdjust="spacingAndGlyphs" >Gas/keyhole</text>
<text x="455" y="211.2" font-size="5.09" text-anchor="start" font-weight="normal" fill="#222" stroke="#222" stroke-width="0.11" textLength="9.9" lengthAdjust="spacingAndGlyphs" >LOF</text>
<text x="455" y="217.7" font-size="5.27" text-anchor="start" font-weight="normal" fill="#222" stroke="#222" stroke-width="0.12" textLength="36.9" lengthAdjust="spacingAndGlyphs" >Experiment [43]</text>
<rect x="396.2" y="198.4" width="2.9" height="2.9" fill="#222"/>
<circle cx="395.7" cy="199.8" r="1.65" fill="#e8202a"/>
<rect x="412.2" y="216.9" width="2.9" height="2.9" fill="#222"/>
<circle cx="401.0" cy="218.3" r="1.65" fill="#e8202a"/>
<rect x="441.8" y="235.2" width="2.9" height="2.9" fill="#222"/>
<circle cx="434.3" cy="236.7" r="1.65" fill="#e8202a"/>
<path d="M374.6 234.7 L376.6 238.2 L372.6 238.2 Z" fill="#1f5fd0"/>
<path d="M382.9 253.1 L384.9 256.6 L380.9 256.6 Z" fill="#1f5fd0"/>
<path d="M422.3 257.1 L424.3 253.6 L420.3 253.6 Z" fill="#1aa05a"/>
<circle cx="450.1" cy="255.1" r="1.65" fill="#e8202a"/>
<line x1="485" y1="255.1" x2="491.5" y2="255.1" stroke="#222" stroke-width="0.7"/>
<rect x="483.3" y="253.2" width="3.8" height="3.8" fill="#222"/>
<rect x="427.7" y="272.3" width="2.6" height="2.6" fill="#1aa05a"/>
<path d="M429.0 275.6 L431.0 272.1 L427.0 272.1 Z" fill="#1aa05a"/>
<circle cx="449.5" cy="273.6" r="1.65" fill="#e8202a"/>
<path d="M444.4 294.1 L446.4 290.6 L442.4 290.6 Z" fill="#1aa05a"/>
<circle cx="454.4" cy="292.1" r="1.65" fill="#e8202a"/>
<path d="M457.2 290.1 L459.2 293.6 L455.2 293.6 Z" fill="#1f5fd0"/>
<path d="M447.6 312.6 L449.6 309.1 L445.6 309.1 Z" fill="#1aa05a"/>
<circle cx="468.7" cy="310.6" r="1.65" fill="#e8202a"/>
<path d="M475.5 308.6 L477.5 312.1 L473.5 312.1 Z" fill="#1f5fd0"/>
</svg>
</body>
</html>
